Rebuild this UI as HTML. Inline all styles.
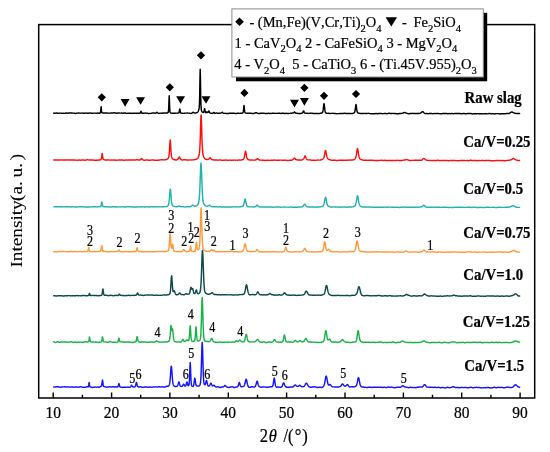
<!DOCTYPE html>
<html><head><meta charset="utf-8"><title>XRD</title>
<style>html,body{margin:0;padding:0;background:#fff}svg{display:block}text{font-kerning:none;stroke:#000;stroke-width:.22px}</style></head>
<body>
<svg width="550" height="452" viewBox="0 0 550 452">
<rect width="550" height="452" fill="#fff"/>
<rect x="38.7" y="24.6" width="496" height="373.4" fill="none" stroke="#000" stroke-width="1.5"/>
<path d="M53.2,398 v-5.5 M82.4,398 v-3.2 M111.6,398 v-5.5 M140.7,398 v-3.2 M169.9,398 v-5.5 M199.1,398 v-3.2 M228.3,398 v-5.5 M257.5,398 v-3.2 M286.6,398 v-5.5 M315.8,398 v-3.2 M345.0,398 v-5.5 M374.2,398 v-3.2 M403.4,398 v-5.5 M432.5,398 v-3.2 M461.7,398 v-5.5 M490.9,398 v-3.2 M520.1,398 v-5.5" stroke="#000" stroke-width="1.4" fill="none"/>
<path d="M53.20,113.03 L53.45,113.07 L53.70,113.12 L53.95,113.18 L54.20,113.20 L54.45,113.23 L54.70,113.25 L54.95,113.24 L55.20,113.19 L55.45,113.14 L55.70,113.10 L55.95,113.05 L56.20,113.03 L56.45,113.02 L56.70,113.06 L56.95,113.12 L57.20,113.17 L57.45,113.22 L57.70,113.21 L57.95,113.24 L58.20,113.22 L58.45,113.18 L58.70,113.14 L58.95,113.15 L59.20,113.17 L59.45,113.16 L59.70,113.12 L59.95,113.12 L60.20,113.13 L60.45,113.11 L60.70,113.12 L60.95,113.15 L61.20,113.24 L61.45,113.29 L61.70,113.33 L61.95,113.38 L62.20,113.38 L62.45,113.35 L62.70,113.30 L62.95,113.29 L63.20,113.30 L63.45,113.28 L63.70,113.30 L63.95,113.35 L64.20,113.37 L64.45,113.37 L64.70,113.34 L64.95,113.30 L65.20,113.24 L65.45,113.13 L65.70,113.04 L65.95,112.97 L66.20,112.94 L66.45,112.95 L66.70,112.99 L66.95,113.08 L67.20,113.14 L67.45,113.20 L67.70,113.20 L67.95,113.19 L68.20,113.13 L68.45,113.06 L68.70,113.05 L68.95,113.02 L69.20,113.03 L69.45,113.04 L69.70,113.06 L69.95,113.07 L70.20,113.04 L70.45,113.01 L70.70,112.99 L70.95,112.95 L71.20,112.93 L71.45,112.92 L71.70,112.93 L71.95,112.97 L72.20,113.00 L72.45,113.05 L72.70,113.10 L72.95,113.12 L73.20,113.14 L73.45,113.13 L73.70,113.13 L73.95,113.16 L74.20,113.18 L74.45,113.22 L74.70,113.28 L74.95,113.36 L75.20,113.42 L75.45,113.42 L75.70,113.41 L75.95,113.38 L76.20,113.33 L76.45,113.27 L76.70,113.21 L76.95,113.15 L77.20,113.12 L77.45,113.10 L77.70,113.07 L77.95,113.03 L78.20,113.02 L78.45,113.05 L78.70,113.05 L78.95,113.04 L79.20,113.05 L79.45,113.09 L79.70,113.12 L79.95,113.13 L80.20,113.13 L80.45,113.15 L80.70,113.17 L80.95,113.15 L81.20,113.13 L81.45,113.11 L81.70,113.10 L81.95,113.08 L82.20,113.05 L82.45,113.06 L82.70,113.10 L82.95,113.12 L83.20,113.16 L83.45,113.19 L83.70,113.23 L83.95,113.24 L84.20,113.23 L84.45,113.23 L84.70,113.20 L84.95,113.17 L85.20,113.15 L85.45,113.11 L85.70,113.08 L85.95,113.06 L86.20,113.05 L86.45,113.07 L86.70,113.10 L86.95,113.15 L87.20,113.20 L87.45,113.23 L87.70,113.26 L87.95,113.27 L88.20,113.25 L88.45,113.20 L88.70,113.16 L88.95,113.11 L89.20,113.08 L89.45,113.05 L89.70,113.04 L89.95,113.05 L90.20,113.07 L90.45,113.09 L90.70,113.12 L90.95,113.13 L91.20,113.17 L91.45,113.17 L91.70,113.17 L91.95,113.17 L92.20,113.17 L92.45,113.17 L92.70,113.17 L92.95,113.15 L93.20,113.15 L93.45,113.15 L93.70,113.14 L93.95,113.13 L94.20,113.10 L94.45,113.11 L94.70,113.12 L94.95,113.11 L95.20,113.14 L95.45,113.14 L95.70,113.19 L95.95,113.23 L96.20,113.27 L96.45,113.29 L96.70,113.29 L96.95,113.28 L97.20,113.23 L97.45,113.15 L97.70,113.07 L97.95,113.03 L98.20,113.02 L98.45,113.06 L98.70,113.12 L98.95,113.17 L99.20,113.22 L99.45,113.22 L99.70,113.19 L99.95,113.09 L100.20,112.91 L100.45,112.42 L100.70,110.74 L100.95,107.39 L101.20,106.75 L101.45,110.04 L101.70,112.04 L101.95,112.63 L102.20,112.77 L102.45,112.85 L102.70,112.94 L102.95,112.99 L103.20,113.02 L103.45,113.01 L103.70,113.01 L103.95,112.98 L104.20,112.95 L104.45,112.94 L104.70,112.95 L104.95,112.98 L105.20,113.00 L105.45,113.02 L105.70,113.02 L105.95,113.00 L106.20,113.00 L106.45,112.97 L106.70,112.99 L106.95,113.00 L107.20,113.03 L107.45,113.08 L107.70,113.10 L107.95,113.14 L108.20,113.13 L108.45,113.15 L108.70,113.16 L108.95,113.13 L109.20,113.15 L109.45,113.14 L109.70,113.17 L109.95,113.15 L110.20,113.13 L110.45,113.10 L110.70,113.04 L110.95,113.00 L111.20,112.97 L111.45,112.95 L111.70,112.95 L111.95,113.01 L112.20,113.05 L112.45,113.07 L112.70,113.08 L112.95,113.07 L113.20,113.02 L113.45,112.94 L113.70,112.87 L113.95,112.82 L114.20,112.78 L114.45,112.74 L114.70,112.78 L114.95,112.83 L115.20,112.90 L115.45,112.99 L115.70,113.08 L115.95,113.20 L116.20,113.26 L116.45,113.28 L116.70,113.27 L116.95,113.23 L117.20,113.18 L117.45,113.10 L117.70,113.02 L117.95,113.00 L118.20,112.97 L118.45,112.97 L118.70,112.98 L118.95,112.99 L119.20,113.04 L119.45,113.06 L119.70,113.12 L119.95,113.13 L120.20,113.13 L120.45,113.14 L120.70,113.11 L120.95,113.09 L121.20,113.06 L121.45,113.07 L121.70,113.09 L121.95,113.12 L122.20,113.16 L122.45,113.21 L122.70,113.23 L122.95,113.23 L123.20,113.18 L123.45,113.13 L123.70,113.08 L123.95,113.03 L124.20,112.97 L124.45,112.93 L124.70,112.95 L124.95,112.97 L125.20,113.00 L125.45,113.05 L125.70,113.14 L125.95,113.25 L126.20,113.32 L126.45,113.37 L126.70,113.38 L126.95,113.39 L127.20,113.35 L127.45,113.31 L127.70,113.25 L127.95,113.23 L128.20,113.26 L128.45,113.27 L128.70,113.28 L128.95,113.28 L129.20,113.30 L129.45,113.29 L129.70,113.24 L129.95,113.20 L130.20,113.18 L130.45,113.15 L130.70,113.17 L130.95,113.20 L131.20,113.26 L131.45,113.32 L131.70,113.38 L131.95,113.42 L132.20,113.40 L132.45,113.38 L132.70,113.30 L132.95,113.25 L133.20,113.19 L133.45,113.18 L133.70,113.18 L133.95,113.20 L134.20,113.25 L134.45,113.26 L134.70,113.26 L134.95,113.23 L135.20,113.19 L135.45,113.15 L135.70,113.14 L135.95,113.16 L136.20,113.18 L136.45,113.20 L136.70,113.26 L136.95,113.31 L137.20,113.33 L137.45,113.33 L137.70,113.32 L137.95,113.31 L138.20,113.26 L138.45,113.23 L138.70,113.19 L138.95,113.17 L139.20,113.19 L139.45,113.23 L139.70,113.24 L139.95,113.23 L140.20,113.09 L140.45,112.72 L140.70,111.98 L140.95,111.28 L141.20,111.60 L141.45,112.37 L141.70,112.90 L141.95,113.13 L142.20,113.23 L142.45,113.26 L142.70,113.26 L142.95,113.24 L143.20,113.22 L143.45,113.19 L143.70,113.18 L143.95,113.17 L144.20,113.16 L144.45,113.16 L144.70,113.14 L144.95,113.12 L145.20,113.09 L145.45,113.09 L145.70,113.09 L145.95,113.10 L146.20,113.11 L146.45,113.15 L146.70,113.18 L146.95,113.22 L147.20,113.25 L147.45,113.30 L147.70,113.36 L147.95,113.40 L148.20,113.44 L148.45,113.46 L148.70,113.49 L148.95,113.48 L149.20,113.46 L149.45,113.43 L149.70,113.40 L149.95,113.39 L150.20,113.40 L150.45,113.41 L150.70,113.39 L150.95,113.37 L151.20,113.35 L151.45,113.28 L151.70,113.20 L151.95,113.13 L152.20,113.09 L152.45,113.06 L152.70,113.07 L152.95,113.10 L153.20,113.10 L153.45,113.09 L153.70,113.08 L153.95,113.08 L154.20,113.07 L154.45,113.06 L154.70,113.08 L154.95,113.13 L155.20,113.16 L155.45,113.16 L155.70,113.13 L155.95,113.08 L156.20,112.95 L156.45,112.74 L156.70,112.47 L156.95,112.28 L157.20,112.39 L157.45,112.67 L157.70,112.93 L157.95,113.09 L158.20,113.19 L158.45,113.29 L158.70,113.35 L158.95,113.35 L159.20,113.35 L159.45,113.33 L159.70,113.27 L159.95,113.19 L160.20,113.13 L160.45,113.12 L160.70,113.10 L160.95,113.12 L161.20,113.19 L161.45,113.22 L161.70,113.24 L161.95,113.22 L162.20,113.21 L162.45,113.14 L162.70,113.05 L162.95,113.00 L163.20,112.97 L163.45,112.98 L163.70,112.97 L163.95,113.02 L164.20,113.07 L164.45,113.09 L164.70,113.10 L164.95,113.08 L165.20,113.07 L165.45,113.05 L165.70,113.02 L165.95,113.01 L166.20,113.00 L166.45,113.01 L166.70,113.02 L166.95,113.02 L167.20,113.00 L167.45,112.96 L167.70,112.87 L167.95,112.69 L168.20,112.30 L168.45,111.25 L168.70,108.02 L168.95,101.11 L169.20,95.76 L169.45,101.07 L169.70,107.94 L169.95,111.18 L170.20,112.25 L170.45,112.65 L170.70,112.87 L170.95,113.01 L171.20,113.10 L171.45,113.14 L171.70,113.14 L171.95,113.16 L172.20,113.17 L172.45,113.18 L172.70,113.19 L172.95,113.19 L173.20,113.20 L173.45,113.19 L173.70,113.17 L173.95,113.17 L174.20,113.19 L174.45,113.20 L174.70,113.18 L174.95,113.17 L175.20,113.19 L175.45,113.17 L175.70,113.14 L175.95,113.13 L176.20,113.13 L176.45,113.14 L176.70,113.15 L176.95,113.13 L177.20,113.15 L177.45,113.15 L177.70,113.15 L177.95,113.14 L178.20,113.08 L178.45,113.05 L178.70,112.94 L178.95,112.70 L179.20,112.04 L179.45,110.60 L179.70,108.97 L179.95,109.25 L180.20,111.05 L180.45,112.34 L180.70,112.89 L180.95,113.07 L181.20,113.12 L181.45,113.15 L181.70,113.18 L181.95,113.20 L182.20,113.24 L182.45,113.30 L182.70,113.33 L182.95,113.35 L183.20,113.36 L183.45,113.37 L183.70,113.35 L183.95,113.31 L184.20,113.30 L184.45,113.27 L184.70,113.22 L184.95,113.15 L185.20,113.14 L185.45,113.14 L185.70,113.12 L185.95,113.12 L186.20,113.13 L186.45,113.14 L186.70,113.12 L186.95,113.09 L187.20,113.08 L187.45,113.06 L187.70,113.07 L187.95,113.10 L188.20,113.12 L188.45,113.13 L188.70,113.13 L188.95,113.14 L189.20,113.15 L189.45,113.16 L189.70,113.19 L189.95,113.28 L190.20,113.35 L190.45,113.40 L190.70,113.41 L190.95,113.41 L191.20,113.38 L191.45,113.30 L191.70,113.18 L191.95,113.05 L192.20,112.88 L192.45,112.66 L192.70,112.43 L192.95,112.28 L193.20,112.31 L193.45,112.42 L193.70,112.57 L193.95,112.71 L194.20,112.83 L194.45,112.91 L194.70,112.95 L194.95,112.96 L195.20,112.94 L195.45,112.93 L195.70,112.89 L195.95,112.85 L196.20,112.78 L196.45,112.72 L196.70,112.68 L196.95,112.61 L197.20,112.49 L197.45,112.30 L197.70,112.05 L197.95,111.72 L198.20,111.28 L198.45,110.74 L198.70,110.08 L198.95,109.22 L199.20,107.65 L199.45,103.83 L199.70,94.58 L199.95,79.18 L200.20,69.20 L200.45,79.60 L200.70,95.44 L200.95,105.00 L201.20,108.97 L201.45,110.53 L201.70,111.29 L201.95,111.74 L202.20,111.98 L202.45,112.15 L202.70,112.28 L202.95,112.37 L203.20,112.41 L203.45,112.40 L203.70,112.22 L203.95,111.62 L204.20,110.38 L204.45,108.85 L204.70,108.66 L204.95,110.11 L205.20,111.55 L205.45,112.34 L205.70,112.62 L205.95,112.71 L206.20,112.66 L206.45,112.44 L206.70,112.09 L206.95,111.81 L207.20,111.91 L207.45,112.20 L207.70,112.42 L207.95,112.45 L208.20,112.26 L208.45,111.77 L208.70,111.12 L208.95,110.92 L209.20,111.46 L209.45,112.17 L209.70,112.67 L209.95,112.93 L210.20,113.05 L210.45,113.11 L210.70,113.15 L210.95,113.17 L211.20,113.18 L211.45,113.19 L211.70,113.19 L211.95,113.18 L212.20,113.17 L212.45,113.18 L212.70,113.18 L212.95,113.15 L213.20,113.05 L213.45,112.87 L213.70,112.62 L213.95,112.40 L214.20,112.54 L214.45,112.87 L214.70,113.14 L214.95,113.25 L215.20,113.26 L215.45,113.24 L215.70,113.18 L215.95,113.13 L216.20,113.08 L216.45,113.09 L216.70,113.07 L216.95,113.11 L217.20,113.16 L217.45,113.21 L217.70,113.24 L217.95,113.24 L218.20,113.26 L218.45,113.23 L218.70,113.19 L218.95,113.18 L219.20,113.16 L219.45,113.17 L219.70,113.18 L219.95,113.19 L220.20,113.17 L220.45,113.12 L220.70,113.06 L220.95,112.99 L221.20,112.90 L221.45,112.81 L221.70,112.68 L221.95,112.46 L222.20,112.22 L222.45,112.20 L222.70,112.55 L222.95,112.93 L223.20,113.21 L223.45,113.36 L223.70,113.40 L223.95,113.38 L224.20,113.36 L224.45,113.36 L224.70,113.32 L224.95,113.32 L225.20,113.35 L225.45,113.40 L225.70,113.39 L225.95,113.40 L226.20,113.43 L226.45,113.46 L226.70,113.44 L226.95,113.40 L227.20,113.43 L227.45,113.45 L227.70,113.45 L227.95,113.43 L228.20,113.44 L228.45,113.45 L228.70,113.42 L228.95,113.36 L229.20,113.31 L229.45,113.28 L229.70,113.24 L229.95,113.21 L230.20,113.20 L230.45,113.21 L230.70,113.22 L230.95,113.22 L231.20,113.24 L231.45,113.25 L231.70,113.27 L231.95,113.28 L232.20,113.28 L232.45,113.30 L232.70,113.30 L232.95,113.30 L233.20,113.27 L233.45,113.27 L233.70,113.29 L233.95,113.28 L234.20,113.31 L234.45,113.34 L234.70,113.39 L234.95,113.40 L235.20,113.44 L235.45,113.47 L235.70,113.47 L235.95,113.48 L236.20,113.46 L236.45,113.44 L236.70,113.39 L236.95,113.35 L237.20,113.31 L237.45,113.27 L237.70,113.27 L237.95,113.28 L238.20,113.28 L238.45,113.29 L238.70,113.34 L238.95,113.38 L239.20,113.39 L239.45,113.37 L239.70,113.37 L239.95,113.35 L240.20,113.29 L240.45,113.24 L240.70,113.20 L240.95,113.19 L241.20,113.18 L241.45,113.18 L241.70,113.19 L241.95,113.18 L242.20,113.15 L242.45,113.10 L242.70,112.98 L242.95,112.69 L243.20,111.96 L243.45,110.31 L243.70,107.64 L243.95,105.46 L244.20,106.49 L244.45,109.27 L244.70,111.38 L244.95,112.42 L245.20,112.84 L245.45,113.04 L245.70,113.11 L245.95,113.12 L246.20,113.12 L246.45,113.15 L246.70,113.17 L246.95,113.20 L247.20,113.22 L247.45,113.24 L247.70,113.26 L247.95,113.26 L248.20,113.24 L248.45,113.22 L248.70,113.23 L248.95,113.24 L249.20,113.25 L249.45,113.26 L249.70,113.28 L249.95,113.28 L250.20,113.28 L250.45,113.28 L250.70,113.29 L250.95,113.29 L251.20,113.30 L251.45,113.36 L251.70,113.37 L251.95,113.39 L252.20,113.43 L252.45,113.45 L252.70,113.48 L252.95,113.46 L253.20,113.46 L253.45,113.44 L253.70,113.38 L253.95,113.35 L254.20,113.29 L254.45,113.24 L254.70,113.16 L254.95,113.08 L255.20,112.97 L255.45,112.82 L255.70,112.67 L255.95,112.61 L256.20,112.62 L256.45,112.71 L256.70,112.87 L256.95,113.01 L257.20,113.13 L257.45,113.24 L257.70,113.34 L257.95,113.40 L258.20,113.43 L258.45,113.47 L258.70,113.53 L258.95,113.53 L259.20,113.49 L259.45,113.47 L259.70,113.43 L259.95,113.38 L260.20,113.33 L260.45,113.28 L260.70,113.27 L260.95,113.26 L261.20,113.26 L261.45,113.27 L261.70,113.29 L261.95,113.30 L262.20,113.27 L262.45,113.26 L262.70,113.24 L262.95,113.20 L263.20,113.18 L263.45,113.20 L263.70,113.24 L263.95,113.29 L264.20,113.32 L264.45,113.37 L264.70,113.40 L264.95,113.42 L265.20,113.42 L265.45,113.41 L265.70,113.44 L265.95,113.44 L266.20,113.45 L266.45,113.45 L266.70,113.47 L266.95,113.49 L267.20,113.47 L267.45,113.45 L267.70,113.40 L267.95,113.35 L268.20,113.32 L268.45,113.31 L268.70,113.32 L268.95,113.32 L269.20,113.38 L269.45,113.44 L269.70,113.42 L269.95,113.41 L270.20,113.39 L270.45,113.41 L270.70,113.38 L270.95,113.37 L271.20,113.40 L271.45,113.41 L271.70,113.39 L271.95,113.33 L272.20,113.28 L272.45,113.24 L272.70,113.21 L272.95,113.20 L273.20,113.24 L273.45,113.29 L273.70,113.34 L273.95,113.37 L274.20,113.37 L274.45,113.38 L274.70,113.35 L274.95,113.33 L275.20,113.33 L275.45,113.35 L275.70,113.37 L275.95,113.35 L276.20,113.38 L276.45,113.40 L276.70,113.39 L276.95,113.37 L277.20,113.35 L277.45,113.36 L277.70,113.34 L277.95,113.29 L278.20,113.25 L278.45,113.22 L278.70,113.21 L278.95,113.18 L279.20,113.17 L279.45,113.20 L279.70,113.24 L279.95,113.30 L280.20,113.35 L280.45,113.39 L280.70,113.42 L280.95,113.43 L281.20,113.41 L281.45,113.35 L281.70,113.29 L281.95,113.25 L282.20,113.20 L282.45,113.17 L282.70,113.17 L282.95,113.18 L283.20,113.20 L283.45,113.23 L283.70,113.28 L283.95,113.34 L284.20,113.39 L284.45,113.44 L284.70,113.47 L284.95,113.46 L285.20,113.44 L285.45,113.40 L285.70,113.34 L285.95,113.31 L286.20,113.31 L286.45,113.36 L286.70,113.40 L286.95,113.42 L287.20,113.46 L287.45,113.48 L287.70,113.49 L287.95,113.47 L288.20,113.44 L288.45,113.44 L288.70,113.42 L288.95,113.42 L289.20,113.40 L289.45,113.38 L289.70,113.36 L289.95,113.35 L290.20,113.34 L290.45,113.31 L290.70,113.29 L290.95,113.27 L291.20,113.25 L291.45,113.22 L291.70,113.17 L291.95,113.13 L292.20,113.09 L292.45,113.07 L292.70,113.07 L292.95,113.04 L293.20,112.99 L293.45,112.91 L293.70,112.72 L293.95,112.46 L294.20,112.15 L294.45,111.99 L294.70,112.12 L294.95,112.45 L295.20,112.80 L295.45,113.03 L295.70,113.16 L295.95,113.24 L296.20,113.26 L296.45,113.25 L296.70,113.24 L296.95,113.27 L297.20,113.31 L297.45,113.34 L297.70,113.35 L297.95,113.41 L298.20,113.44 L298.45,113.45 L298.70,113.47 L298.95,113.47 L299.20,113.51 L299.45,113.48 L299.70,113.49 L299.95,113.49 L300.20,113.47 L300.45,113.46 L300.70,113.41 L300.95,113.39 L301.20,113.36 L301.45,113.30 L301.70,113.25 L301.95,113.20 L302.20,113.12 L302.45,112.97 L302.70,112.68 L302.95,112.21 L303.20,111.53 L303.45,110.87 L303.70,110.86 L303.95,111.49 L304.20,112.26 L304.45,112.78 L304.70,113.03 L304.95,113.15 L305.20,113.18 L305.45,113.22 L305.70,113.24 L305.95,113.27 L306.20,113.31 L306.45,113.31 L306.70,113.31 L306.95,113.31 L307.20,113.33 L307.45,113.34 L307.70,113.37 L307.95,113.39 L308.20,113.41 L308.45,113.40 L308.70,113.39 L308.95,113.37 L309.20,113.35 L309.45,113.31 L309.70,113.29 L309.95,113.28 L310.20,113.24 L310.45,113.21 L310.70,113.19 L310.95,113.18 L311.20,113.14 L311.45,113.13 L311.70,113.15 L311.95,113.20 L312.20,113.22 L312.45,113.27 L312.70,113.34 L312.95,113.42 L313.20,113.47 L313.45,113.47 L313.70,113.50 L313.95,113.50 L314.20,113.52 L314.45,113.49 L314.70,113.47 L314.95,113.49 L315.20,113.49 L315.45,113.50 L315.70,113.48 L315.95,113.48 L316.20,113.47 L316.45,113.45 L316.70,113.43 L316.95,113.42 L317.20,113.41 L317.45,113.43 L317.70,113.46 L317.95,113.50 L318.20,113.54 L318.45,113.56 L318.70,113.61 L318.95,113.60 L319.20,113.56 L319.45,113.49 L319.70,113.43 L319.95,113.40 L320.20,113.34 L320.45,113.30 L320.70,113.26 L320.95,113.23 L321.20,113.19 L321.45,113.12 L321.70,113.00 L321.95,112.87 L322.20,112.71 L322.45,112.44 L322.70,111.92 L322.95,110.95 L323.20,109.41 L323.45,107.28 L323.70,104.97 L323.95,103.59 L324.20,104.18 L324.45,106.26 L324.70,108.60 L324.95,110.45 L325.20,111.69 L325.45,112.43 L325.70,112.85 L325.95,113.07 L326.20,113.19 L326.45,113.24 L326.70,113.30 L326.95,113.33 L327.20,113.33 L327.45,113.35 L327.70,113.35 L327.95,113.36 L328.20,113.33 L328.45,113.32 L328.70,113.33 L328.95,113.34 L329.20,113.35 L329.45,113.38 L329.70,113.43 L329.95,113.44 L330.20,113.43 L330.45,113.40 L330.70,113.40 L330.95,113.38 L331.20,113.35 L331.45,113.35 L331.70,113.37 L331.95,113.37 L332.20,113.36 L332.45,113.34 L332.70,113.35 L332.95,113.35 L333.20,113.33 L333.45,113.37 L333.70,113.39 L333.95,113.41 L334.20,113.41 L334.45,113.43 L334.70,113.46 L334.95,113.46 L335.20,113.50 L335.45,113.55 L335.70,113.61 L335.95,113.62 L336.20,113.65 L336.45,113.67 L336.70,113.66 L336.95,113.66 L337.20,113.63 L337.45,113.63 L337.70,113.61 L337.95,113.60 L338.20,113.61 L338.45,113.61 L338.70,113.62 L338.95,113.62 L339.20,113.60 L339.45,113.59 L339.70,113.57 L339.95,113.55 L340.20,113.50 L340.45,113.48 L340.70,113.50 L340.95,113.51 L341.20,113.53 L341.45,113.54 L341.70,113.58 L341.95,113.60 L342.20,113.59 L342.45,113.59 L342.70,113.55 L342.95,113.53 L343.20,113.47 L343.45,113.41 L343.70,113.36 L343.95,113.31 L344.20,113.29 L344.45,113.27 L344.70,113.31 L344.95,113.36 L345.20,113.38 L345.45,113.40 L345.70,113.40 L345.95,113.41 L346.20,113.41 L346.45,113.42 L346.70,113.43 L346.95,113.45 L347.20,113.50 L347.45,113.54 L347.70,113.53 L347.95,113.49 L348.20,113.48 L348.45,113.48 L348.70,113.46 L348.95,113.43 L349.20,113.44 L349.45,113.45 L349.70,113.46 L349.95,113.47 L350.20,113.48 L350.45,113.49 L350.70,113.52 L350.95,113.57 L351.20,113.59 L351.45,113.59 L351.70,113.60 L351.95,113.60 L352.20,113.56 L352.45,113.48 L352.70,113.41 L352.95,113.33 L353.20,113.24 L353.45,113.14 L353.70,113.05 L353.95,112.96 L354.20,112.81 L354.45,112.56 L354.70,112.07 L354.95,111.17 L355.20,109.75 L355.45,107.80 L355.70,105.74 L355.95,104.53 L356.20,105.13 L356.45,107.06 L356.70,109.15 L356.95,110.81 L357.20,111.88 L357.45,112.50 L357.70,112.81 L357.95,112.97 L358.20,113.05 L358.45,113.12 L358.70,113.18 L358.95,113.22 L359.20,113.27 L359.45,113.31 L359.70,113.37 L359.95,113.41 L360.20,113.43 L360.45,113.45 L360.70,113.44 L360.95,113.43 L361.20,113.44 L361.45,113.43 L361.70,113.46 L361.95,113.49 L362.20,113.53 L362.45,113.56 L362.70,113.54 L362.95,113.55 L363.20,113.51 L363.45,113.46 L363.70,113.41 L363.95,113.38 L364.20,113.39 L364.45,113.38 L364.70,113.39 L364.95,113.43 L365.20,113.45 L365.45,113.51 L365.70,113.53 L365.95,113.55 L366.20,113.54 L366.45,113.51 L366.70,113.50 L366.95,113.43 L367.20,113.40 L367.45,113.38 L367.70,113.37 L367.95,113.36 L368.20,113.32 L368.45,113.36 L368.70,113.36 L368.95,113.40 L369.20,113.45 L369.45,113.52 L369.70,113.62 L369.95,113.65 L370.20,113.67 L370.45,113.68 L370.70,113.66 L370.95,113.63 L371.20,113.61 L371.45,113.62 L371.70,113.68 L371.95,113.72 L372.20,113.78 L372.45,113.83 L372.70,113.82 L372.95,113.81 L373.20,113.77 L373.45,113.74 L373.70,113.70 L373.95,113.70 L374.20,113.74 L374.45,113.75 L374.70,113.74 L374.95,113.74 L375.20,113.69 L375.45,113.62 L375.70,113.54 L375.95,113.51 L376.20,113.49 L376.45,113.49 L376.70,113.56 L376.95,113.62 L377.20,113.66 L377.45,113.71 L377.70,113.71 L377.95,113.68 L378.20,113.61 L378.45,113.55 L378.70,113.50 L378.95,113.43 L379.20,113.43 L379.45,113.42 L379.70,113.42 L379.95,113.39 L380.20,113.40 L380.45,113.41 L380.70,113.40 L380.95,113.43 L381.20,113.48 L381.45,113.57 L381.70,113.60 L381.95,113.63 L382.20,113.65 L382.45,113.66 L382.70,113.65 L382.95,113.63 L383.20,113.62 L383.45,113.60 L383.70,113.60 L383.95,113.59 L384.20,113.58 L384.45,113.55 L384.70,113.54 L384.95,113.53 L385.20,113.50 L385.45,113.49 L385.70,113.50 L385.95,113.54 L386.20,113.56 L386.45,113.60 L386.70,113.67 L386.95,113.71 L387.20,113.71 L387.45,113.65 L387.70,113.61 L387.95,113.52 L388.20,113.42 L388.45,113.31 L388.70,113.25 L388.95,113.25 L389.20,113.25 L389.45,113.28 L389.70,113.33 L389.95,113.42 L390.20,113.48 L390.45,113.49 L390.70,113.53 L390.95,113.57 L391.20,113.57 L391.45,113.54 L391.70,113.51 L391.95,113.50 L392.20,113.46 L392.45,113.39 L392.70,113.36 L392.95,113.37 L393.20,113.38 L393.45,113.41 L393.70,113.44 L393.95,113.48 L394.20,113.50 L394.45,113.50 L394.70,113.48 L394.95,113.49 L395.20,113.53 L395.45,113.57 L395.70,113.65 L395.95,113.71 L396.20,113.79 L396.45,113.82 L396.70,113.80 L396.95,113.79 L397.20,113.75 L397.45,113.73 L397.70,113.72 L397.95,113.72 L398.20,113.73 L398.45,113.71 L398.70,113.69 L398.95,113.66 L399.20,113.59 L399.45,113.57 L399.70,113.53 L399.95,113.52 L400.20,113.50 L400.45,113.50 L400.70,113.50 L400.95,113.47 L401.20,113.43 L401.45,113.37 L401.70,113.35 L401.95,113.30 L402.20,113.25 L402.45,113.19 L402.70,113.15 L402.95,113.10 L403.20,113.00 L403.45,112.89 L403.70,112.79 L403.95,112.69 L404.20,112.60 L404.45,112.53 L404.70,112.51 L404.95,112.55 L405.20,112.61 L405.45,112.69 L405.70,112.80 L405.95,112.94 L406.20,113.07 L406.45,113.18 L406.70,113.28 L406.95,113.37 L407.20,113.44 L407.45,113.47 L407.70,113.51 L407.95,113.58 L408.20,113.66 L408.45,113.71 L408.70,113.74 L408.95,113.75 L409.20,113.74 L409.45,113.64 L409.70,113.54 L409.95,113.49 L410.20,113.46 L410.45,113.44 L410.70,113.44 L410.95,113.48 L411.20,113.51 L411.45,113.48 L411.70,113.44 L411.95,113.41 L412.20,113.37 L412.45,113.35 L412.70,113.33 L412.95,113.35 L413.20,113.38 L413.45,113.42 L413.70,113.44 L413.95,113.47 L414.20,113.49 L414.45,113.52 L414.70,113.53 L414.95,113.53 L415.20,113.56 L415.45,113.56 L415.70,113.57 L415.95,113.55 L416.20,113.55 L416.45,113.55 L416.70,113.52 L416.95,113.50 L417.20,113.47 L417.45,113.50 L417.70,113.50 L417.95,113.50 L418.20,113.53 L418.45,113.54 L418.70,113.55 L418.95,113.50 L419.20,113.44 L419.45,113.40 L419.70,113.33 L419.95,113.25 L420.20,113.16 L420.45,113.05 L420.70,112.93 L420.95,112.75 L421.20,112.59 L421.45,112.37 L421.70,112.16 L421.95,111.97 L422.20,111.79 L422.45,111.69 L422.70,111.69 L422.95,111.85 L423.20,112.06 L423.45,112.32 L423.70,112.57 L423.95,112.80 L424.20,113.01 L424.45,113.17 L424.70,113.32 L424.95,113.44 L425.20,113.54 L425.45,113.61 L425.70,113.62 L425.95,113.60 L426.20,113.57 L426.45,113.55 L426.70,113.54 L426.95,113.55 L427.20,113.58 L427.45,113.63 L427.70,113.68 L427.95,113.68 L428.20,113.66 L428.45,113.63 L428.70,113.61 L428.95,113.58 L429.20,113.52 L429.45,113.54 L429.70,113.54 L429.95,113.52 L430.20,113.51 L430.45,113.51 L430.70,113.53 L430.95,113.51 L431.20,113.53 L431.45,113.55 L431.70,113.58 L431.95,113.61 L432.20,113.64 L432.45,113.67 L432.70,113.66 L432.95,113.67 L433.20,113.64 L433.45,113.61 L433.70,113.59 L433.95,113.57 L434.20,113.57 L434.45,113.58 L434.70,113.61 L434.95,113.61 L435.20,113.61 L435.45,113.61 L435.70,113.58 L435.95,113.52 L436.20,113.47 L436.45,113.47 L436.70,113.46 L436.95,113.45 L437.20,113.44 L437.45,113.48 L437.70,113.53 L437.95,113.53 L438.20,113.53 L438.45,113.55 L438.70,113.62 L438.95,113.64 L439.20,113.63 L439.45,113.64 L439.70,113.66 L439.95,113.67 L440.20,113.66 L440.45,113.67 L440.70,113.71 L440.95,113.76 L441.20,113.77 L441.45,113.76 L441.70,113.74 L441.95,113.70 L442.20,113.62 L442.45,113.55 L442.70,113.53 L442.95,113.51 L443.20,113.51 L443.45,113.51 L443.70,113.54 L443.95,113.55 L444.20,113.55 L444.45,113.54 L444.70,113.53 L444.95,113.52 L445.20,113.50 L445.45,113.50 L445.70,113.47 L445.95,113.46 L446.20,113.47 L446.45,113.48 L446.70,113.51 L446.95,113.55 L447.20,113.62 L447.45,113.67 L447.70,113.72 L447.95,113.74 L448.20,113.73 L448.45,113.68 L448.70,113.63 L448.95,113.59 L449.20,113.57 L449.45,113.56 L449.70,113.58 L449.95,113.63 L450.20,113.66 L450.45,113.68 L450.70,113.67 L450.95,113.65 L451.20,113.63 L451.45,113.59 L451.70,113.57 L451.95,113.57 L452.20,113.59 L452.45,113.59 L452.70,113.61 L452.95,113.63 L453.20,113.67 L453.45,113.66 L453.70,113.65 L453.95,113.65 L454.20,113.61 L454.45,113.61 L454.70,113.56 L454.95,113.54 L455.20,113.52 L455.45,113.50 L455.70,113.50 L455.95,113.48 L456.20,113.51 L456.45,113.54 L456.70,113.55 L456.95,113.56 L457.20,113.55 L457.45,113.54 L457.70,113.51 L457.95,113.47 L458.20,113.45 L458.45,113.46 L458.70,113.46 L458.95,113.50 L459.20,113.52 L459.45,113.55 L459.70,113.57 L459.95,113.56 L460.20,113.61 L460.45,113.65 L460.70,113.70 L460.95,113.71 L461.20,113.72 L461.45,113.76 L461.70,113.72 L461.95,113.67 L462.20,113.64 L462.45,113.64 L462.70,113.62 L462.95,113.59 L463.20,113.59 L463.45,113.58 L463.70,113.56 L463.95,113.55 L464.20,113.57 L464.45,113.59 L464.70,113.63 L464.95,113.69 L465.20,113.73 L465.45,113.75 L465.70,113.74 L465.95,113.74 L466.20,113.74 L466.45,113.69 L466.70,113.64 L466.95,113.64 L467.20,113.63 L467.45,113.59 L467.70,113.53 L467.95,113.53 L468.20,113.55 L468.45,113.52 L468.70,113.51 L468.95,113.55 L469.20,113.61 L469.45,113.60 L469.70,113.57 L469.95,113.57 L470.20,113.56 L470.45,113.56 L470.70,113.53 L470.95,113.56 L471.20,113.62 L471.45,113.68 L471.70,113.76 L471.95,113.82 L472.20,113.89 L472.45,113.92 L472.70,113.91 L472.95,113.89 L473.20,113.87 L473.45,113.82 L473.70,113.77 L473.95,113.75 L474.20,113.77 L474.45,113.80 L474.70,113.78 L474.95,113.79 L475.20,113.80 L475.45,113.81 L475.70,113.77 L475.95,113.71 L476.20,113.71 L476.45,113.69 L476.70,113.67 L476.95,113.62 L477.20,113.63 L477.45,113.64 L477.70,113.64 L477.95,113.64 L478.20,113.66 L478.45,113.71 L478.70,113.72 L478.95,113.75 L479.20,113.77 L479.45,113.78 L479.70,113.78 L479.95,113.78 L480.20,113.77 L480.45,113.74 L480.70,113.73 L480.95,113.72 L481.20,113.70 L481.45,113.70 L481.70,113.72 L481.95,113.74 L482.20,113.77 L482.45,113.80 L482.70,113.85 L482.95,113.86 L483.20,113.85 L483.45,113.86 L483.70,113.84 L483.95,113.81 L484.20,113.77 L484.45,113.75 L484.70,113.73 L484.95,113.70 L485.20,113.67 L485.45,113.67 L485.70,113.67 L485.95,113.68 L486.20,113.73 L486.45,113.79 L486.70,113.84 L486.95,113.87 L487.20,113.89 L487.45,113.88 L487.70,113.84 L487.95,113.78 L488.20,113.70 L488.45,113.64 L488.70,113.58 L488.95,113.53 L489.20,113.46 L489.45,113.45 L489.70,113.49 L489.95,113.52 L490.20,113.58 L490.45,113.63 L490.70,113.72 L490.95,113.78 L491.20,113.78 L491.45,113.77 L491.70,113.75 L491.95,113.73 L492.20,113.69 L492.45,113.64 L492.70,113.64 L492.95,113.67 L493.20,113.73 L493.45,113.77 L493.70,113.83 L493.95,113.88 L494.20,113.91 L494.45,113.93 L494.70,113.90 L494.95,113.87 L495.20,113.81 L495.45,113.77 L495.70,113.72 L495.95,113.65 L496.20,113.61 L496.45,113.60 L496.70,113.60 L496.95,113.61 L497.20,113.60 L497.45,113.61 L497.70,113.62 L497.95,113.62 L498.20,113.64 L498.45,113.66 L498.70,113.71 L498.95,113.77 L499.20,113.82 L499.45,113.88 L499.70,113.91 L499.95,113.93 L500.20,113.93 L500.45,113.91 L500.70,113.88 L500.95,113.83 L501.20,113.78 L501.45,113.77 L501.70,113.75 L501.95,113.77 L502.20,113.80 L502.45,113.81 L502.70,113.82 L502.95,113.81 L503.20,113.79 L503.45,113.75 L503.70,113.70 L503.95,113.70 L504.20,113.70 L504.45,113.71 L504.70,113.73 L504.95,113.74 L505.20,113.74 L505.45,113.69 L505.70,113.66 L505.95,113.62 L506.20,113.57 L506.45,113.57 L506.70,113.55 L506.95,113.55 L507.20,113.54 L507.45,113.54 L507.70,113.54 L507.95,113.53 L508.20,113.54 L508.45,113.54 L508.70,113.51 L508.95,113.45 L509.20,113.36 L509.45,113.26 L509.70,113.11 L509.95,112.96 L510.20,112.77 L510.45,112.59 L510.70,112.42 L510.95,112.23 L511.20,112.07 L511.45,111.97 L511.70,111.94 L511.95,111.95 L512.20,112.01 L512.45,112.15 L512.70,112.30 L512.95,112.44 L513.20,112.59 L513.45,112.74 L513.70,112.88 L513.95,112.98 L514.20,113.09 L514.45,113.17 L514.70,113.20 L514.95,113.26 L515.20,113.31 L515.45,113.33 L515.70,113.37 L515.95,113.41 L516.20,113.46 L516.45,113.48 L516.70,113.48 L516.95,113.50 L517.20,113.49 L517.45,113.48 L517.70,113.47 L517.95,113.46 L518.20,113.47 L518.45,113.47 L518.70,113.50 L518.95,113.51 L519.20,113.53 L519.45,113.55 L519.70,113.57 L519.95,113.60 L520.20,113.62" fill="none" stroke="#000000" stroke-width="1.45" stroke-linejoin="round"/>
<path d="M53.20,159.91 L53.45,159.91 L53.70,159.89 L53.95,159.90 L54.20,159.91 L54.45,159.91 L54.70,159.91 L54.95,159.91 L55.20,159.94 L55.45,159.97 L55.70,160.01 L55.95,160.04 L56.20,160.07 L56.45,160.10 L56.70,160.07 L56.95,160.06 L57.20,160.03 L57.45,160.02 L57.70,160.02 L57.95,160.01 L58.20,160.05 L58.45,160.06 L58.70,160.07 L58.95,160.07 L59.20,160.05 L59.45,160.05 L59.70,160.01 L59.95,159.98 L60.20,159.94 L60.45,159.91 L60.70,159.89 L60.95,159.88 L61.20,159.89 L61.45,159.90 L61.70,159.92 L61.95,159.94 L62.20,159.98 L62.45,159.98 L62.70,159.99 L62.95,160.00 L63.20,160.03 L63.45,160.05 L63.70,160.05 L63.95,160.08 L64.20,160.09 L64.45,160.07 L64.70,160.07 L64.95,160.06 L65.20,160.08 L65.45,160.08 L65.70,160.08 L65.95,160.09 L66.20,160.06 L66.45,160.04 L66.70,159.98 L66.95,159.93 L67.20,159.88 L67.45,159.87 L67.70,159.87 L67.95,159.89 L68.20,159.94 L68.45,160.00 L68.70,160.04 L68.95,160.06 L69.20,160.06 L69.45,160.04 L69.70,160.00 L69.95,159.96 L70.20,159.95 L70.45,159.95 L70.70,159.93 L70.95,159.93 L71.20,159.94 L71.45,159.96 L71.70,159.96 L71.95,159.97 L72.20,160.01 L72.45,160.05 L72.70,160.08 L72.95,160.09 L73.20,160.09 L73.45,160.07 L73.70,160.06 L73.95,160.06 L74.20,160.08 L74.45,160.08 L74.70,160.09 L74.95,160.13 L75.20,160.16 L75.45,160.16 L75.70,160.15 L75.95,160.14 L76.20,160.15 L76.45,160.14 L76.70,160.12 L76.95,160.13 L77.20,160.15 L77.45,160.18 L77.70,160.19 L77.95,160.19 L78.20,160.19 L78.45,160.16 L78.70,160.13 L78.95,160.08 L79.20,160.04 L79.45,160.04 L79.70,160.04 L79.95,160.09 L80.20,160.13 L80.45,160.16 L80.70,160.19 L80.95,160.18 L81.20,160.15 L81.45,160.10 L81.70,160.04 L81.95,160.00 L82.20,159.97 L82.45,159.95 L82.70,159.95 L82.95,159.96 L83.20,159.99 L83.45,160.02 L83.70,160.06 L83.95,160.10 L84.20,160.15 L84.45,160.18 L84.70,160.20 L84.95,160.19 L85.20,160.16 L85.45,160.13 L85.70,160.06 L85.95,160.00 L86.20,159.95 L86.45,159.89 L86.70,159.85 L86.95,159.82 L87.20,159.82 L87.45,159.83 L87.70,159.83 L87.95,159.87 L88.20,159.88 L88.45,159.90 L88.70,159.90 L88.95,159.94 L89.20,159.99 L89.45,160.00 L89.70,160.03 L89.95,160.04 L90.20,160.04 L90.45,160.00 L90.70,159.96 L90.95,159.96 L91.20,159.94 L91.45,159.95 L91.70,159.99 L91.95,160.02 L92.20,160.04 L92.45,160.06 L92.70,160.08 L92.95,160.08 L93.20,160.08 L93.45,160.11 L93.70,160.14 L93.95,160.16 L94.20,160.17 L94.45,160.19 L94.70,160.21 L94.95,160.20 L95.20,160.18 L95.45,160.18 L95.70,160.20 L95.95,160.22 L96.20,160.23 L96.45,160.24 L96.70,160.26 L96.95,160.25 L97.20,160.22 L97.45,160.17 L97.70,160.12 L97.95,160.06 L98.20,160.01 L98.45,159.96 L98.70,159.94 L98.95,159.91 L99.20,159.90 L99.45,159.90 L99.70,159.91 L99.95,159.92 L100.20,159.90 L100.45,159.86 L100.70,159.74 L100.95,159.52 L101.20,159.10 L101.45,158.29 L101.70,156.86 L101.95,154.84 L102.20,153.58 L102.45,154.80 L102.70,156.77 L102.95,158.15 L103.20,158.89 L103.45,159.23 L103.70,159.43 L103.95,159.57 L104.20,159.70 L104.45,159.80 L104.70,159.85 L104.95,159.91 L105.20,159.95 L105.45,159.96 L105.70,159.93 L105.95,159.91 L106.20,159.91 L106.45,159.92 L106.70,159.92 L106.95,159.90 L107.20,159.91 L107.45,159.91 L107.70,159.91 L107.95,159.91 L108.20,159.88 L108.45,159.90 L108.70,159.91 L108.95,159.96 L109.20,160.00 L109.45,160.02 L109.70,160.09 L109.95,160.14 L110.20,160.17 L110.45,160.15 L110.70,160.11 L110.95,160.10 L111.20,160.07 L111.45,160.01 L111.70,159.98 L111.95,160.00 L112.20,160.04 L112.45,160.07 L112.70,160.10 L112.95,160.15 L113.20,160.17 L113.45,160.15 L113.70,160.12 L113.95,160.07 L114.20,160.02 L114.45,159.99 L114.70,159.98 L114.95,160.01 L115.20,160.05 L115.45,160.11 L115.70,160.16 L115.95,160.19 L116.20,160.19 L116.45,160.17 L116.70,160.17 L116.95,160.16 L117.20,160.14 L117.45,160.13 L117.70,160.13 L117.95,160.14 L118.20,160.11 L118.45,160.08 L118.70,160.07 L118.95,160.07 L119.20,160.05 L119.45,160.03 L119.70,160.04 L119.95,160.04 L120.20,160.03 L120.45,160.02 L120.70,160.03 L120.95,160.03 L121.20,160.01 L121.45,159.99 L121.70,159.97 L121.95,159.96 L122.20,159.94 L122.45,159.96 L122.70,160.00 L122.95,160.07 L123.20,160.13 L123.45,160.17 L123.70,160.20 L123.95,160.22 L124.20,160.19 L124.45,160.17 L124.70,160.13 L124.95,160.10 L125.20,160.08 L125.45,160.05 L125.70,160.03 L125.95,159.99 L126.20,159.98 L126.45,159.96 L126.70,159.97 L126.95,159.98 L127.20,160.03 L127.45,160.07 L127.70,160.10 L127.95,160.10 L128.20,160.09 L128.45,160.06 L128.70,160.00 L128.95,159.98 L129.20,159.96 L129.45,159.98 L129.70,159.98 L129.95,159.98 L130.20,160.01 L130.45,160.01 L130.70,160.01 L130.95,159.99 L131.20,159.98 L131.45,159.97 L131.70,159.97 L131.95,159.97 L132.20,159.98 L132.45,159.99 L132.70,160.00 L132.95,160.02 L133.20,160.03 L133.45,160.04 L133.70,160.04 L133.95,160.05 L134.20,160.05 L134.45,160.04 L134.70,160.03 L134.95,159.99 L135.20,159.97 L135.45,159.93 L135.70,159.90 L135.95,159.87 L136.20,159.83 L136.45,159.81 L136.70,159.79 L136.95,159.80 L137.20,159.81 L137.45,159.83 L137.70,159.87 L137.95,159.90 L138.20,159.94 L138.45,159.98 L138.70,160.03 L138.95,160.07 L139.20,160.09 L139.45,160.06 L139.70,160.03 L139.95,159.95 L140.20,159.83 L140.45,159.63 L140.70,159.38 L140.95,159.11 L141.20,158.80 L141.45,158.60 L141.70,158.66 L141.95,158.93 L142.20,159.23 L142.45,159.47 L142.70,159.66 L142.95,159.83 L143.20,159.95 L143.45,160.04 L143.70,160.10 L143.95,160.16 L144.20,160.20 L144.45,160.19 L144.70,160.18 L144.95,160.16 L145.20,160.14 L145.45,160.10 L145.70,160.08 L145.95,160.05 L146.20,160.00 L146.45,159.99 L146.70,159.97 L146.95,159.98 L147.20,159.98 L147.45,160.01 L147.70,160.04 L147.95,160.07 L148.20,160.11 L148.45,160.15 L148.70,160.19 L148.95,160.23 L149.20,160.25 L149.45,160.25 L149.70,160.21 L149.95,160.20 L150.20,160.18 L150.45,160.16 L150.70,160.13 L150.95,160.11 L151.20,160.11 L151.45,160.09 L151.70,160.04 L151.95,159.99 L152.20,159.95 L152.45,159.93 L152.70,159.92 L152.95,159.91 L153.20,159.93 L153.45,159.98 L153.70,160.03 L153.95,160.09 L154.20,160.14 L154.45,160.19 L154.70,160.24 L154.95,160.27 L155.20,160.29 L155.45,160.27 L155.70,160.26 L155.95,160.25 L156.20,160.21 L156.45,160.19 L156.70,160.16 L156.95,160.17 L157.20,160.16 L157.45,160.17 L157.70,160.20 L157.95,160.21 L158.20,160.20 L158.45,160.19 L158.70,160.18 L158.95,160.14 L159.20,160.06 L159.45,160.01 L159.70,159.99 L159.95,159.95 L160.20,159.90 L160.45,159.87 L160.70,159.87 L160.95,159.84 L161.20,159.80 L161.45,159.78 L161.70,159.80 L161.95,159.80 L162.20,159.81 L162.45,159.84 L162.70,159.88 L162.95,159.89 L163.20,159.89 L163.45,159.90 L163.70,159.90 L163.95,159.89 L164.20,159.88 L164.45,159.87 L164.70,159.86 L164.95,159.82 L165.20,159.79 L165.45,159.74 L165.70,159.68 L165.95,159.62 L166.20,159.55 L166.45,159.49 L166.70,159.41 L166.95,159.33 L167.20,159.21 L167.45,159.03 L167.70,158.83 L167.95,158.57 L168.20,158.23 L168.45,157.71 L168.70,156.98 L168.95,155.82 L169.20,153.89 L169.45,150.88 L169.70,146.72 L169.95,142.28 L170.20,140.09 L170.45,142.19 L170.70,146.57 L170.95,150.71 L171.20,153.73 L171.45,155.69 L171.70,156.94 L171.95,157.74 L172.20,158.29 L172.45,158.66 L172.70,158.94 L172.95,159.15 L173.20,159.30 L173.45,159.41 L173.70,159.48 L173.95,159.52 L174.20,159.56 L174.45,159.62 L174.70,159.69 L174.95,159.76 L175.20,159.85 L175.45,159.95 L175.70,160.00 L175.95,160.02 L176.20,159.99 L176.45,159.93 L176.70,159.84 L176.95,159.73 L177.20,159.61 L177.45,159.46 L177.70,159.31 L177.95,159.12 L178.20,158.84 L178.45,158.42 L178.70,157.91 L178.95,157.34 L179.20,156.95 L179.45,157.01 L179.70,157.50 L179.95,158.14 L180.20,158.67 L180.45,159.07 L180.70,159.34 L180.95,159.54 L181.20,159.69 L181.45,159.79 L181.70,159.86 L181.95,159.91 L182.20,159.94 L182.45,159.94 L182.70,159.93 L182.95,159.90 L183.20,159.87 L183.45,159.84 L183.70,159.84 L183.95,159.83 L184.20,159.81 L184.45,159.82 L184.70,159.83 L184.95,159.84 L185.20,159.83 L185.45,159.84 L185.70,159.86 L185.95,159.87 L186.20,159.89 L186.45,159.91 L186.70,159.93 L186.95,159.97 L187.20,160.00 L187.45,160.05 L187.70,160.08 L187.95,160.09 L188.20,160.11 L188.45,160.10 L188.70,160.08 L188.95,160.04 L189.20,159.98 L189.45,159.94 L189.70,159.91 L189.95,159.88 L190.20,159.87 L190.45,159.86 L190.70,159.89 L190.95,159.91 L191.20,159.90 L191.45,159.90 L191.70,159.91 L191.95,159.92 L192.20,159.88 L192.45,159.86 L192.70,159.87 L192.95,159.87 L193.20,159.85 L193.45,159.84 L193.70,159.85 L193.95,159.83 L194.20,159.77 L194.45,159.70 L194.70,159.62 L194.95,159.53 L195.20,159.44 L195.45,159.37 L195.70,159.31 L195.95,159.25 L196.20,159.21 L196.45,159.13 L196.70,159.01 L196.95,158.86 L197.20,158.67 L197.45,158.45 L197.70,158.15 L197.95,157.83 L198.20,157.43 L198.45,156.94 L198.70,156.30 L198.95,155.45 L199.20,154.27 L199.45,152.53 L199.70,149.90 L199.95,145.89 L200.20,140.06 L200.45,132.19 L200.70,123.06 L200.95,115.74 L201.20,114.94 L201.45,121.34 L201.70,130.51 L201.95,138.77 L202.20,145.00 L202.45,149.31 L202.70,152.18 L202.95,154.04 L203.20,155.28 L203.45,156.15 L203.70,156.81 L203.95,157.33 L204.20,157.74 L204.45,158.12 L204.70,158.41 L204.95,158.68 L205.20,158.87 L205.45,159.04 L205.70,159.18 L205.95,159.26 L206.20,159.34 L206.45,159.38 L206.70,159.43 L206.95,159.44 L207.20,159.43 L207.45,159.43 L207.70,159.41 L207.95,159.39 L208.20,159.32 L208.45,159.21 L208.70,159.09 L208.95,158.92 L209.20,158.70 L209.45,158.42 L209.70,158.13 L209.95,157.88 L210.20,157.81 L210.45,157.97 L210.70,158.27 L210.95,158.64 L211.20,158.96 L211.45,159.25 L211.70,159.44 L211.95,159.56 L212.20,159.64 L212.45,159.69 L212.70,159.73 L212.95,159.77 L213.20,159.80 L213.45,159.86 L213.70,159.92 L213.95,159.97 L214.20,160.01 L214.45,160.04 L214.70,160.07 L214.95,160.08 L215.20,160.05 L215.45,160.04 L215.70,160.01 L215.95,160.00 L216.20,159.99 L216.45,160.00 L216.70,160.03 L216.95,160.06 L217.20,160.10 L217.45,160.14 L217.70,160.16 L217.95,160.16 L218.20,160.15 L218.45,160.14 L218.70,160.09 L218.95,160.02 L219.20,159.95 L219.45,159.91 L219.70,159.89 L219.95,159.87 L220.20,159.88 L220.45,159.94 L220.70,160.02 L220.95,160.10 L221.20,160.17 L221.45,160.21 L221.70,160.24 L221.95,160.22 L222.20,160.20 L222.45,160.18 L222.70,160.16 L222.95,160.18 L223.20,160.21 L223.45,160.25 L223.70,160.25 L223.95,160.26 L224.20,160.24 L224.45,160.20 L224.70,160.15 L224.95,160.11 L225.20,160.09 L225.45,160.07 L225.70,160.07 L225.95,160.08 L226.20,160.09 L226.45,160.13 L226.70,160.17 L226.95,160.21 L227.20,160.27 L227.45,160.32 L227.70,160.35 L227.95,160.33 L228.20,160.32 L228.45,160.29 L228.70,160.24 L228.95,160.18 L229.20,160.14 L229.45,160.12 L229.70,160.12 L229.95,160.13 L230.20,160.15 L230.45,160.17 L230.70,160.19 L230.95,160.22 L231.20,160.21 L231.45,160.19 L231.70,160.18 L231.95,160.19 L232.20,160.20 L232.45,160.18 L232.70,160.16 L232.95,160.17 L233.20,160.16 L233.45,160.13 L233.70,160.09 L233.95,160.07 L234.20,160.09 L234.45,160.10 L234.70,160.12 L234.95,160.14 L235.20,160.16 L235.45,160.18 L235.70,160.18 L235.95,160.17 L236.20,160.14 L236.45,160.13 L236.70,160.13 L236.95,160.14 L237.20,160.15 L237.45,160.15 L237.70,160.16 L237.95,160.16 L238.20,160.12 L238.45,160.06 L238.70,160.01 L238.95,160.02 L239.20,160.01 L239.45,160.03 L239.70,160.08 L239.95,160.14 L240.20,160.15 L240.45,160.12 L240.70,160.08 L240.95,160.01 L241.20,159.93 L241.45,159.86 L241.70,159.82 L241.95,159.82 L242.20,159.81 L242.45,159.77 L242.70,159.71 L242.95,159.59 L243.20,159.40 L243.45,159.12 L243.70,158.73 L243.95,158.22 L244.20,157.48 L244.45,156.49 L244.70,155.17 L244.95,153.61 L245.20,152.13 L245.45,151.29 L245.70,151.62 L245.95,152.88 L246.20,154.44 L246.45,155.85 L246.70,156.97 L246.95,157.82 L247.20,158.43 L247.45,158.83 L247.70,159.13 L247.95,159.36 L248.20,159.54 L248.45,159.65 L248.70,159.73 L248.95,159.82 L249.20,159.89 L249.45,159.94 L249.70,159.97 L249.95,159.99 L250.20,160.02 L250.45,160.03 L250.70,160.04 L250.95,160.01 L251.20,160.02 L251.45,160.04 L251.70,160.03 L251.95,160.03 L252.20,160.05 L252.45,160.08 L252.70,160.10 L252.95,160.11 L253.20,160.14 L253.45,160.15 L253.70,160.14 L253.95,160.14 L254.20,160.13 L254.45,160.11 L254.70,160.08 L254.95,160.04 L255.20,160.01 L255.45,159.94 L255.70,159.86 L255.95,159.75 L256.20,159.61 L256.45,159.44 L256.70,159.20 L256.95,158.98 L257.20,158.81 L257.45,158.73 L257.70,158.79 L257.95,158.98 L258.20,159.25 L258.45,159.49 L258.70,159.64 L258.95,159.80 L259.20,159.91 L259.45,160.00 L259.70,160.05 L259.95,160.07 L260.20,160.11 L260.45,160.11 L260.70,160.11 L260.95,160.10 L261.20,160.11 L261.45,160.15 L261.70,160.18 L261.95,160.20 L262.20,160.24 L262.45,160.27 L262.70,160.28 L262.95,160.24 L263.20,160.20 L263.45,160.19 L263.70,160.19 L263.95,160.20 L264.20,160.24 L264.45,160.32 L264.70,160.41 L264.95,160.46 L265.20,160.48 L265.45,160.49 L265.70,160.47 L265.95,160.44 L266.20,160.37 L266.45,160.33 L266.70,160.31 L266.95,160.26 L267.20,160.24 L267.45,160.21 L267.70,160.22 L267.95,160.22 L268.20,160.24 L268.45,160.28 L268.70,160.32 L268.95,160.35 L269.20,160.36 L269.45,160.38 L269.70,160.38 L269.95,160.37 L270.20,160.34 L270.45,160.33 L270.70,160.32 L270.95,160.30 L271.20,160.31 L271.45,160.30 L271.70,160.32 L271.95,160.33 L272.20,160.34 L272.45,160.34 L272.70,160.31 L272.95,160.27 L273.20,160.24 L273.45,160.19 L273.70,160.13 L273.95,160.09 L274.20,160.08 L274.45,160.08 L274.70,160.09 L274.95,160.10 L275.20,160.14 L275.45,160.17 L275.70,160.17 L275.95,160.18 L276.20,160.18 L276.45,160.18 L276.70,160.16 L276.95,160.14 L277.20,160.16 L277.45,160.16 L277.70,160.19 L277.95,160.22 L278.20,160.24 L278.45,160.26 L278.70,160.27 L278.95,160.26 L279.20,160.24 L279.45,160.19 L279.70,160.17 L279.95,160.15 L280.20,160.13 L280.45,160.14 L280.70,160.13 L280.95,160.14 L281.20,160.15 L281.45,160.16 L281.70,160.16 L281.95,160.14 L282.20,160.16 L282.45,160.18 L282.70,160.19 L282.95,160.20 L283.20,160.20 L283.45,160.23 L283.70,160.21 L283.95,160.19 L284.20,160.18 L284.45,160.16 L284.70,160.15 L284.95,160.13 L285.20,160.15 L285.45,160.16 L285.70,160.18 L285.95,160.21 L286.20,160.25 L286.45,160.32 L286.70,160.35 L286.95,160.39 L287.20,160.43 L287.45,160.46 L287.70,160.47 L287.95,160.45 L288.20,160.44 L288.45,160.42 L288.70,160.39 L288.95,160.35 L289.20,160.30 L289.45,160.26 L289.70,160.23 L289.95,160.21 L290.20,160.20 L290.45,160.20 L290.70,160.21 L290.95,160.21 L291.20,160.21 L291.45,160.19 L291.70,160.13 L291.95,160.06 L292.20,159.97 L292.45,159.87 L292.70,159.71 L292.95,159.54 L293.20,159.34 L293.45,159.09 L293.70,158.79 L293.95,158.46 L294.20,158.20 L294.45,158.06 L294.70,158.17 L294.95,158.45 L295.20,158.79 L295.45,159.14 L295.70,159.40 L295.95,159.59 L296.20,159.68 L296.45,159.73 L296.70,159.78 L296.95,159.80 L297.20,159.84 L297.45,159.89 L297.70,159.97 L297.95,160.04 L298.20,160.06 L298.45,160.05 L298.70,160.04 L298.95,160.01 L299.20,159.96 L299.45,159.92 L299.70,159.92 L299.95,159.97 L300.20,160.01 L300.45,160.06 L300.70,160.12 L300.95,160.16 L301.20,160.15 L301.45,160.11 L301.70,160.05 L301.95,159.95 L302.20,159.84 L302.45,159.72 L302.70,159.60 L302.95,159.46 L303.20,159.27 L303.45,159.03 L303.70,158.70 L303.95,158.27 L304.20,157.70 L304.45,157.06 L304.70,156.40 L304.95,155.94 L305.20,155.89 L305.45,156.31 L305.70,156.98 L305.95,157.67 L306.20,158.31 L306.45,158.84 L306.70,159.24 L306.95,159.52 L307.20,159.71 L307.45,159.82 L307.70,159.88 L307.95,159.90 L308.20,159.89 L308.45,159.87 L308.70,159.87 L308.95,159.89 L309.20,159.89 L309.45,159.89 L309.70,159.89 L309.95,159.92 L310.20,159.94 L310.45,159.97 L310.70,160.01 L310.95,160.07 L311.20,160.13 L311.45,160.16 L311.70,160.18 L311.95,160.17 L312.20,160.17 L312.45,160.16 L312.70,160.16 L312.95,160.16 L313.20,160.17 L313.45,160.19 L313.70,160.20 L313.95,160.23 L314.20,160.24 L314.45,160.28 L314.70,160.31 L314.95,160.35 L315.20,160.36 L315.45,160.35 L315.70,160.36 L315.95,160.31 L316.20,160.24 L316.45,160.18 L316.70,160.15 L316.95,160.12 L317.20,160.07 L317.45,160.07 L317.70,160.08 L317.95,160.08 L318.20,160.08 L318.45,160.10 L318.70,160.13 L318.95,160.14 L319.20,160.14 L319.45,160.15 L319.70,160.14 L319.95,160.10 L320.20,160.06 L320.45,160.01 L320.70,159.93 L320.95,159.86 L321.20,159.77 L321.45,159.69 L321.70,159.60 L321.95,159.51 L322.20,159.43 L322.45,159.30 L322.70,159.15 L322.95,158.97 L323.20,158.72 L323.45,158.36 L323.70,157.86 L323.95,157.21 L324.20,156.34 L324.45,155.22 L324.70,153.85 L324.95,152.38 L325.20,151.08 L325.45,150.43 L325.70,150.69 L325.95,151.72 L326.20,153.14 L326.45,154.56 L326.70,155.79 L326.95,156.76 L327.20,157.51 L327.45,158.07 L327.70,158.48 L327.95,158.78 L328.20,159.01 L328.45,159.18 L328.70,159.32 L328.95,159.44 L329.20,159.54 L329.45,159.62 L329.70,159.70 L329.95,159.80 L330.20,159.89 L330.45,159.96 L330.70,160.03 L330.95,160.10 L331.20,160.15 L331.45,160.18 L331.70,160.21 L331.95,160.25 L332.20,160.29 L332.45,160.31 L332.70,160.32 L332.95,160.30 L333.20,160.28 L333.45,160.25 L333.70,160.22 L333.95,160.22 L334.20,160.19 L334.45,160.21 L334.70,160.22 L334.95,160.22 L335.20,160.25 L335.45,160.24 L335.70,160.28 L335.95,160.33 L336.20,160.41 L336.45,160.48 L336.70,160.53 L336.95,160.58 L337.20,160.57 L337.45,160.55 L337.70,160.47 L337.95,160.41 L338.20,160.34 L338.45,160.28 L338.70,160.25 L338.95,160.24 L339.20,160.25 L339.45,160.27 L339.70,160.29 L339.95,160.31 L340.20,160.30 L340.45,160.27 L340.70,160.25 L340.95,160.21 L341.20,160.20 L341.45,160.20 L341.70,160.22 L341.95,160.24 L342.20,160.27 L342.45,160.32 L342.70,160.34 L342.95,160.32 L343.20,160.31 L343.45,160.34 L343.70,160.33 L343.95,160.31 L344.20,160.30 L344.45,160.31 L344.70,160.31 L344.95,160.27 L345.20,160.24 L345.45,160.22 L345.70,160.21 L345.95,160.20 L346.20,160.21 L346.45,160.22 L346.70,160.23 L346.95,160.25 L347.20,160.26 L347.45,160.25 L347.70,160.22 L347.95,160.21 L348.20,160.17 L348.45,160.12 L348.70,160.09 L348.95,160.06 L349.20,160.07 L349.45,160.06 L349.70,160.09 L349.95,160.12 L350.20,160.16 L350.45,160.17 L350.70,160.14 L350.95,160.12 L351.20,160.09 L351.45,160.06 L351.70,160.00 L351.95,159.96 L352.20,159.95 L352.45,159.93 L352.70,159.90 L352.95,159.86 L353.20,159.85 L353.45,159.81 L353.70,159.75 L353.95,159.68 L354.20,159.56 L354.45,159.42 L354.70,159.22 L354.95,158.99 L355.20,158.67 L355.45,158.24 L355.70,157.64 L355.95,156.81 L356.20,155.71 L356.45,154.30 L356.70,152.61 L356.95,150.81 L357.20,149.27 L357.45,148.50 L357.70,148.85 L357.95,150.14 L358.20,151.88 L358.45,153.59 L358.70,155.07 L358.95,156.27 L359.20,157.19 L359.45,157.88 L359.70,158.38 L359.95,158.74 L360.20,159.01 L360.45,159.21 L360.70,159.35 L360.95,159.47 L361.20,159.57 L361.45,159.69 L361.70,159.76 L361.95,159.83 L362.20,159.91 L362.45,159.99 L362.70,160.04 L362.95,160.08 L363.20,160.13 L363.45,160.17 L363.70,160.17 L363.95,160.19 L364.20,160.21 L364.45,160.23 L364.70,160.26 L364.95,160.28 L365.20,160.31 L365.45,160.32 L365.70,160.32 L365.95,160.32 L366.20,160.31 L366.45,160.32 L366.70,160.32 L366.95,160.31 L367.20,160.34 L367.45,160.37 L367.70,160.38 L367.95,160.37 L368.20,160.38 L368.45,160.38 L368.70,160.33 L368.95,160.28 L369.20,160.24 L369.45,160.21 L369.70,160.17 L369.95,160.14 L370.20,160.16 L370.45,160.18 L370.70,160.20 L370.95,160.21 L371.20,160.22 L371.45,160.22 L371.70,160.21 L371.95,160.19 L372.20,160.18 L372.45,160.21 L372.70,160.24 L372.95,160.30 L373.20,160.38 L373.45,160.43 L373.70,160.49 L373.95,160.50 L374.20,160.51 L374.45,160.48 L374.70,160.45 L374.95,160.46 L375.20,160.44 L375.45,160.44 L375.70,160.44 L375.95,160.46 L376.20,160.48 L376.45,160.47 L376.70,160.48 L376.95,160.50 L377.20,160.52 L377.45,160.54 L377.70,160.53 L377.95,160.52 L378.20,160.50 L378.45,160.46 L378.70,160.41 L378.95,160.38 L379.20,160.36 L379.45,160.35 L379.70,160.35 L379.95,160.36 L380.20,160.37 L380.45,160.35 L380.70,160.32 L380.95,160.28 L381.20,160.23 L381.45,160.19 L381.70,160.18 L381.95,160.21 L382.20,160.27 L382.45,160.33 L382.70,160.41 L382.95,160.49 L383.20,160.52 L383.45,160.50 L383.70,160.44 L383.95,160.41 L384.20,160.37 L384.45,160.31 L384.70,160.29 L384.95,160.33 L385.20,160.38 L385.45,160.42 L385.70,160.47 L385.95,160.50 L386.20,160.54 L386.45,160.53 L386.70,160.52 L386.95,160.52 L387.20,160.52 L387.45,160.53 L387.70,160.52 L387.95,160.52 L388.20,160.53 L388.45,160.52 L388.70,160.50 L388.95,160.48 L389.20,160.48 L389.45,160.47 L389.70,160.46 L389.95,160.45 L390.20,160.45 L390.45,160.47 L390.70,160.46 L390.95,160.46 L391.20,160.48 L391.45,160.49 L391.70,160.50 L391.95,160.50 L392.20,160.50 L392.45,160.52 L392.70,160.51 L392.95,160.52 L393.20,160.51 L393.45,160.51 L393.70,160.52 L393.95,160.51 L394.20,160.51 L394.45,160.48 L394.70,160.49 L394.95,160.50 L395.20,160.49 L395.45,160.49 L395.70,160.49 L395.95,160.49 L396.20,160.46 L396.45,160.43 L396.70,160.41 L396.95,160.38 L397.20,160.34 L397.45,160.34 L397.70,160.36 L397.95,160.39 L398.20,160.39 L398.45,160.41 L398.70,160.42 L398.95,160.42 L399.20,160.41 L399.45,160.40 L399.70,160.41 L399.95,160.42 L400.20,160.42 L400.45,160.44 L400.70,160.45 L400.95,160.44 L401.20,160.45 L401.45,160.45 L401.70,160.43 L401.95,160.40 L402.20,160.37 L402.45,160.36 L402.70,160.32 L402.95,160.26 L403.20,160.23 L403.45,160.17 L403.70,160.10 L403.95,160.04 L404.20,159.99 L404.45,159.97 L404.70,159.94 L404.95,159.92 L405.20,159.93 L405.45,159.88 L405.70,159.82 L405.95,159.72 L406.20,159.66 L406.45,159.61 L406.70,159.57 L406.95,159.60 L407.20,159.65 L407.45,159.75 L407.70,159.84 L407.95,159.92 L408.20,160.04 L408.45,160.13 L408.70,160.20 L408.95,160.27 L409.20,160.33 L409.45,160.39 L409.70,160.41 L409.95,160.44 L410.20,160.46 L410.45,160.46 L410.70,160.46 L410.95,160.43 L411.20,160.40 L411.45,160.38 L411.70,160.36 L411.95,160.34 L412.20,160.34 L412.45,160.35 L412.70,160.36 L412.95,160.36 L413.20,160.36 L413.45,160.37 L413.70,160.34 L413.95,160.31 L414.20,160.30 L414.45,160.29 L414.70,160.28 L414.95,160.27 L415.20,160.30 L415.45,160.29 L415.70,160.27 L415.95,160.28 L416.20,160.27 L416.45,160.28 L416.70,160.26 L416.95,160.30 L417.20,160.32 L417.45,160.34 L417.70,160.36 L417.95,160.34 L418.20,160.31 L418.45,160.29 L418.70,160.25 L418.95,160.23 L419.20,160.21 L419.45,160.21 L419.70,160.25 L419.95,160.26 L420.20,160.27 L420.45,160.28 L420.70,160.27 L420.95,160.26 L421.20,160.22 L421.45,160.18 L421.70,160.11 L421.95,160.00 L422.20,159.84 L422.45,159.61 L422.70,159.35 L422.95,159.07 L423.20,158.79 L423.45,158.54 L423.70,158.40 L423.95,158.42 L424.20,158.58 L424.45,158.81 L424.70,159.04 L424.95,159.29 L425.20,159.51 L425.45,159.70 L425.70,159.84 L425.95,159.96 L426.20,160.08 L426.45,160.15 L426.70,160.21 L426.95,160.25 L427.20,160.30 L427.45,160.35 L427.70,160.36 L427.95,160.40 L428.20,160.42 L428.45,160.43 L428.70,160.42 L428.95,160.39 L429.20,160.38 L429.45,160.36 L429.70,160.35 L429.95,160.36 L430.20,160.37 L430.45,160.42 L430.70,160.44 L430.95,160.46 L431.20,160.47 L431.45,160.47 L431.70,160.47 L431.95,160.44 L432.20,160.44 L432.45,160.42 L432.70,160.41 L432.95,160.40 L433.20,160.41 L433.45,160.44 L433.70,160.44 L433.95,160.47 L434.20,160.50 L434.45,160.53 L434.70,160.53 L434.95,160.53 L435.20,160.55 L435.45,160.54 L435.70,160.54 L435.95,160.51 L436.20,160.51 L436.45,160.47 L436.70,160.43 L436.95,160.39 L437.20,160.33 L437.45,160.29 L437.70,160.24 L437.95,160.25 L438.20,160.26 L438.45,160.29 L438.70,160.36 L438.95,160.44 L439.20,160.52 L439.45,160.56 L439.70,160.60 L439.95,160.64 L440.20,160.63 L440.45,160.60 L440.70,160.57 L440.95,160.53 L441.20,160.49 L441.45,160.46 L441.70,160.47 L441.95,160.48 L442.20,160.50 L442.45,160.52 L442.70,160.56 L442.95,160.56 L443.20,160.54 L443.45,160.51 L443.70,160.46 L443.95,160.43 L444.20,160.39 L444.45,160.39 L444.70,160.41 L444.95,160.42 L445.20,160.47 L445.45,160.51 L445.70,160.56 L445.95,160.59 L446.20,160.57 L446.45,160.60 L446.70,160.60 L446.95,160.58 L447.20,160.57 L447.45,160.57 L447.70,160.61 L447.95,160.64 L448.20,160.67 L448.45,160.68 L448.70,160.68 L448.95,160.65 L449.20,160.60 L449.45,160.55 L449.70,160.50 L449.95,160.48 L450.20,160.49 L450.45,160.52 L450.70,160.54 L450.95,160.56 L451.20,160.57 L451.45,160.56 L451.70,160.54 L451.95,160.50 L452.20,160.48 L452.45,160.46 L452.70,160.46 L452.95,160.47 L453.20,160.44 L453.45,160.43 L453.70,160.42 L453.95,160.41 L454.20,160.40 L454.45,160.38 L454.70,160.45 L454.95,160.50 L455.20,160.53 L455.45,160.58 L455.70,160.62 L455.95,160.66 L456.20,160.63 L456.45,160.61 L456.70,160.60 L456.95,160.59 L457.20,160.59 L457.45,160.60 L457.70,160.63 L457.95,160.67 L458.20,160.71 L458.45,160.73 L458.70,160.72 L458.95,160.68 L459.20,160.64 L459.45,160.60 L459.70,160.56 L459.95,160.53 L460.20,160.51 L460.45,160.53 L460.70,160.55 L460.95,160.57 L461.20,160.57 L461.45,160.58 L461.70,160.58 L461.95,160.57 L462.20,160.54 L462.45,160.51 L462.70,160.50 L462.95,160.49 L463.20,160.50 L463.45,160.50 L463.70,160.51 L463.95,160.54 L464.20,160.56 L464.45,160.58 L464.70,160.58 L464.95,160.60 L465.20,160.61 L465.45,160.61 L465.70,160.61 L465.95,160.61 L466.20,160.60 L466.45,160.58 L466.70,160.55 L466.95,160.53 L467.20,160.51 L467.45,160.52 L467.70,160.56 L467.95,160.59 L468.20,160.63 L468.45,160.68 L468.70,160.70 L468.95,160.68 L469.20,160.62 L469.45,160.57 L469.70,160.50 L469.95,160.38 L470.20,160.30 L470.45,160.26 L470.70,160.25 L470.95,160.25 L471.20,160.28 L471.45,160.36 L471.70,160.45 L471.95,160.50 L472.20,160.54 L472.45,160.56 L472.70,160.55 L472.95,160.52 L473.20,160.47 L473.45,160.45 L473.70,160.45 L473.95,160.47 L474.20,160.49 L474.45,160.50 L474.70,160.55 L474.95,160.54 L475.20,160.53 L475.45,160.51 L475.70,160.53 L475.95,160.57 L476.20,160.57 L476.45,160.64 L476.70,160.68 L476.95,160.73 L477.20,160.74 L477.45,160.68 L477.70,160.64 L477.95,160.57 L478.20,160.53 L478.45,160.48 L478.70,160.46 L478.95,160.49 L479.20,160.52 L479.45,160.57 L479.70,160.61 L479.95,160.64 L480.20,160.64 L480.45,160.62 L480.70,160.60 L480.95,160.55 L481.20,160.48 L481.45,160.42 L481.70,160.37 L481.95,160.35 L482.20,160.34 L482.45,160.37 L482.70,160.42 L482.95,160.48 L483.20,160.57 L483.45,160.63 L483.70,160.66 L483.95,160.65 L484.20,160.64 L484.45,160.59 L484.70,160.54 L484.95,160.51 L485.20,160.50 L485.45,160.51 L485.70,160.52 L485.95,160.55 L486.20,160.58 L486.45,160.57 L486.70,160.56 L486.95,160.53 L487.20,160.50 L487.45,160.46 L487.70,160.39 L487.95,160.37 L488.20,160.37 L488.45,160.38 L488.70,160.41 L488.95,160.44 L489.20,160.49 L489.45,160.53 L489.70,160.56 L489.95,160.57 L490.20,160.59 L490.45,160.63 L490.70,160.65 L490.95,160.67 L491.20,160.68 L491.45,160.71 L491.70,160.72 L491.95,160.73 L492.20,160.76 L492.45,160.79 L492.70,160.84 L492.95,160.87 L493.20,160.89 L493.45,160.88 L493.70,160.84 L493.95,160.81 L494.20,160.77 L494.45,160.73 L494.70,160.69 L494.95,160.67 L495.20,160.66 L495.45,160.64 L495.70,160.60 L495.95,160.55 L496.20,160.52 L496.45,160.50 L496.70,160.47 L496.95,160.44 L497.20,160.44 L497.45,160.46 L497.70,160.48 L497.95,160.49 L498.20,160.51 L498.45,160.55 L498.70,160.56 L498.95,160.56 L499.20,160.53 L499.45,160.52 L499.70,160.51 L499.95,160.49 L500.20,160.49 L500.45,160.52 L500.70,160.56 L500.95,160.59 L501.20,160.62 L501.45,160.62 L501.70,160.62 L501.95,160.59 L502.20,160.55 L502.45,160.54 L502.70,160.54 L502.95,160.56 L503.20,160.57 L503.45,160.63 L503.70,160.67 L503.95,160.70 L504.20,160.73 L504.45,160.76 L504.70,160.78 L504.95,160.76 L505.20,160.75 L505.45,160.71 L505.70,160.64 L505.95,160.58 L506.20,160.50 L506.45,160.46 L506.70,160.39 L506.95,160.37 L507.20,160.39 L507.45,160.40 L507.70,160.41 L507.95,160.39 L508.20,160.38 L508.45,160.34 L508.70,160.27 L508.95,160.20 L509.20,160.15 L509.45,160.12 L509.70,160.11 L509.95,160.08 L510.20,160.05 L510.45,160.02 L510.70,159.95 L510.95,159.86 L511.20,159.72 L511.45,159.59 L511.70,159.45 L511.95,159.25 L512.20,159.07 L512.45,158.87 L512.70,158.72 L512.95,158.61 L513.20,158.55 L513.45,158.60 L513.70,158.67 L513.95,158.79 L514.20,158.94 L514.45,159.09 L514.70,159.24 L514.95,159.36 L515.20,159.52 L515.45,159.69 L515.70,159.82 L515.95,159.92 L516.20,160.00 L516.45,160.09 L516.70,160.15 L516.95,160.17 L517.20,160.23 L517.45,160.32 L517.70,160.41 L517.95,160.47 L518.20,160.50 L518.45,160.55 L518.70,160.56 L518.95,160.56 L519.20,160.55 L519.45,160.55 L519.70,160.58 L519.95,160.58 L520.20,160.58" fill="none" stroke="#ff0d0d" stroke-width="1.45" stroke-linejoin="round"/>
<path d="M53.20,206.86 L53.45,206.88 L53.70,206.87 L53.95,206.86 L54.20,206.86 L54.45,206.85 L54.70,206.85 L54.95,206.84 L55.20,206.84 L55.45,206.84 L55.70,206.84 L55.95,206.82 L56.20,206.81 L56.45,206.81 L56.70,206.80 L56.95,206.80 L57.20,206.81 L57.45,206.81 L57.70,206.79 L57.95,206.80 L58.20,206.79 L58.45,206.76 L58.70,206.74 L58.95,206.74 L59.20,206.75 L59.45,206.73 L59.70,206.74 L59.95,206.76 L60.20,206.76 L60.45,206.75 L60.70,206.75 L60.95,206.74 L61.20,206.73 L61.45,206.71 L61.70,206.72 L61.95,206.75 L62.20,206.77 L62.45,206.79 L62.70,206.83 L62.95,206.85 L63.20,206.85 L63.45,206.86 L63.70,206.87 L63.95,206.88 L64.20,206.87 L64.45,206.87 L64.70,206.85 L64.95,206.81 L65.20,206.77 L65.45,206.74 L65.70,206.72 L65.95,206.71 L66.20,206.73 L66.45,206.77 L66.70,206.80 L66.95,206.82 L67.20,206.82 L67.45,206.82 L67.70,206.78 L67.95,206.75 L68.20,206.74 L68.45,206.72 L68.70,206.74 L68.95,206.76 L69.20,206.79 L69.45,206.83 L69.70,206.86 L69.95,206.90 L70.20,206.94 L70.45,206.97 L70.70,206.96 L70.95,206.94 L71.20,206.90 L71.45,206.85 L71.70,206.79 L71.95,206.75 L72.20,206.75 L72.45,206.75 L72.70,206.77 L72.95,206.80 L73.20,206.84 L73.45,206.85 L73.70,206.85 L73.95,206.85 L74.20,206.88 L74.45,206.89 L74.70,206.91 L74.95,206.93 L75.20,206.95 L75.45,206.96 L75.70,206.94 L75.95,206.95 L76.20,206.95 L76.45,206.94 L76.70,206.93 L76.95,206.94 L77.20,206.94 L77.45,206.93 L77.70,206.92 L77.95,206.90 L78.20,206.88 L78.45,206.87 L78.70,206.85 L78.95,206.84 L79.20,206.83 L79.45,206.84 L79.70,206.85 L79.95,206.83 L80.20,206.82 L80.45,206.81 L80.70,206.79 L80.95,206.77 L81.20,206.76 L81.45,206.77 L81.70,206.77 L81.95,206.78 L82.20,206.79 L82.45,206.79 L82.70,206.80 L82.95,206.79 L83.20,206.80 L83.45,206.80 L83.70,206.82 L83.95,206.86 L84.20,206.88 L84.45,206.90 L84.70,206.91 L84.95,206.93 L85.20,206.93 L85.45,206.91 L85.70,206.92 L85.95,206.93 L86.20,206.92 L86.45,206.92 L86.70,206.93 L86.95,206.95 L87.20,206.96 L87.45,206.98 L87.70,207.00 L87.95,207.04 L88.20,207.06 L88.45,207.07 L88.70,207.06 L88.95,207.04 L89.20,207.02 L89.45,206.97 L89.70,206.93 L89.95,206.90 L90.20,206.88 L90.45,206.87 L90.70,206.87 L90.95,206.89 L91.20,206.90 L91.45,206.91 L91.70,206.92 L91.95,206.91 L92.20,206.90 L92.45,206.87 L92.70,206.85 L92.95,206.83 L93.20,206.79 L93.45,206.77 L93.70,206.75 L93.95,206.75 L94.20,206.73 L94.45,206.72 L94.70,206.74 L94.95,206.76 L95.20,206.78 L95.45,206.80 L95.70,206.84 L95.95,206.89 L96.20,206.90 L96.45,206.91 L96.70,206.93 L96.95,206.93 L97.20,206.90 L97.45,206.84 L97.70,206.80 L97.95,206.73 L98.20,206.66 L98.45,206.62 L98.70,206.61 L98.95,206.61 L99.20,206.63 L99.45,206.66 L99.70,206.70 L99.95,206.70 L100.20,206.63 L100.45,206.54 L100.70,206.33 L100.95,205.85 L101.20,204.89 L101.45,203.40 L101.70,202.01 L101.95,202.21 L102.20,203.73 L102.45,205.11 L102.70,205.94 L102.95,206.34 L103.20,206.55 L103.45,206.64 L103.70,206.71 L103.95,206.77 L104.20,206.82 L104.45,206.84 L104.70,206.83 L104.95,206.83 L105.20,206.81 L105.45,206.78 L105.70,206.76 L105.95,206.73 L106.20,206.72 L106.45,206.73 L106.70,206.77 L106.95,206.79 L107.20,206.81 L107.45,206.84 L107.70,206.88 L107.95,206.90 L108.20,206.89 L108.45,206.91 L108.70,206.92 L108.95,206.95 L109.20,206.97 L109.45,206.97 L109.70,207.01 L109.95,207.01 L110.20,207.00 L110.45,206.98 L110.70,206.97 L110.95,206.95 L111.20,206.93 L111.45,206.92 L111.70,206.90 L111.95,206.86 L112.20,206.83 L112.45,206.80 L112.70,206.76 L112.95,206.74 L113.20,206.73 L113.45,206.74 L113.70,206.73 L113.95,206.72 L114.20,206.72 L114.45,206.73 L114.70,206.75 L114.95,206.79 L115.20,206.86 L115.45,206.93 L115.70,206.99 L115.95,207.03 L116.20,207.05 L116.45,207.04 L116.70,207.02 L116.95,206.97 L117.20,206.94 L117.45,206.90 L117.70,206.88 L117.95,206.87 L118.20,206.85 L118.45,206.85 L118.70,206.85 L118.95,206.87 L119.20,206.88 L119.45,206.89 L119.70,206.91 L119.95,206.92 L120.20,206.93 L120.45,206.92 L120.70,206.91 L120.95,206.90 L121.20,206.88 L121.45,206.86 L121.70,206.85 L121.95,206.84 L122.20,206.83 L122.45,206.83 L122.70,206.84 L122.95,206.84 L123.20,206.86 L123.45,206.91 L123.70,206.95 L123.95,206.99 L124.20,207.00 L124.45,207.02 L124.70,207.01 L124.95,206.99 L125.20,206.96 L125.45,206.92 L125.70,206.91 L125.95,206.89 L126.20,206.87 L126.45,206.83 L126.70,206.81 L126.95,206.81 L127.20,206.78 L127.45,206.75 L127.70,206.75 L127.95,206.77 L128.20,206.78 L128.45,206.78 L128.70,206.81 L128.95,206.84 L129.20,206.86 L129.45,206.84 L129.70,206.84 L129.95,206.84 L130.20,206.83 L130.45,206.82 L130.70,206.80 L130.95,206.82 L131.20,206.81 L131.45,206.82 L131.70,206.82 L131.95,206.83 L132.20,206.85 L132.45,206.87 L132.70,206.91 L132.95,206.93 L133.20,206.95 L133.45,206.96 L133.70,206.99 L133.95,207.01 L134.20,207.01 L134.45,207.02 L134.70,207.04 L134.95,207.05 L135.20,207.04 L135.45,207.03 L135.70,207.03 L135.95,207.01 L136.20,206.98 L136.45,206.95 L136.70,206.95 L136.95,206.93 L137.20,206.92 L137.45,206.91 L137.70,206.92 L137.95,206.90 L138.20,206.89 L138.45,206.88 L138.70,206.88 L138.95,206.88 L139.20,206.87 L139.45,206.90 L139.70,206.90 L139.95,206.92 L140.20,206.93 L140.45,206.93 L140.70,206.91 L140.95,206.88 L141.20,206.85 L141.45,206.82 L141.70,206.78 L141.95,206.77 L142.20,206.77 L142.45,206.77 L142.70,206.80 L142.95,206.83 L143.20,206.86 L143.45,206.87 L143.70,206.88 L143.95,206.91 L144.20,206.93 L144.45,206.93 L144.70,206.93 L144.95,206.94 L145.20,206.94 L145.45,206.93 L145.70,206.91 L145.95,206.88 L146.20,206.86 L146.45,206.84 L146.70,206.83 L146.95,206.82 L147.20,206.83 L147.45,206.86 L147.70,206.88 L147.95,206.90 L148.20,206.92 L148.45,206.94 L148.70,206.94 L148.95,206.92 L149.20,206.92 L149.45,206.93 L149.70,206.93 L149.95,206.91 L150.20,206.89 L150.45,206.89 L150.70,206.86 L150.95,206.80 L151.20,206.78 L151.45,206.76 L151.70,206.76 L151.95,206.72 L152.20,206.71 L152.45,206.73 L152.70,206.73 L152.95,206.74 L153.20,206.75 L153.45,206.78 L153.70,206.81 L153.95,206.84 L154.20,206.87 L154.45,206.89 L154.70,206.92 L154.95,206.93 L155.20,206.92 L155.45,206.89 L155.70,206.87 L155.95,206.84 L156.20,206.82 L156.45,206.81 L156.70,206.81 L156.95,206.83 L157.20,206.84 L157.45,206.86 L157.70,206.88 L157.95,206.89 L158.20,206.90 L158.45,206.89 L158.70,206.88 L158.95,206.88 L159.20,206.86 L159.45,206.85 L159.70,206.83 L159.95,206.83 L160.20,206.84 L160.45,206.84 L160.70,206.85 L160.95,206.85 L161.20,206.86 L161.45,206.85 L161.70,206.84 L161.95,206.83 L162.20,206.83 L162.45,206.83 L162.70,206.82 L162.95,206.81 L163.20,206.80 L163.45,206.78 L163.70,206.75 L163.95,206.72 L164.20,206.68 L164.45,206.65 L164.70,206.63 L164.95,206.64 L165.20,206.64 L165.45,206.63 L165.70,206.64 L165.95,206.63 L166.20,206.60 L166.45,206.54 L166.70,206.48 L166.95,206.39 L167.20,206.27 L167.45,206.12 L167.70,205.95 L167.95,205.72 L168.20,205.38 L168.45,204.86 L168.70,204.03 L168.95,202.72 L169.20,200.76 L169.45,198.04 L169.70,194.73 L169.95,191.37 L170.20,189.19 L170.45,189.41 L170.70,191.87 L170.95,195.26 L171.20,198.46 L171.45,201.04 L171.70,202.89 L171.95,204.14 L172.20,204.95 L172.45,205.43 L172.70,205.75 L172.95,205.95 L173.20,206.10 L173.45,206.19 L173.70,206.26 L173.95,206.34 L174.20,206.42 L174.45,206.50 L174.70,206.55 L174.95,206.60 L175.20,206.63 L175.45,206.64 L175.70,206.65 L175.95,206.65 L176.20,206.67 L176.45,206.68 L176.70,206.70 L176.95,206.71 L177.20,206.68 L177.45,206.62 L177.70,206.53 L177.95,206.44 L178.20,206.31 L178.45,206.16 L178.70,206.06 L178.95,206.00 L179.20,206.04 L179.45,206.12 L179.70,206.26 L179.95,206.40 L180.20,206.51 L180.45,206.59 L180.70,206.63 L180.95,206.66 L181.20,206.67 L181.45,206.64 L181.70,206.62 L181.95,206.61 L182.20,206.62 L182.45,206.65 L182.70,206.67 L182.95,206.71 L183.20,206.76 L183.45,206.80 L183.70,206.83 L183.95,206.84 L184.20,206.86 L184.45,206.89 L184.70,206.90 L184.95,206.91 L185.20,206.91 L185.45,206.93 L185.70,206.91 L185.95,206.88 L186.20,206.85 L186.45,206.83 L186.70,206.81 L186.95,206.78 L187.20,206.79 L187.45,206.80 L187.70,206.81 L187.95,206.82 L188.20,206.83 L188.45,206.84 L188.70,206.83 L188.95,206.81 L189.20,206.78 L189.45,206.75 L189.70,206.72 L189.95,206.66 L190.20,206.61 L190.45,206.57 L190.70,206.47 L190.95,206.33 L191.20,206.17 L191.45,205.99 L191.70,205.77 L191.95,205.51 L192.20,205.28 L192.45,205.12 L192.70,205.08 L192.95,205.17 L193.20,205.36 L193.45,205.59 L193.70,205.80 L193.95,205.95 L194.20,206.06 L194.45,206.14 L194.70,206.18 L194.95,206.20 L195.20,206.18 L195.45,206.17 L195.70,206.12 L195.95,206.03 L196.20,205.92 L196.45,205.80 L196.70,205.66 L196.95,205.48 L197.20,205.29 L197.45,205.07 L197.70,204.80 L197.95,204.43 L198.20,203.96 L198.45,203.30 L198.70,202.36 L198.95,200.96 L199.20,198.90 L199.45,195.88 L199.70,191.70 L199.95,186.20 L200.20,179.54 L200.45,172.39 L200.70,166.15 L200.95,162.99 L201.20,164.36 L201.45,169.62 L201.70,176.63 L201.95,183.58 L202.20,189.58 L202.45,194.31 L202.70,197.80 L202.95,200.21 L203.20,201.84 L203.45,202.93 L203.70,203.67 L203.95,204.18 L204.20,204.55 L204.45,204.87 L204.70,205.15 L204.95,205.40 L205.20,205.60 L205.45,205.80 L205.70,205.95 L205.95,206.06 L206.20,206.11 L206.45,206.15 L206.70,206.18 L206.95,206.19 L207.20,206.19 L207.45,206.16 L207.70,206.11 L207.95,206.03 L208.20,205.93 L208.45,205.76 L208.70,205.59 L208.95,205.40 L209.20,205.27 L209.45,205.22 L209.70,205.31 L209.95,205.53 L210.20,205.79 L210.45,206.02 L210.70,206.19 L210.95,206.33 L211.20,206.44 L211.45,206.51 L211.70,206.55 L211.95,206.60 L212.20,206.64 L212.45,206.65 L212.70,206.66 L212.95,206.66 L213.20,206.68 L213.45,206.68 L213.70,206.70 L213.95,206.74 L214.20,206.78 L214.45,206.81 L214.70,206.84 L214.95,206.87 L215.20,206.87 L215.45,206.85 L215.70,206.84 L215.95,206.82 L216.20,206.81 L216.45,206.79 L216.70,206.81 L216.95,206.83 L217.20,206.86 L217.45,206.88 L217.70,206.90 L217.95,206.92 L218.20,206.93 L218.45,206.90 L218.70,206.90 L218.95,206.88 L219.20,206.85 L219.45,206.83 L219.70,206.81 L219.95,206.81 L220.20,206.80 L220.45,206.82 L220.70,206.84 L220.95,206.88 L221.20,206.91 L221.45,206.94 L221.70,206.96 L221.95,206.99 L222.20,206.99 L222.45,206.98 L222.70,206.97 L222.95,206.95 L223.20,206.94 L223.45,206.91 L223.70,206.91 L223.95,206.90 L224.20,206.91 L224.45,206.94 L224.70,206.95 L224.95,206.97 L225.20,207.00 L225.45,207.03 L225.70,207.04 L225.95,207.03 L226.20,207.04 L226.45,207.04 L226.70,207.01 L226.95,206.99 L227.20,206.98 L227.45,206.99 L227.70,206.97 L227.95,206.95 L228.20,206.95 L228.45,206.94 L228.70,206.93 L228.95,206.92 L229.20,206.91 L229.45,206.92 L229.70,206.93 L229.95,206.93 L230.20,206.94 L230.45,206.95 L230.70,206.97 L230.95,206.97 L231.20,206.97 L231.45,206.97 L231.70,206.97 L231.95,206.94 L232.20,206.91 L232.45,206.88 L232.70,206.87 L232.95,206.85 L233.20,206.83 L233.45,206.83 L233.70,206.85 L233.95,206.88 L234.20,206.89 L234.45,206.90 L234.70,206.91 L234.95,206.91 L235.20,206.90 L235.45,206.88 L235.70,206.89 L235.95,206.90 L236.20,206.90 L236.45,206.91 L236.70,206.91 L236.95,206.92 L237.20,206.92 L237.45,206.90 L237.70,206.89 L237.95,206.88 L238.20,206.89 L238.45,206.90 L238.70,206.89 L238.95,206.90 L239.20,206.91 L239.45,206.92 L239.70,206.92 L239.95,206.88 L240.20,206.85 L240.45,206.81 L240.70,206.75 L240.95,206.68 L241.20,206.62 L241.45,206.59 L241.70,206.55 L241.95,206.51 L242.20,206.45 L242.45,206.39 L242.70,206.30 L242.95,206.12 L243.20,205.85 L243.45,205.41 L243.70,204.76 L243.95,203.87 L244.20,202.72 L244.45,201.40 L244.70,200.09 L244.95,199.19 L245.20,199.10 L245.45,199.83 L245.70,201.05 L245.95,202.36 L246.20,203.54 L246.45,204.51 L246.70,205.22 L246.95,205.73 L247.20,206.08 L247.45,206.33 L247.70,206.50 L247.95,206.61 L248.20,206.70 L248.45,206.76 L248.70,206.81 L248.95,206.85 L249.20,206.89 L249.45,206.90 L249.70,206.90 L249.95,206.89 L250.20,206.88 L250.45,206.87 L250.70,206.83 L250.95,206.85 L251.20,206.86 L251.45,206.88 L251.70,206.89 L251.95,206.89 L252.20,206.91 L252.45,206.89 L252.70,206.89 L252.95,206.88 L253.20,206.89 L253.45,206.91 L253.70,206.91 L253.95,206.93 L254.20,206.93 L254.45,206.92 L254.70,206.89 L254.95,206.83 L255.20,206.74 L255.45,206.60 L255.70,206.41 L255.95,206.18 L256.20,205.90 L256.45,205.59 L256.70,205.30 L256.95,205.12 L257.20,205.12 L257.45,205.30 L257.70,205.59 L257.95,205.92 L258.20,206.20 L258.45,206.43 L258.70,206.59 L258.95,206.71 L259.20,206.77 L259.45,206.83 L259.70,206.88 L259.95,206.93 L260.20,206.98 L260.45,207.02 L260.70,207.06 L260.95,207.08 L261.20,207.08 L261.45,207.07 L261.70,207.05 L261.95,207.04 L262.20,207.02 L262.45,207.01 L262.70,207.01 L262.95,207.02 L263.20,207.03 L263.45,207.01 L263.70,207.02 L263.95,207.00 L264.20,206.99 L264.45,206.98 L264.70,206.95 L264.95,206.96 L265.20,206.96 L265.45,206.99 L265.70,207.03 L265.95,207.05 L266.20,207.09 L266.45,207.09 L266.70,207.10 L266.95,207.09 L267.20,207.07 L267.45,207.07 L267.70,207.06 L267.95,207.07 L268.20,207.06 L268.45,207.05 L268.70,207.06 L268.95,207.08 L269.20,207.09 L269.45,207.08 L269.70,207.08 L269.95,207.08 L270.20,207.05 L270.45,207.01 L270.70,206.98 L270.95,206.97 L271.20,206.97 L271.45,206.98 L271.70,207.03 L271.95,207.06 L272.20,207.11 L272.45,207.15 L272.70,207.17 L272.95,207.20 L273.20,207.20 L273.45,207.21 L273.70,207.19 L273.95,207.16 L274.20,207.15 L274.45,207.12 L274.70,207.10 L274.95,207.08 L275.20,207.06 L275.45,207.04 L275.70,207.02 L275.95,207.00 L276.20,206.97 L276.45,206.95 L276.70,206.94 L276.95,206.95 L277.20,206.95 L277.45,206.98 L277.70,207.00 L277.95,207.01 L278.20,207.02 L278.45,207.01 L278.70,207.02 L278.95,207.02 L279.20,207.02 L279.45,207.06 L279.70,207.10 L279.95,207.13 L280.20,207.18 L280.45,207.20 L280.70,207.21 L280.95,207.19 L281.20,207.16 L281.45,207.14 L281.70,207.10 L281.95,207.10 L282.20,207.10 L282.45,207.11 L282.70,207.12 L282.95,207.12 L283.20,207.13 L283.45,207.10 L283.70,207.08 L283.95,207.06 L284.20,207.07 L284.45,207.09 L284.70,207.09 L284.95,207.13 L285.20,207.14 L285.45,207.15 L285.70,207.16 L285.95,207.14 L286.20,207.13 L286.45,207.12 L286.70,207.12 L286.95,207.14 L287.20,207.12 L287.45,207.12 L287.70,207.12 L287.95,207.12 L288.20,207.14 L288.45,207.14 L288.70,207.16 L288.95,207.18 L289.20,207.17 L289.45,207.15 L289.70,207.11 L289.95,207.08 L290.20,207.04 L290.45,207.01 L290.70,207.01 L290.95,207.03 L291.20,207.06 L291.45,207.09 L291.70,207.12 L291.95,207.14 L292.20,207.15 L292.45,207.17 L292.70,207.17 L292.95,207.17 L293.20,207.17 L293.45,207.18 L293.70,207.19 L293.95,207.18 L294.20,207.16 L294.45,207.16 L294.70,207.17 L294.95,207.15 L295.20,207.15 L295.45,207.17 L295.70,207.21 L295.95,207.22 L296.20,207.21 L296.45,207.23 L296.70,207.24 L296.95,207.23 L297.20,207.19 L297.45,207.17 L297.70,207.16 L297.95,207.13 L298.20,207.10 L298.45,207.08 L298.70,207.08 L298.95,207.08 L299.20,207.07 L299.45,207.08 L299.70,207.09 L299.95,207.09 L300.20,207.09 L300.45,207.07 L300.70,207.05 L300.95,207.02 L301.20,206.97 L301.45,206.92 L301.70,206.86 L301.95,206.79 L302.20,206.70 L302.45,206.59 L302.70,206.43 L302.95,206.21 L303.20,205.94 L303.45,205.62 L303.70,205.23 L303.95,204.83 L304.20,204.48 L304.45,204.21 L304.70,204.11 L304.95,204.24 L305.20,204.53 L305.45,204.91 L305.70,205.30 L305.95,205.68 L306.20,206.01 L306.45,206.27 L306.70,206.47 L306.95,206.61 L307.20,206.72 L307.45,206.79 L307.70,206.86 L307.95,206.90 L308.20,206.96 L308.45,207.00 L308.70,207.06 L308.95,207.09 L309.20,207.09 L309.45,207.09 L309.70,207.08 L309.95,207.07 L310.20,207.05 L310.45,207.05 L310.70,207.06 L310.95,207.07 L311.20,207.08 L311.45,207.08 L311.70,207.07 L311.95,207.05 L312.20,207.04 L312.45,207.03 L312.70,207.01 L312.95,207.01 L313.20,207.04 L313.45,207.06 L313.70,207.07 L313.95,207.08 L314.20,207.10 L314.45,207.12 L314.70,207.14 L314.95,207.16 L315.20,207.17 L315.45,207.17 L315.70,207.16 L315.95,207.14 L316.20,207.11 L316.45,207.07 L316.70,207.05 L316.95,207.03 L317.20,207.02 L317.45,207.01 L317.70,206.99 L317.95,206.98 L318.20,206.96 L318.45,206.95 L318.70,206.92 L318.95,206.90 L319.20,206.91 L319.45,206.92 L319.70,206.89 L319.95,206.88 L320.20,206.88 L320.45,206.88 L320.70,206.84 L320.95,206.79 L321.20,206.76 L321.45,206.71 L321.70,206.63 L321.95,206.51 L322.20,206.40 L322.45,206.28 L322.70,206.12 L322.95,205.90 L323.20,205.61 L323.45,205.24 L323.70,204.69 L323.95,203.92 L324.20,202.92 L324.45,201.71 L324.70,200.34 L324.95,198.92 L325.20,197.76 L325.45,197.18 L325.70,197.39 L325.95,198.31 L326.20,199.61 L326.45,201.00 L326.70,202.31 L326.95,203.42 L327.20,204.32 L327.45,204.99 L327.70,205.47 L327.95,205.85 L328.20,206.11 L328.45,206.30 L328.70,206.45 L328.95,206.56 L329.20,206.68 L329.45,206.76 L329.70,206.83 L329.95,206.88 L330.20,206.93 L330.45,206.97 L330.70,206.98 L330.95,206.98 L331.20,207.01 L331.45,207.01 L331.70,207.01 L331.95,206.98 L332.20,206.98 L332.45,206.97 L332.70,206.91 L332.95,206.87 L333.20,206.86 L333.45,206.86 L333.70,206.86 L333.95,206.86 L334.20,206.88 L334.45,206.91 L334.70,206.91 L334.95,206.91 L335.20,206.92 L335.45,206.94 L335.70,206.96 L335.95,206.97 L336.20,207.01 L336.45,207.07 L336.70,207.09 L336.95,207.11 L337.20,207.13 L337.45,207.13 L337.70,207.12 L337.95,207.08 L338.20,207.07 L338.45,207.07 L338.70,207.08 L338.95,207.09 L339.20,207.12 L339.45,207.16 L339.70,207.18 L339.95,207.19 L340.20,207.18 L340.45,207.17 L340.70,207.14 L340.95,207.11 L341.20,207.07 L341.45,207.05 L341.70,207.02 L341.95,207.01 L342.20,207.03 L342.45,207.07 L342.70,207.10 L342.95,207.11 L343.20,207.12 L343.45,207.12 L343.70,207.09 L343.95,207.06 L344.20,207.03 L344.45,207.01 L344.70,207.00 L344.95,207.01 L345.20,207.02 L345.45,207.05 L345.70,207.08 L345.95,207.10 L346.20,207.14 L346.45,207.17 L346.70,207.18 L346.95,207.18 L347.20,207.18 L347.45,207.17 L347.70,207.13 L347.95,207.07 L348.20,207.02 L348.45,207.00 L348.70,206.95 L348.95,206.91 L349.20,206.90 L349.45,206.92 L349.70,206.95 L349.95,206.95 L350.20,206.96 L350.45,207.00 L350.70,207.01 L350.95,206.99 L351.20,206.97 L351.45,206.96 L351.70,206.97 L351.95,206.93 L352.20,206.90 L352.45,206.88 L352.70,206.85 L352.95,206.81 L353.20,206.74 L353.45,206.68 L353.70,206.61 L353.95,206.53 L354.20,206.41 L354.45,206.27 L354.70,206.09 L354.95,205.84 L355.20,205.50 L355.45,205.01 L355.70,204.36 L355.95,203.46 L356.20,202.30 L356.45,200.88 L356.70,199.30 L356.95,197.71 L357.20,196.42 L357.45,195.79 L357.70,196.08 L357.95,197.19 L358.20,198.72 L358.45,200.32 L358.70,201.80 L358.95,203.06 L359.20,204.04 L359.45,204.78 L359.70,205.33 L359.95,205.73 L360.20,206.00 L360.45,206.20 L360.70,206.35 L360.95,206.48 L361.20,206.57 L361.45,206.64 L361.70,206.71 L361.95,206.77 L362.20,206.84 L362.45,206.89 L362.70,206.94 L362.95,207.00 L363.20,207.04 L363.45,207.06 L363.70,207.08 L363.95,207.08 L364.20,207.08 L364.45,207.06 L364.70,207.05 L364.95,207.06 L365.20,207.05 L365.45,207.05 L365.70,207.06 L365.95,207.08 L366.20,207.08 L366.45,207.08 L366.70,207.10 L366.95,207.11 L367.20,207.10 L367.45,207.09 L367.70,207.08 L367.95,207.07 L368.20,207.03 L368.45,207.01 L368.70,206.99 L368.95,206.96 L369.20,206.96 L369.45,206.97 L369.70,207.01 L369.95,207.04 L370.20,207.08 L370.45,207.12 L370.70,207.16 L370.95,207.18 L371.20,207.16 L371.45,207.16 L371.70,207.16 L371.95,207.14 L372.20,207.13 L372.45,207.14 L372.70,207.18 L372.95,207.20 L373.20,207.24 L373.45,207.28 L373.70,207.31 L373.95,207.33 L374.20,207.34 L374.45,207.33 L374.70,207.32 L374.95,207.31 L375.20,207.29 L375.45,207.26 L375.70,207.24 L375.95,207.24 L376.20,207.24 L376.45,207.23 L376.70,207.24 L376.95,207.23 L377.20,207.25 L377.45,207.24 L377.70,207.22 L377.95,207.20 L378.20,207.19 L378.45,207.21 L378.70,207.20 L378.95,207.21 L379.20,207.25 L379.45,207.28 L379.70,207.30 L379.95,207.30 L380.20,207.32 L380.45,207.33 L380.70,207.30 L380.95,207.27 L381.20,207.24 L381.45,207.21 L381.70,207.19 L381.95,207.18 L382.20,207.19 L382.45,207.21 L382.70,207.21 L382.95,207.22 L383.20,207.22 L383.45,207.20 L383.70,207.20 L383.95,207.17 L384.20,207.17 L384.45,207.15 L384.70,207.13 L384.95,207.11 L385.20,207.09 L385.45,207.11 L385.70,207.12 L385.95,207.16 L386.20,207.21 L386.45,207.25 L386.70,207.29 L386.95,207.31 L387.20,207.31 L387.45,207.29 L387.70,207.27 L387.95,207.25 L388.20,207.21 L388.45,207.17 L388.70,207.14 L388.95,207.13 L389.20,207.11 L389.45,207.09 L389.70,207.10 L389.95,207.11 L390.20,207.11 L390.45,207.11 L390.70,207.13 L390.95,207.14 L391.20,207.16 L391.45,207.18 L391.70,207.22 L391.95,207.25 L392.20,207.26 L392.45,207.29 L392.70,207.31 L392.95,207.32 L393.20,207.32 L393.45,207.32 L393.70,207.30 L393.95,207.27 L394.20,207.25 L394.45,207.24 L394.70,207.24 L394.95,207.21 L395.20,207.22 L395.45,207.24 L395.70,207.27 L395.95,207.27 L396.20,207.25 L396.45,207.26 L396.70,207.25 L396.95,207.23 L397.20,207.20 L397.45,207.20 L397.70,207.21 L397.95,207.24 L398.20,207.29 L398.45,207.34 L398.70,207.39 L398.95,207.42 L399.20,207.45 L399.45,207.44 L399.70,207.41 L399.95,207.38 L400.20,207.34 L400.45,207.32 L400.70,207.29 L400.95,207.29 L401.20,207.28 L401.45,207.29 L401.70,207.29 L401.95,207.27 L402.20,207.24 L402.45,207.21 L402.70,207.17 L402.95,207.12 L403.20,207.07 L403.45,207.06 L403.70,207.03 L403.95,207.02 L404.20,207.03 L404.45,207.05 L404.70,207.10 L404.95,207.14 L405.20,207.18 L405.45,207.24 L405.70,207.27 L405.95,207.29 L406.20,207.29 L406.45,207.27 L406.70,207.28 L406.95,207.24 L407.20,207.21 L407.45,207.19 L407.70,207.18 L407.95,207.19 L408.20,207.18 L408.45,207.19 L408.70,207.22 L408.95,207.25 L409.20,207.25 L409.45,207.25 L409.70,207.28 L409.95,207.30 L410.20,207.30 L410.45,207.31 L410.70,207.33 L410.95,207.34 L411.20,207.32 L411.45,207.29 L411.70,207.27 L411.95,207.24 L412.20,207.22 L412.45,207.20 L412.70,207.20 L412.95,207.23 L413.20,207.25 L413.45,207.26 L413.70,207.28 L413.95,207.28 L414.20,207.29 L414.45,207.26 L414.70,207.24 L414.95,207.21 L415.20,207.19 L415.45,207.17 L415.70,207.12 L415.95,207.09 L416.20,207.08 L416.45,207.09 L416.70,207.12 L416.95,207.16 L417.20,207.23 L417.45,207.29 L417.70,207.33 L417.95,207.33 L418.20,207.30 L418.45,207.26 L418.70,207.21 L418.95,207.17 L419.20,207.13 L419.45,207.10 L419.70,207.10 L419.95,207.09 L420.20,207.05 L420.45,207.01 L420.70,206.96 L420.95,206.92 L421.20,206.87 L421.45,206.80 L421.70,206.73 L421.95,206.63 L422.20,206.51 L422.45,206.32 L422.70,206.08 L422.95,205.82 L423.20,205.55 L423.45,205.33 L423.70,205.20 L423.95,205.21 L424.20,205.36 L424.45,205.59 L424.70,205.87 L424.95,206.13 L425.20,206.37 L425.45,206.57 L425.70,206.74 L425.95,206.88 L426.20,206.98 L426.45,207.06 L426.70,207.13 L426.95,207.18 L427.20,207.23 L427.45,207.27 L427.70,207.31 L427.95,207.34 L428.20,207.33 L428.45,207.32 L428.70,207.30 L428.95,207.27 L429.20,207.24 L429.45,207.23 L429.70,207.25 L429.95,207.27 L430.20,207.28 L430.45,207.29 L430.70,207.29 L430.95,207.27 L431.20,207.24 L431.45,207.21 L431.70,207.19 L431.95,207.17 L432.20,207.15 L432.45,207.15 L432.70,207.13 L432.95,207.14 L433.20,207.14 L433.45,207.14 L433.70,207.16 L433.95,207.19 L434.20,207.22 L434.45,207.24 L434.70,207.27 L434.95,207.31 L435.20,207.33 L435.45,207.34 L435.70,207.35 L435.95,207.35 L436.20,207.35 L436.45,207.34 L436.70,207.32 L436.95,207.30 L437.20,207.27 L437.45,207.25 L437.70,207.21 L437.95,207.19 L438.20,207.17 L438.45,207.17 L438.70,207.20 L438.95,207.20 L439.20,207.22 L439.45,207.24 L439.70,207.27 L439.95,207.31 L440.20,207.33 L440.45,207.36 L440.70,207.38 L440.95,207.40 L441.20,207.40 L441.45,207.40 L441.70,207.37 L441.95,207.35 L442.20,207.32 L442.45,207.30 L442.70,207.28 L442.95,207.27 L443.20,207.29 L443.45,207.29 L443.70,207.28 L443.95,207.26 L444.20,207.26 L444.45,207.24 L444.70,207.21 L444.95,207.19 L445.20,207.22 L445.45,207.26 L445.70,207.27 L445.95,207.29 L446.20,207.32 L446.45,207.34 L446.70,207.34 L446.95,207.34 L447.20,207.36 L447.45,207.38 L447.70,207.42 L447.95,207.44 L448.20,207.45 L448.45,207.48 L448.70,207.47 L448.95,207.46 L449.20,207.42 L449.45,207.41 L449.70,207.38 L449.95,207.36 L450.20,207.38 L450.45,207.40 L450.70,207.44 L450.95,207.45 L451.20,207.48 L451.45,207.49 L451.70,207.46 L451.95,207.45 L452.20,207.42 L452.45,207.42 L452.70,207.43 L452.95,207.43 L453.20,207.43 L453.45,207.40 L453.70,207.40 L453.95,207.37 L454.20,207.33 L454.45,207.30 L454.70,207.30 L454.95,207.31 L455.20,207.29 L455.45,207.27 L455.70,207.27 L455.95,207.25 L456.20,207.22 L456.45,207.22 L456.70,207.24 L456.95,207.26 L457.20,207.28 L457.45,207.30 L457.70,207.33 L457.95,207.32 L458.20,207.32 L458.45,207.31 L458.70,207.30 L458.95,207.30 L459.20,207.28 L459.45,207.29 L459.70,207.29 L459.95,207.30 L460.20,207.29 L460.45,207.28 L460.70,207.29 L460.95,207.30 L461.20,207.29 L461.45,207.28 L461.70,207.28 L461.95,207.29 L462.20,207.29 L462.45,207.28 L462.70,207.29 L462.95,207.31 L463.20,207.34 L463.45,207.36 L463.70,207.38 L463.95,207.40 L464.20,207.41 L464.45,207.39 L464.70,207.37 L464.95,207.38 L465.20,207.38 L465.45,207.38 L465.70,207.38 L465.95,207.39 L466.20,207.40 L466.45,207.39 L466.70,207.36 L466.95,207.33 L467.20,207.32 L467.45,207.30 L467.70,207.28 L467.95,207.27 L468.20,207.29 L468.45,207.32 L468.70,207.31 L468.95,207.31 L469.20,207.32 L469.45,207.34 L469.70,207.33 L469.95,207.29 L470.20,207.30 L470.45,207.32 L470.70,207.34 L470.95,207.36 L471.20,207.38 L471.45,207.42 L471.70,207.43 L471.95,207.42 L472.20,207.37 L472.45,207.32 L472.70,207.26 L472.95,207.19 L473.20,207.14 L473.45,207.11 L473.70,207.12 L473.95,207.14 L474.20,207.18 L474.45,207.23 L474.70,207.27 L474.95,207.32 L475.20,207.34 L475.45,207.36 L475.70,207.37 L475.95,207.38 L476.20,207.40 L476.45,207.40 L476.70,207.42 L476.95,207.45 L477.20,207.46 L477.45,207.48 L477.70,207.49 L477.95,207.50 L478.20,207.52 L478.45,207.50 L478.70,207.50 L478.95,207.49 L479.20,207.46 L479.45,207.43 L479.70,207.38 L479.95,207.34 L480.20,207.33 L480.45,207.32 L480.70,207.35 L480.95,207.38 L481.20,207.44 L481.45,207.49 L481.70,207.51 L481.95,207.52 L482.20,207.52 L482.45,207.52 L482.70,207.49 L482.95,207.45 L483.20,207.42 L483.45,207.41 L483.70,207.40 L483.95,207.39 L484.20,207.40 L484.45,207.43 L484.70,207.45 L484.95,207.46 L485.20,207.45 L485.45,207.43 L485.70,207.40 L485.95,207.36 L486.20,207.34 L486.45,207.31 L486.70,207.29 L486.95,207.30 L487.20,207.30 L487.45,207.31 L487.70,207.31 L487.95,207.34 L488.20,207.34 L488.45,207.33 L488.70,207.33 L488.95,207.34 L489.20,207.35 L489.45,207.34 L489.70,207.35 L489.95,207.37 L490.20,207.38 L490.45,207.37 L490.70,207.36 L490.95,207.36 L491.20,207.36 L491.45,207.35 L491.70,207.35 L491.95,207.36 L492.20,207.35 L492.45,207.34 L492.70,207.34 L492.95,207.34 L493.20,207.33 L493.45,207.33 L493.70,207.33 L493.95,207.35 L494.20,207.36 L494.45,207.38 L494.70,207.40 L494.95,207.42 L495.20,207.44 L495.45,207.46 L495.70,207.47 L495.95,207.48 L496.20,207.49 L496.45,207.50 L496.70,207.51 L496.95,207.51 L497.20,207.50 L497.45,207.48 L497.70,207.44 L497.95,207.41 L498.20,207.36 L498.45,207.32 L498.70,207.28 L498.95,207.29 L499.20,207.30 L499.45,207.30 L499.70,207.31 L499.95,207.33 L500.20,207.34 L500.45,207.33 L500.70,207.34 L500.95,207.35 L501.20,207.38 L501.45,207.38 L501.70,207.38 L501.95,207.41 L502.20,207.40 L502.45,207.38 L502.70,207.36 L502.95,207.35 L503.20,207.36 L503.45,207.36 L503.70,207.37 L503.95,207.38 L504.20,207.38 L504.45,207.39 L504.70,207.37 L504.95,207.36 L505.20,207.35 L505.45,207.33 L505.70,207.33 L505.95,207.31 L506.20,207.32 L506.45,207.32 L506.70,207.32 L506.95,207.33 L507.20,207.32 L507.45,207.31 L507.70,207.28 L507.95,207.25 L508.20,207.21 L508.45,207.18 L508.70,207.15 L508.95,207.11 L509.20,207.05 L509.45,207.00 L509.70,206.93 L509.95,206.87 L510.20,206.80 L510.45,206.74 L510.70,206.68 L510.95,206.60 L511.20,206.50 L511.45,206.38 L511.70,206.23 L511.95,206.06 L512.20,205.91 L512.45,205.77 L512.70,205.67 L512.95,205.61 L513.20,205.62 L513.45,205.67 L513.70,205.74 L513.95,205.86 L514.20,206.00 L514.45,206.18 L514.70,206.35 L514.95,206.52 L515.20,206.69 L515.45,206.84 L515.70,206.97 L515.95,207.05 L516.20,207.13 L516.45,207.19 L516.70,207.24 L516.95,207.28 L517.20,207.32 L517.45,207.36 L517.70,207.38 L517.95,207.39 L518.20,207.40 L518.45,207.42 L518.70,207.41 L518.95,207.39 L519.20,207.38 L519.45,207.38 L519.70,207.38 L519.95,207.34 L520.20,207.33" fill="none" stroke="#22b4ac" stroke-width="1.45" stroke-linejoin="round"/>
<path d="M53.20,251.75 L53.45,251.73 L53.70,251.71 L53.95,251.68 L54.20,251.65 L54.45,251.62 L54.70,251.62 L54.95,251.64 L55.20,251.69 L55.45,251.71 L55.70,251.74 L55.95,251.75 L56.20,251.75 L56.45,251.75 L56.70,251.71 L56.95,251.71 L57.20,251.70 L57.45,251.69 L57.70,251.68 L57.95,251.66 L58.20,251.64 L58.45,251.59 L58.70,251.57 L58.95,251.57 L59.20,251.56 L59.45,251.54 L59.70,251.57 L59.95,251.59 L60.20,251.60 L60.45,251.58 L60.70,251.57 L60.95,251.60 L61.20,251.60 L61.45,251.59 L61.70,251.61 L61.95,251.60 L62.20,251.60 L62.45,251.57 L62.70,251.55 L62.95,251.55 L63.20,251.55 L63.45,251.56 L63.70,251.58 L63.95,251.61 L64.20,251.64 L64.45,251.63 L64.70,251.62 L64.95,251.64 L65.20,251.63 L65.45,251.61 L65.70,251.62 L65.95,251.64 L66.20,251.67 L66.45,251.63 L66.70,251.62 L66.95,251.62 L67.20,251.62 L67.45,251.61 L67.70,251.61 L67.95,251.66 L68.20,251.73 L68.45,251.78 L68.70,251.80 L68.95,251.82 L69.20,251.83 L69.45,251.82 L69.70,251.77 L69.95,251.70 L70.20,251.63 L70.45,251.57 L70.70,251.52 L70.95,251.48 L71.20,251.46 L71.45,251.47 L71.70,251.53 L71.95,251.60 L72.20,251.64 L72.45,251.67 L72.70,251.70 L72.95,251.73 L73.20,251.70 L73.45,251.64 L73.70,251.59 L73.95,251.55 L74.20,251.51 L74.45,251.47 L74.70,251.45 L74.95,251.48 L75.20,251.52 L75.45,251.56 L75.70,251.61 L75.95,251.64 L76.20,251.68 L76.45,251.68 L76.70,251.68 L76.95,251.68 L77.20,251.65 L77.45,251.64 L77.70,251.63 L77.95,251.63 L78.20,251.64 L78.45,251.64 L78.70,251.65 L78.95,251.64 L79.20,251.63 L79.45,251.65 L79.70,251.63 L79.95,251.61 L80.20,251.58 L80.45,251.61 L80.70,251.62 L80.95,251.60 L81.20,251.63 L81.45,251.68 L81.70,251.72 L81.95,251.73 L82.20,251.70 L82.45,251.69 L82.70,251.66 L82.95,251.61 L83.20,251.57 L83.45,251.52 L83.70,251.55 L83.95,251.55 L84.20,251.56 L84.45,251.56 L84.70,251.58 L84.95,251.62 L85.20,251.61 L85.45,251.60 L85.70,251.57 L85.95,251.57 L86.20,251.55 L86.45,251.52 L86.70,251.48 L86.95,251.46 L87.20,251.44 L87.45,251.37 L87.70,251.23 L87.95,250.90 L88.20,250.06 L88.45,248.56 L88.70,247.54 L88.95,248.64 L89.20,250.20 L89.45,251.08 L89.70,251.44 L89.95,251.58 L90.20,251.62 L90.45,251.62 L90.70,251.61 L90.95,251.63 L91.20,251.61 L91.45,251.62 L91.70,251.64 L91.95,251.67 L92.20,251.68 L92.45,251.70 L92.70,251.73 L92.95,251.71 L93.20,251.69 L93.45,251.66 L93.70,251.64 L93.95,251.61 L94.20,251.57 L94.45,251.58 L94.70,251.59 L94.95,251.63 L95.20,251.64 L95.45,251.67 L95.70,251.69 L95.95,251.68 L96.20,251.62 L96.45,251.56 L96.70,251.50 L96.95,251.44 L97.20,251.39 L97.45,251.37 L97.70,251.38 L97.95,251.37 L98.20,251.40 L98.45,251.42 L98.70,251.42 L98.95,251.42 L99.20,251.42 L99.45,251.41 L99.70,251.35 L99.95,251.27 L100.20,251.22 L100.45,251.10 L100.70,250.87 L100.95,250.29 L101.20,249.15 L101.45,247.34 L101.70,245.70 L101.95,245.93 L102.20,247.76 L102.45,249.52 L102.70,250.60 L102.95,251.15 L103.20,251.38 L103.45,251.52 L103.70,251.56 L103.95,251.55 L104.20,251.51 L104.45,251.43 L104.70,251.40 L104.95,251.37 L105.20,251.40 L105.45,251.45 L105.70,251.49 L105.95,251.56 L106.20,251.61 L106.45,251.67 L106.70,251.70 L106.95,251.74 L107.20,251.79 L107.45,251.81 L107.70,251.82 L107.95,251.84 L108.20,251.84 L108.45,251.84 L108.70,251.80 L108.95,251.80 L109.20,251.83 L109.45,251.81 L109.70,251.79 L109.95,251.77 L110.20,251.77 L110.45,251.74 L110.70,251.68 L110.95,251.62 L111.20,251.57 L111.45,251.56 L111.70,251.53 L111.95,251.54 L112.20,251.58 L112.45,251.63 L112.70,251.71 L112.95,251.73 L113.20,251.76 L113.45,251.74 L113.70,251.70 L113.95,251.68 L114.20,251.64 L114.45,251.63 L114.70,251.60 L114.95,251.60 L115.20,251.62 L115.45,251.59 L115.70,251.55 L115.95,251.50 L116.20,251.47 L116.45,251.44 L116.70,251.41 L116.95,251.42 L117.20,251.43 L117.45,251.43 L117.70,251.34 L117.95,251.20 L118.20,250.94 L118.45,250.52 L118.70,250.14 L118.95,250.00 L119.20,250.31 L119.45,250.72 L119.70,251.10 L119.95,251.37 L120.20,251.52 L120.45,251.62 L120.70,251.66 L120.95,251.70 L121.20,251.73 L121.45,251.76 L121.70,251.78 L121.95,251.79 L122.20,251.82 L122.45,251.84 L122.70,251.85 L122.95,251.83 L123.20,251.83 L123.45,251.84 L123.70,251.83 L123.95,251.82 L124.20,251.78 L124.45,251.75 L124.70,251.68 L124.95,251.63 L125.20,251.58 L125.45,251.52 L125.70,251.48 L125.95,251.46 L126.20,251.48 L126.45,251.50 L126.70,251.53 L126.95,251.59 L127.20,251.64 L127.45,251.69 L127.70,251.71 L127.95,251.72 L128.20,251.72 L128.45,251.71 L128.70,251.70 L128.95,251.68 L129.20,251.70 L129.45,251.70 L129.70,251.69 L129.95,251.69 L130.20,251.70 L130.45,251.72 L130.70,251.72 L130.95,251.74 L131.20,251.79 L131.45,251.82 L131.70,251.79 L131.95,251.78 L132.20,251.75 L132.45,251.71 L132.70,251.64 L132.95,251.60 L133.20,251.61 L133.45,251.59 L133.70,251.58 L133.95,251.56 L134.20,251.59 L134.45,251.59 L134.70,251.56 L134.95,251.55 L135.20,251.55 L135.45,251.54 L135.70,251.44 L135.95,251.28 L136.20,250.90 L136.45,250.15 L136.70,249.02 L136.95,247.95 L137.20,247.81 L137.45,248.76 L137.70,249.90 L137.95,250.75 L138.20,251.24 L138.45,251.45 L138.70,251.55 L138.95,251.59 L139.20,251.61 L139.45,251.58 L139.70,251.53 L139.95,251.52 L140.20,251.50 L140.45,251.51 L140.70,251.54 L140.95,251.58 L141.20,251.63 L141.45,251.66 L141.70,251.69 L141.95,251.71 L142.20,251.70 L142.45,251.69 L142.70,251.70 L142.95,251.73 L143.20,251.73 L143.45,251.74 L143.70,251.77 L143.95,251.77 L144.20,251.75 L144.45,251.72 L144.70,251.73 L144.95,251.69 L145.20,251.67 L145.45,251.66 L145.70,251.67 L145.95,251.66 L146.20,251.64 L146.45,251.65 L146.70,251.66 L146.95,251.66 L147.20,251.64 L147.45,251.66 L147.70,251.68 L147.95,251.69 L148.20,251.68 L148.45,251.73 L148.70,251.76 L148.95,251.74 L149.20,251.75 L149.45,251.77 L149.70,251.78 L149.95,251.73 L150.20,251.71 L150.45,251.72 L150.70,251.72 L150.95,251.69 L151.20,251.68 L151.45,251.73 L151.70,251.76 L151.95,251.79 L152.20,251.80 L152.45,251.81 L152.70,251.82 L152.95,251.80 L153.20,251.79 L153.45,251.78 L153.70,251.79 L153.95,251.83 L154.20,251.83 L154.45,251.83 L154.70,251.82 L154.95,251.80 L155.20,251.76 L155.45,251.70 L155.70,251.68 L155.95,251.65 L156.20,251.62 L156.45,251.61 L156.70,251.60 L156.95,251.60 L157.20,251.56 L157.45,251.54 L157.70,251.53 L157.95,251.52 L158.20,251.49 L158.45,251.49 L158.70,251.54 L158.95,251.58 L159.20,251.58 L159.45,251.59 L159.70,251.61 L159.95,251.60 L160.20,251.56 L160.45,251.52 L160.70,251.51 L160.95,251.49 L161.20,251.48 L161.45,251.48 L161.70,251.51 L161.95,251.53 L162.20,251.52 L162.45,251.53 L162.70,251.54 L162.95,251.52 L163.20,251.52 L163.45,251.52 L163.70,251.55 L163.95,251.61 L164.20,251.64 L164.45,251.68 L164.70,251.68 L164.95,251.69 L165.20,251.64 L165.45,251.54 L165.70,251.43 L165.95,251.31 L166.20,251.23 L166.45,251.15 L166.70,251.13 L166.95,251.13 L167.20,251.12 L167.45,251.11 L167.70,251.04 L167.95,250.89 L168.20,250.59 L168.45,250.12 L168.70,249.29 L168.95,247.80 L169.20,245.31 L169.45,241.75 L169.70,237.56 L169.95,234.17 L170.20,233.78 L170.45,236.67 L170.70,240.79 L170.95,244.42 L171.20,246.91 L171.45,248.15 L171.70,248.24 L171.95,247.36 L172.20,245.80 L172.45,244.32 L172.70,244.25 L172.95,245.82 L173.20,247.82 L173.45,249.40 L173.70,250.39 L173.95,250.94 L174.20,251.20 L174.45,251.33 L174.70,251.39 L174.95,251.40 L175.20,251.39 L175.45,251.37 L175.70,251.42 L175.95,251.46 L176.20,251.49 L176.45,251.54 L176.70,251.64 L176.95,251.69 L177.20,251.66 L177.45,251.65 L177.70,251.64 L177.95,251.62 L178.20,251.56 L178.45,251.53 L178.70,251.56 L178.95,251.59 L179.20,251.65 L179.45,251.67 L179.70,251.72 L179.95,251.75 L180.20,251.77 L180.45,251.78 L180.70,251.76 L180.95,251.75 L181.20,251.70 L181.45,251.64 L181.70,251.56 L181.95,251.46 L182.20,251.32 L182.45,251.14 L182.70,250.89 L182.95,250.55 L183.20,250.15 L183.45,249.77 L183.70,249.58 L183.95,249.70 L184.20,250.03 L184.45,250.41 L184.70,250.75 L184.95,251.04 L185.20,251.24 L185.45,251.39 L185.70,251.51 L185.95,251.60 L186.20,251.65 L186.45,251.67 L186.70,251.71 L186.95,251.71 L187.20,251.66 L187.45,251.61 L187.70,251.58 L187.95,251.54 L188.20,251.44 L188.45,251.38 L188.70,251.37 L188.95,251.35 L189.20,251.26 L189.45,251.10 L189.70,250.70 L189.95,249.73 L190.20,248.03 L190.45,246.21 L190.70,246.00 L190.95,247.63 L191.20,249.41 L191.45,250.53 L191.70,251.07 L191.95,251.30 L192.20,251.39 L192.45,251.44 L192.70,251.47 L192.95,251.50 L193.20,251.50 L193.45,251.50 L193.70,251.49 L193.95,251.47 L194.20,251.43 L194.45,251.34 L194.70,251.23 L194.95,251.05 L195.20,250.64 L195.45,249.83 L195.70,248.28 L195.95,245.88 L196.20,243.25 L196.45,242.29 L196.70,244.02 L196.95,246.54 L197.20,248.43 L197.45,249.42 L197.70,249.78 L197.95,249.84 L198.20,249.73 L198.45,249.54 L198.70,249.23 L198.95,248.74 L199.20,247.90 L199.45,246.36 L199.70,243.70 L199.95,239.31 L200.20,232.83 L200.45,224.42 L200.70,215.38 L200.95,208.68 L201.20,207.96 L201.45,213.70 L201.70,222.54 L201.95,231.24 L202.20,238.15 L202.45,242.94 L202.70,245.94 L202.95,247.72 L203.20,248.71 L203.45,249.27 L203.70,249.69 L203.95,250.00 L204.20,250.23 L204.45,250.41 L204.70,250.60 L204.95,250.78 L205.20,250.90 L205.45,251.01 L205.70,251.10 L205.95,251.19 L206.20,251.22 L206.45,251.23 L206.70,251.26 L206.95,251.27 L207.20,251.25 L207.45,251.20 L207.70,251.18 L207.95,251.20 L208.20,251.22 L208.45,251.24 L208.70,251.31 L208.95,251.37 L209.20,251.42 L209.45,251.39 L209.70,251.31 L209.95,251.19 L210.20,251.00 L210.45,250.76 L210.70,250.45 L210.95,250.15 L211.20,249.87 L211.45,249.68 L211.70,249.69 L211.95,249.87 L212.20,250.17 L212.45,250.46 L212.70,250.69 L212.95,250.81 L213.20,250.77 L213.45,250.63 L213.70,250.41 L213.95,250.30 L214.20,250.39 L214.45,250.63 L214.70,250.92 L214.95,251.18 L215.20,251.39 L215.45,251.52 L215.70,251.61 L215.95,251.68 L216.20,251.72 L216.45,251.73 L216.70,251.75 L216.95,251.75 L217.20,251.73 L217.45,251.70 L217.70,251.68 L217.95,251.68 L218.20,251.66 L218.45,251.69 L218.70,251.69 L218.95,251.73 L219.20,251.76 L219.45,251.78 L219.70,251.80 L219.95,251.76 L220.20,251.76 L220.45,251.71 L220.70,251.68 L220.95,251.66 L221.20,251.63 L221.45,251.64 L221.70,251.64 L221.95,251.66 L222.20,251.67 L222.45,251.65 L222.70,251.66 L222.95,251.66 L223.20,251.63 L223.45,251.62 L223.70,251.63 L223.95,251.67 L224.20,251.67 L224.45,251.66 L224.70,251.68 L224.95,251.66 L225.20,251.63 L225.45,251.62 L225.70,251.62 L225.95,251.64 L226.20,251.64 L226.45,251.67 L226.70,251.69 L226.95,251.67 L227.20,251.66 L227.45,251.65 L227.70,251.63 L227.95,251.61 L228.20,251.60 L228.45,251.63 L228.70,251.65 L228.95,251.65 L229.20,251.68 L229.45,251.69 L229.70,251.70 L229.95,251.68 L230.20,251.62 L230.45,251.53 L230.70,251.42 L230.95,251.31 L231.20,251.16 L231.45,251.00 L231.70,250.92 L231.95,250.88 L232.20,250.93 L232.45,251.04 L232.70,251.21 L232.95,251.38 L233.20,251.51 L233.45,251.63 L233.70,251.70 L233.95,251.72 L234.20,251.69 L234.45,251.68 L234.70,251.66 L234.95,251.64 L235.20,251.63 L235.45,251.64 L235.70,251.69 L235.95,251.72 L236.20,251.74 L236.45,251.77 L236.70,251.80 L236.95,251.83 L237.20,251.84 L237.45,251.88 L237.70,251.92 L237.95,251.95 L238.20,251.97 L238.45,251.97 L238.70,251.98 L238.95,251.95 L239.20,251.91 L239.45,251.89 L239.70,251.87 L239.95,251.87 L240.20,251.88 L240.45,251.85 L240.70,251.81 L240.95,251.75 L241.20,251.68 L241.45,251.60 L241.70,251.51 L241.95,251.42 L242.20,251.34 L242.45,251.23 L242.70,251.08 L242.95,250.85 L243.20,250.51 L243.45,250.03 L243.70,249.32 L243.95,248.40 L244.20,247.23 L244.45,245.90 L244.70,244.67 L244.95,243.85 L245.20,243.81 L245.45,244.53 L245.70,245.75 L245.95,247.10 L246.20,248.31 L246.45,249.30 L246.70,250.03 L246.95,250.56 L247.20,250.93 L247.45,251.14 L247.70,251.28 L247.95,251.35 L248.20,251.37 L248.45,251.41 L248.70,251.42 L248.95,251.46 L249.20,251.50 L249.45,251.56 L249.70,251.64 L249.95,251.66 L250.20,251.69 L250.45,251.70 L250.70,251.67 L250.95,251.66 L251.20,251.63 L251.45,251.62 L251.70,251.59 L251.95,251.57 L252.20,251.60 L252.45,251.58 L252.70,251.57 L252.95,251.54 L253.20,251.55 L253.45,251.57 L253.70,251.55 L253.95,251.53 L254.20,251.55 L254.45,251.60 L254.70,251.62 L254.95,251.60 L255.20,251.60 L255.45,251.54 L255.70,251.36 L255.95,251.06 L256.20,250.69 L256.45,250.27 L256.70,249.80 L256.95,249.51 L257.20,249.49 L257.45,249.72 L257.70,250.12 L257.95,250.53 L258.20,250.92 L258.45,251.18 L258.70,251.36 L258.95,251.52 L259.20,251.61 L259.45,251.66 L259.70,251.70 L259.95,251.76 L260.20,251.81 L260.45,251.82 L260.70,251.79 L260.95,251.81 L261.20,251.79 L261.45,251.78 L261.70,251.78 L261.95,251.79 L262.20,251.87 L262.45,251.91 L262.70,251.95 L262.95,251.96 L263.20,251.95 L263.45,251.94 L263.70,251.89 L263.95,251.85 L264.20,251.81 L264.45,251.79 L264.70,251.78 L264.95,251.76 L265.20,251.74 L265.45,251.74 L265.70,251.77 L265.95,251.82 L266.20,251.87 L266.45,251.91 L266.70,251.96 L266.95,251.97 L267.20,251.97 L267.45,251.92 L267.70,251.88 L267.95,251.85 L268.20,251.84 L268.45,251.83 L268.70,251.79 L268.95,251.81 L269.20,251.79 L269.45,251.77 L269.70,251.71 L269.95,251.67 L270.20,251.67 L270.45,251.65 L270.70,251.65 L270.95,251.65 L271.20,251.68 L271.45,251.71 L271.70,251.70 L271.95,251.70 L272.20,251.71 L272.45,251.73 L272.70,251.75 L272.95,251.75 L273.20,251.78 L273.45,251.78 L273.70,251.79 L273.95,251.78 L274.20,251.78 L274.45,251.80 L274.70,251.80 L274.95,251.84 L275.20,251.83 L275.45,251.83 L275.70,251.84 L275.95,251.84 L276.20,251.84 L276.45,251.82 L276.70,251.85 L276.95,251.86 L277.20,251.87 L277.45,251.87 L277.70,251.88 L277.95,251.90 L278.20,251.91 L278.45,251.92 L278.70,251.93 L278.95,251.93 L279.20,251.93 L279.45,251.91 L279.70,251.89 L279.95,251.88 L280.20,251.86 L280.45,251.87 L280.70,251.90 L280.95,251.95 L281.20,251.99 L281.45,252.02 L281.70,252.05 L281.95,252.05 L282.20,252.01 L282.45,251.95 L282.70,251.88 L282.95,251.81 L283.20,251.74 L283.45,251.68 L283.70,251.57 L283.95,251.42 L284.20,251.18 L284.45,250.83 L284.70,250.28 L284.95,249.49 L285.20,248.57 L285.45,247.64 L285.70,247.09 L285.95,247.20 L286.20,247.96 L286.45,248.98 L286.70,249.90 L286.95,250.59 L287.20,251.02 L287.45,251.29 L287.70,251.45 L287.95,251.52 L288.20,251.57 L288.45,251.61 L288.70,251.68 L288.95,251.71 L289.20,251.73 L289.45,251.77 L289.70,251.80 L289.95,251.84 L290.20,251.85 L290.45,251.90 L290.70,251.96 L290.95,252.00 L291.20,252.02 L291.45,252.04 L291.70,252.07 L291.95,252.09 L292.20,252.09 L292.45,252.10 L292.70,252.12 L292.95,252.12 L293.20,252.09 L293.45,252.06 L293.70,251.98 L293.95,251.89 L294.20,251.80 L294.45,251.74 L294.70,251.68 L294.95,251.65 L295.20,251.68 L295.45,251.73 L295.70,251.78 L295.95,251.81 L296.20,251.85 L296.45,251.89 L296.70,251.90 L296.95,251.89 L297.20,251.88 L297.45,251.88 L297.70,251.89 L297.95,251.86 L298.20,251.84 L298.45,251.85 L298.70,251.86 L298.95,251.86 L299.20,251.82 L299.45,251.83 L299.70,251.82 L299.95,251.79 L300.20,251.74 L300.45,251.69 L300.70,251.68 L300.95,251.66 L301.20,251.62 L301.45,251.61 L301.70,251.59 L301.95,251.56 L302.20,251.46 L302.45,251.35 L302.70,251.20 L302.95,250.97 L303.20,250.67 L303.45,250.27 L303.70,249.85 L303.95,249.36 L304.20,248.86 L304.45,248.49 L304.70,248.34 L304.95,248.44 L305.20,248.73 L305.45,249.16 L305.70,249.66 L305.95,250.16 L306.20,250.58 L306.45,250.93 L306.70,251.19 L306.95,251.37 L307.20,251.52 L307.45,251.60 L307.70,251.65 L307.95,251.71 L308.20,251.76 L308.45,251.82 L308.70,251.84 L308.95,251.86 L309.20,251.88 L309.45,251.88 L309.70,251.87 L309.95,251.86 L310.20,251.85 L310.45,251.85 L310.70,251.86 L310.95,251.86 L311.20,251.85 L311.45,251.83 L311.70,251.83 L311.95,251.83 L312.20,251.82 L312.45,251.83 L312.70,251.85 L312.95,251.88 L313.20,251.91 L313.45,251.92 L313.70,251.94 L313.95,251.95 L314.20,251.95 L314.45,251.96 L314.70,251.96 L314.95,251.97 L315.20,251.95 L315.45,251.98 L315.70,251.98 L315.95,251.96 L316.20,251.92 L316.45,251.90 L316.70,251.88 L316.95,251.82 L317.20,251.79 L317.45,251.76 L317.70,251.75 L317.95,251.74 L318.20,251.74 L318.45,251.74 L318.70,251.74 L318.95,251.74 L319.20,251.77 L319.45,251.80 L319.70,251.80 L319.95,251.79 L320.20,251.79 L320.45,251.78 L320.70,251.71 L320.95,251.65 L321.20,251.57 L321.45,251.51 L321.70,251.42 L321.95,251.32 L322.20,251.21 L322.45,251.03 L322.70,250.77 L322.95,250.31 L323.20,249.60 L323.45,248.55 L323.70,247.16 L323.95,245.50 L324.20,243.75 L324.45,242.34 L324.70,241.78 L324.95,242.30 L325.20,243.63 L325.45,245.30 L325.70,246.92 L325.95,248.29 L326.20,249.27 L326.45,249.91 L326.70,250.28 L326.95,250.43 L327.20,250.40 L327.45,250.25 L327.70,250.02 L327.95,249.75 L328.20,249.47 L328.45,249.27 L328.70,249.25 L328.95,249.43 L329.20,249.77 L329.45,250.18 L329.70,250.57 L329.95,250.87 L330.20,251.10 L330.45,251.27 L330.70,251.37 L330.95,251.42 L331.20,251.43 L331.45,251.46 L331.70,251.47 L331.95,251.49 L332.20,251.54 L332.45,251.58 L332.70,251.65 L332.95,251.73 L333.20,251.81 L333.45,251.87 L333.70,251.88 L333.95,251.90 L334.20,251.88 L334.45,251.84 L334.70,251.79 L334.95,251.74 L335.20,251.74 L335.45,251.74 L335.70,251.78 L335.95,251.80 L336.20,251.83 L336.45,251.86 L336.70,251.85 L336.95,251.84 L337.20,251.81 L337.45,251.80 L337.70,251.78 L337.95,251.76 L338.20,251.77 L338.45,251.80 L338.70,251.83 L338.95,251.86 L339.20,251.90 L339.45,251.93 L339.70,251.95 L339.95,251.95 L340.20,251.95 L340.45,251.98 L340.70,252.00 L340.95,252.02 L341.20,252.05 L341.45,252.08 L341.70,252.10 L341.95,252.03 L342.20,251.99 L342.45,251.94 L342.70,251.85 L342.95,251.78 L343.20,251.69 L343.45,251.69 L343.70,251.71 L343.95,251.75 L344.20,251.81 L344.45,251.85 L344.70,251.92 L344.95,251.94 L345.20,251.91 L345.45,251.88 L345.70,251.86 L345.95,251.86 L346.20,251.85 L346.45,251.88 L346.70,251.91 L346.95,251.94 L347.20,251.92 L347.45,251.90 L347.70,251.88 L347.95,251.81 L348.20,251.75 L348.45,251.70 L348.70,251.66 L348.95,251.62 L349.20,251.59 L349.45,251.56 L349.70,251.54 L349.95,251.53 L350.20,251.54 L350.45,251.54 L350.70,251.52 L350.95,251.54 L351.20,251.54 L351.45,251.53 L351.70,251.54 L351.95,251.55 L352.20,251.59 L352.45,251.64 L352.70,251.66 L352.95,251.70 L353.20,251.67 L353.45,251.64 L353.70,251.57 L353.95,251.43 L354.20,251.27 L354.45,251.06 L354.70,250.75 L354.95,250.35 L355.20,249.75 L355.45,248.96 L355.70,247.88 L355.95,246.57 L356.20,245.07 L356.45,243.43 L356.70,241.98 L356.95,241.06 L357.20,240.95 L357.45,241.61 L357.70,242.89 L357.95,244.46 L358.20,246.04 L358.45,247.40 L358.70,248.51 L358.95,249.41 L359.20,250.07 L359.45,250.50 L359.70,250.75 L359.95,250.97 L360.20,251.15 L360.45,251.26 L360.70,251.31 L360.95,251.38 L361.20,251.47 L361.45,251.52 L361.70,251.52 L361.95,251.52 L362.20,251.55 L362.45,251.57 L362.70,251.59 L362.95,251.62 L363.20,251.66 L363.45,251.72 L363.70,251.74 L363.95,251.77 L364.20,251.78 L364.45,251.78 L364.70,251.81 L364.95,251.80 L365.20,251.87 L365.45,251.91 L365.70,251.94 L365.95,251.97 L366.20,251.97 L366.45,251.98 L366.70,251.93 L366.95,251.91 L367.20,251.92 L367.45,251.91 L367.70,251.91 L367.95,251.94 L368.20,251.97 L368.45,251.98 L368.70,251.98 L368.95,251.99 L369.20,252.02 L369.45,252.02 L369.70,252.03 L369.95,252.01 L370.20,251.98 L370.45,251.95 L370.70,251.90 L370.95,251.86 L371.20,251.84 L371.45,251.87 L371.70,251.91 L371.95,251.92 L372.20,251.95 L372.45,251.99 L372.70,252.00 L372.95,251.98 L373.20,251.97 L373.45,251.98 L373.70,251.96 L373.95,251.93 L374.20,251.91 L374.45,251.89 L374.70,251.87 L374.95,251.85 L375.20,251.84 L375.45,251.83 L375.70,251.83 L375.95,251.83 L376.20,251.83 L376.45,251.84 L376.70,251.84 L376.95,251.87 L377.20,251.88 L377.45,251.92 L377.70,251.96 L377.95,251.98 L378.20,251.96 L378.45,251.94 L378.70,251.93 L378.95,251.89 L379.20,251.84 L379.45,251.83 L379.70,251.85 L379.95,251.86 L380.20,251.85 L380.45,251.88 L380.70,251.89 L380.95,251.89 L381.20,251.89 L381.45,251.91 L381.70,251.94 L381.95,251.96 L382.20,252.00 L382.45,252.04 L382.70,252.05 L382.95,252.05 L383.20,252.04 L383.45,252.01 L383.70,251.97 L383.95,251.94 L384.20,251.93 L384.45,251.93 L384.70,251.92 L384.95,251.94 L385.20,251.95 L385.45,251.98 L385.70,252.01 L385.95,252.03 L386.20,252.05 L386.45,252.06 L386.70,252.05 L386.95,252.00 L387.20,251.94 L387.45,251.89 L387.70,251.87 L387.95,251.86 L388.20,251.88 L388.45,251.93 L388.70,252.00 L388.95,252.05 L389.20,252.05 L389.45,252.06 L389.70,252.04 L389.95,252.00 L390.20,251.97 L390.45,251.94 L390.70,251.94 L390.95,251.91 L391.20,251.87 L391.45,251.87 L391.70,251.88 L391.95,251.90 L392.20,251.92 L392.45,251.98 L392.70,252.06 L392.95,252.11 L393.20,252.15 L393.45,252.18 L393.70,252.20 L393.95,252.20 L394.20,252.21 L394.45,252.20 L394.70,252.17 L394.95,252.14 L395.20,252.10 L395.45,252.06 L395.70,251.99 L395.95,251.95 L396.20,251.90 L396.45,251.86 L396.70,251.86 L396.95,251.85 L397.20,251.88 L397.45,251.91 L397.70,251.97 L397.95,252.02 L398.20,252.02 L398.45,252.04 L398.70,252.05 L398.95,252.05 L399.20,252.07 L399.45,252.09 L399.70,252.15 L399.95,252.19 L400.20,252.22 L400.45,252.22 L400.70,252.20 L400.95,252.15 L401.20,252.10 L401.45,252.07 L401.70,252.09 L401.95,252.12 L402.20,252.13 L402.45,252.16 L402.70,252.19 L402.95,252.17 L403.20,252.11 L403.45,252.05 L403.70,251.99 L403.95,251.90 L404.20,251.81 L404.45,251.70 L404.70,251.60 L404.95,251.46 L405.20,251.34 L405.45,251.26 L405.70,251.15 L405.95,251.11 L406.20,251.12 L406.45,251.18 L406.70,251.24 L406.95,251.33 L407.20,251.46 L407.45,251.58 L407.70,251.69 L407.95,251.81 L408.20,251.90 L408.45,251.98 L408.70,252.06 L408.95,252.10 L409.20,252.10 L409.45,252.12 L409.70,252.16 L409.95,252.14 L410.20,252.10 L410.45,252.10 L410.70,252.11 L410.95,252.06 L411.20,251.99 L411.45,251.99 L411.70,252.01 L411.95,251.99 L412.20,251.96 L412.45,251.99 L412.70,252.02 L412.95,252.00 L413.20,251.94 L413.45,251.91 L413.70,251.90 L413.95,251.86 L414.20,251.85 L414.45,251.85 L414.70,251.86 L414.95,251.88 L415.20,251.90 L415.45,251.92 L415.70,251.91 L415.95,251.95 L416.20,251.99 L416.45,252.02 L416.70,252.04 L416.95,252.08 L417.20,252.11 L417.45,252.12 L417.70,252.16 L417.95,252.18 L418.20,252.20 L418.45,252.21 L418.70,252.20 L418.95,252.16 L419.20,252.11 L419.45,252.04 L419.70,251.96 L419.95,251.88 L420.20,251.82 L420.45,251.78 L420.70,251.74 L420.95,251.72 L421.20,251.73 L421.45,251.70 L421.70,251.66 L421.95,251.56 L422.20,251.46 L422.45,251.30 L422.70,251.06 L422.95,250.80 L423.20,250.51 L423.45,250.26 L423.70,250.06 L423.95,250.01 L424.20,250.11 L424.45,250.30 L424.70,250.54 L424.95,250.83 L425.20,251.11 L425.45,251.33 L425.70,251.52 L425.95,251.69 L426.20,251.83 L426.45,251.92 L426.70,252.02 L426.95,252.05 L427.20,252.04 L427.45,252.04 L427.70,252.02 L427.95,252.02 L428.20,251.99 L428.45,252.02 L428.70,252.05 L428.95,252.06 L429.20,252.08 L429.45,252.09 L429.70,252.10 L429.95,252.09 L430.20,252.08 L430.45,252.07 L430.70,252.03 L430.95,251.97 L431.20,251.92 L431.45,251.88 L431.70,251.85 L431.95,251.84 L432.20,251.85 L432.45,251.89 L432.70,251.93 L432.95,251.97 L433.20,252.02 L433.45,252.05 L433.70,252.09 L433.95,252.08 L434.20,252.10 L434.45,252.10 L434.70,252.08 L434.95,252.07 L435.20,252.04 L435.45,252.04 L435.70,252.03 L435.95,252.06 L436.20,252.09 L436.45,252.14 L436.70,252.20 L436.95,252.24 L437.20,252.27 L437.45,252.25 L437.70,252.22 L437.95,252.14 L438.20,252.10 L438.45,252.03 L438.70,251.96 L438.95,251.92 L439.20,251.89 L439.45,251.90 L439.70,251.87 L439.95,251.87 L440.20,251.88 L440.45,251.91 L440.70,251.95 L440.95,251.98 L441.20,252.02 L441.45,252.08 L441.70,252.14 L441.95,252.17 L442.20,252.21 L442.45,252.25 L442.70,252.29 L442.95,252.33 L443.20,252.34 L443.45,252.35 L443.70,252.33 L443.95,252.27 L444.20,252.21 L444.45,252.15 L444.70,252.10 L444.95,252.09 L445.20,252.11 L445.45,252.15 L445.70,252.20 L445.95,252.24 L446.20,252.28 L446.45,252.28 L446.70,252.27 L446.95,252.25 L447.20,252.18 L447.45,252.12 L447.70,252.05 L447.95,252.04 L448.20,252.03 L448.45,252.02 L448.70,252.04 L448.95,252.10 L449.20,252.16 L449.45,252.17 L449.70,252.18 L449.95,252.22 L450.20,252.22 L450.45,252.18 L450.70,252.13 L450.95,252.08 L451.20,252.01 L451.45,251.95 L451.70,251.91 L451.95,251.89 L452.20,251.92 L452.45,251.98 L452.70,252.02 L452.95,252.07 L453.20,252.10 L453.45,252.13 L453.70,252.09 L453.95,252.01 L454.20,251.97 L454.45,251.91 L454.70,251.86 L454.95,251.82 L455.20,251.85 L455.45,251.90 L455.70,251.93 L455.95,252.01 L456.20,252.07 L456.45,252.10 L456.70,252.10 L456.95,252.11 L457.20,252.15 L457.45,252.14 L457.70,252.16 L457.95,252.19 L458.20,252.23 L458.45,252.23 L458.70,252.19 L458.95,252.17 L459.20,252.14 L459.45,252.12 L459.70,252.09 L459.95,252.09 L460.20,252.11 L460.45,252.11 L460.70,252.14 L460.95,252.14 L461.20,252.18 L461.45,252.20 L461.70,252.23 L461.95,252.26 L462.20,252.27 L462.45,252.28 L462.70,252.24 L462.95,252.23 L463.20,252.20 L463.45,252.17 L463.70,252.16 L463.95,252.15 L464.20,252.15 L464.45,252.15 L464.70,252.18 L464.95,252.21 L465.20,252.22 L465.45,252.22 L465.70,252.23 L465.95,252.21 L466.20,252.16 L466.45,252.09 L466.70,252.04 L466.95,251.98 L467.20,251.93 L467.45,251.89 L467.70,251.88 L467.95,251.89 L468.20,251.88 L468.45,251.88 L468.70,251.86 L468.95,251.85 L469.20,251.83 L469.45,251.81 L469.70,251.83 L469.95,251.86 L470.20,251.92 L470.45,251.95 L470.70,251.99 L470.95,252.05 L471.20,252.06 L471.45,252.08 L471.70,252.09 L471.95,252.13 L472.20,252.15 L472.45,252.14 L472.70,252.14 L472.95,252.13 L473.20,252.10 L473.45,252.08 L473.70,252.06 L473.95,252.03 L474.20,252.03 L474.45,252.05 L474.70,252.06 L474.95,252.05 L475.20,252.07 L475.45,252.12 L475.70,252.14 L475.95,252.14 L476.20,252.17 L476.45,252.22 L476.70,252.25 L476.95,252.25 L477.20,252.25 L477.45,252.27 L477.70,252.24 L477.95,252.21 L478.20,252.16 L478.45,252.14 L478.70,252.12 L478.95,252.08 L479.20,252.08 L479.45,252.07 L479.70,252.09 L479.95,252.10 L480.20,252.12 L480.45,252.13 L480.70,252.13 L480.95,252.13 L481.20,252.13 L481.45,252.15 L481.70,252.15 L481.95,252.14 L482.20,252.15 L482.45,252.14 L482.70,252.12 L482.95,252.08 L483.20,252.05 L483.45,252.04 L483.70,252.01 L483.95,252.03 L484.20,252.06 L484.45,252.06 L484.70,252.09 L484.95,252.13 L485.20,252.16 L485.45,252.14 L485.70,252.14 L485.95,252.17 L486.20,252.19 L486.45,252.17 L486.70,252.18 L486.95,252.20 L487.20,252.19 L487.45,252.17 L487.70,252.15 L487.95,252.15 L488.20,252.12 L488.45,252.11 L488.70,252.14 L488.95,252.16 L489.20,252.17 L489.45,252.18 L489.70,252.22 L489.95,252.24 L490.20,252.25 L490.45,252.26 L490.70,252.29 L490.95,252.32 L491.20,252.32 L491.45,252.30 L491.70,252.27 L491.95,252.25 L492.20,252.19 L492.45,252.12 L492.70,252.09 L492.95,252.06 L493.20,252.03 L493.45,252.02 L493.70,252.04 L493.95,252.09 L494.20,252.13 L494.45,252.17 L494.70,252.20 L494.95,252.20 L495.20,252.21 L495.45,252.19 L495.70,252.15 L495.95,252.14 L496.20,252.14 L496.45,252.15 L496.70,252.12 L496.95,252.06 L497.20,252.04 L497.45,251.96 L497.70,251.90 L497.95,251.86 L498.20,251.86 L498.45,251.90 L498.70,251.92 L498.95,252.00 L499.20,252.04 L499.45,252.07 L499.70,252.06 L499.95,252.03 L500.20,252.00 L500.45,251.94 L500.70,251.91 L500.95,251.90 L501.20,251.91 L501.45,251.95 L501.70,252.01 L501.95,252.07 L502.20,252.10 L502.45,252.16 L502.70,252.18 L502.95,252.19 L503.20,252.19 L503.45,252.18 L503.70,252.16 L503.95,252.11 L504.20,252.08 L504.45,252.02 L504.70,252.00 L504.95,251.98 L505.20,251.99 L505.45,252.02 L505.70,252.06 L505.95,252.13 L506.20,252.19 L506.45,252.26 L506.70,252.30 L506.95,252.35 L507.20,252.37 L507.45,252.36 L507.70,252.35 L507.95,252.31 L508.20,252.28 L508.45,252.20 L508.70,252.14 L508.95,252.06 L509.20,252.00 L509.45,251.95 L509.70,251.88 L509.95,251.85 L510.20,251.84 L510.45,251.80 L510.70,251.74 L510.95,251.63 L511.20,251.53 L511.45,251.37 L511.70,251.19 L511.95,251.04 L512.20,250.89 L512.45,250.76 L512.70,250.64 L512.95,250.54 L513.20,250.47 L513.45,250.41 L513.70,250.40 L513.95,250.44 L514.20,250.52 L514.45,250.63 L514.70,250.76 L514.95,250.90 L515.20,251.05 L515.45,251.20 L515.70,251.35 L515.95,251.48 L516.20,251.62 L516.45,251.73 L516.70,251.81 L516.95,251.86 L517.20,251.87 L517.45,251.90 L517.70,251.92 L517.95,251.93 L518.20,251.98 L518.45,252.03 L518.70,252.08 L518.95,252.11 L519.20,252.12 L519.45,252.12 L519.70,252.10 L519.95,252.09 L520.20,252.11" fill="none" stroke="#ff9a3c" stroke-width="1.45" stroke-linejoin="round"/>
<path d="M53.20,295.84 L53.45,295.80 L53.70,295.76 L53.95,295.70 L54.20,295.66 L54.45,295.63 L54.70,295.66 L54.95,295.72 L55.20,295.81 L55.45,295.90 L55.70,295.98 L55.95,296.03 L56.20,296.05 L56.45,296.03 L56.70,295.97 L56.95,295.92 L57.20,295.88 L57.45,295.83 L57.70,295.75 L57.95,295.73 L58.20,295.72 L58.45,295.73 L58.70,295.74 L58.95,295.77 L59.20,295.82 L59.45,295.82 L59.70,295.84 L59.95,295.80 L60.20,295.74 L60.45,295.72 L60.70,295.68 L60.95,295.69 L61.20,295.68 L61.45,295.71 L61.70,295.75 L61.95,295.81 L62.20,295.87 L62.45,295.91 L62.70,295.94 L62.95,295.97 L63.20,296.01 L63.45,296.01 L63.70,295.98 L63.95,295.94 L64.20,295.93 L64.45,295.88 L64.70,295.82 L64.95,295.75 L65.20,295.73 L65.45,295.75 L65.70,295.73 L65.95,295.74 L66.20,295.75 L66.45,295.78 L66.70,295.77 L66.95,295.71 L67.20,295.70 L67.45,295.69 L67.70,295.68 L67.95,295.65 L68.20,295.62 L68.45,295.62 L68.70,295.61 L68.95,295.59 L69.20,295.58 L69.45,295.62 L69.70,295.65 L69.95,295.70 L70.20,295.76 L70.45,295.81 L70.70,295.85 L70.95,295.86 L71.20,295.88 L71.45,295.84 L71.70,295.82 L71.95,295.80 L72.20,295.77 L72.45,295.75 L72.70,295.73 L72.95,295.76 L73.20,295.78 L73.45,295.77 L73.70,295.77 L73.95,295.78 L74.20,295.79 L74.45,295.78 L74.70,295.75 L74.95,295.75 L75.20,295.77 L75.45,295.76 L75.70,295.74 L75.95,295.69 L76.20,295.64 L76.45,295.58 L76.70,295.55 L76.95,295.51 L77.20,295.52 L77.45,295.56 L77.70,295.63 L77.95,295.69 L78.20,295.71 L78.45,295.73 L78.70,295.72 L78.95,295.67 L79.20,295.61 L79.45,295.62 L79.70,295.64 L79.95,295.67 L80.20,295.72 L80.45,295.81 L80.70,295.87 L80.95,295.86 L81.20,295.83 L81.45,295.78 L81.70,295.70 L81.95,295.59 L82.20,295.52 L82.45,295.47 L82.70,295.44 L82.95,295.46 L83.20,295.46 L83.45,295.47 L83.70,295.48 L83.95,295.47 L84.20,295.50 L84.45,295.49 L84.70,295.53 L84.95,295.59 L85.20,295.63 L85.45,295.69 L85.70,295.68 L85.95,295.67 L86.20,295.67 L86.45,295.67 L86.70,295.68 L86.95,295.67 L87.20,295.68 L87.45,295.69 L87.70,295.65 L87.95,295.59 L88.20,295.53 L88.45,295.47 L88.70,295.31 L88.95,294.90 L89.20,294.09 L89.45,293.36 L89.70,293.81 L89.95,294.82 L90.20,295.46 L90.45,295.64 L90.70,295.63 L90.95,295.58 L91.20,295.52 L91.45,295.45 L91.70,295.41 L91.95,295.38 L92.20,295.35 L92.45,295.35 L92.70,295.39 L92.95,295.43 L93.20,295.47 L93.45,295.51 L93.70,295.53 L93.95,295.57 L94.20,295.55 L94.45,295.54 L94.70,295.52 L94.95,295.51 L95.20,295.54 L95.45,295.51 L95.70,295.51 L95.95,295.54 L96.20,295.53 L96.45,295.53 L96.70,295.52 L96.95,295.56 L97.20,295.61 L97.45,295.63 L97.70,295.71 L97.95,295.75 L98.20,295.78 L98.45,295.79 L98.70,295.77 L98.95,295.73 L99.20,295.64 L99.45,295.57 L99.70,295.55 L99.95,295.50 L100.20,295.47 L100.45,295.46 L100.70,295.46 L100.95,295.47 L101.20,295.40 L101.45,295.32 L101.70,295.17 L101.95,294.78 L102.20,293.76 L102.45,291.84 L102.70,289.64 L102.95,288.89 L103.20,290.46 L103.45,292.60 L103.70,294.11 L103.95,294.85 L104.20,295.13 L104.45,295.21 L104.70,295.26 L104.95,295.30 L105.20,295.31 L105.45,295.30 L105.70,295.28 L105.95,295.30 L106.20,295.30 L106.45,295.30 L106.70,295.33 L106.95,295.38 L107.20,295.43 L107.45,295.47 L107.70,295.53 L107.95,295.59 L108.20,295.61 L108.45,295.63 L108.70,295.66 L108.95,295.63 L109.20,295.57 L109.45,295.52 L109.70,295.44 L109.95,295.36 L110.20,295.30 L110.45,295.30 L110.70,295.29 L110.95,295.30 L111.20,295.36 L111.45,295.41 L111.70,295.44 L111.95,295.47 L112.20,295.51 L112.45,295.58 L112.70,295.63 L112.95,295.66 L113.20,295.69 L113.45,295.70 L113.70,295.69 L113.95,295.62 L114.20,295.59 L114.45,295.56 L114.70,295.50 L114.95,295.46 L115.20,295.42 L115.45,295.42 L115.70,295.37 L115.95,295.32 L116.20,295.33 L116.45,295.36 L116.70,295.39 L116.95,295.45 L117.20,295.50 L117.45,295.58 L117.70,295.62 L117.95,295.58 L118.20,295.51 L118.45,295.30 L118.70,294.99 L118.95,294.55 L119.20,294.22 L119.45,294.25 L119.70,294.54 L119.95,294.90 L120.20,295.13 L120.45,295.27 L120.70,295.32 L120.95,295.34 L121.20,295.39 L121.45,295.42 L121.70,295.48 L121.95,295.52 L122.20,295.54 L122.45,295.55 L122.70,295.56 L122.95,295.54 L123.20,295.51 L123.45,295.50 L123.70,295.50 L123.95,295.55 L124.20,295.59 L124.45,295.65 L124.70,295.73 L124.95,295.74 L125.20,295.73 L125.45,295.67 L125.70,295.62 L125.95,295.54 L126.20,295.46 L126.45,295.43 L126.70,295.45 L126.95,295.46 L127.20,295.45 L127.45,295.45 L127.70,295.41 L127.95,295.38 L128.20,295.31 L128.45,295.29 L128.70,295.28 L128.95,295.32 L129.20,295.41 L129.45,295.47 L129.70,295.55 L129.95,295.57 L130.20,295.59 L130.45,295.55 L130.70,295.51 L130.95,295.48 L131.20,295.42 L131.45,295.40 L131.70,295.37 L131.95,295.38 L132.20,295.35 L132.45,295.33 L132.70,295.34 L132.95,295.36 L133.20,295.41 L133.45,295.41 L133.70,295.44 L133.95,295.40 L134.20,295.38 L134.45,295.32 L134.70,295.26 L134.95,295.23 L135.20,295.19 L135.45,295.20 L135.70,295.20 L135.95,295.18 L136.20,295.12 L136.45,294.93 L136.70,294.57 L136.95,294.01 L137.20,293.32 L137.45,292.91 L137.70,293.09 L137.95,293.73 L138.20,294.37 L138.45,294.80 L138.70,295.06 L138.95,295.12 L139.20,295.14 L139.45,295.12 L139.70,295.11 L139.95,295.08 L140.20,295.04 L140.45,295.05 L140.70,295.06 L140.95,295.11 L141.20,295.15 L141.45,295.18 L141.70,295.21 L141.95,295.26 L142.20,295.31 L142.45,295.31 L142.70,295.34 L142.95,295.39 L143.20,295.43 L143.45,295.43 L143.70,295.41 L143.95,295.39 L144.20,295.34 L144.45,295.26 L144.70,295.19 L144.95,295.16 L145.20,295.14 L145.45,295.09 L145.70,295.09 L145.95,295.10 L146.20,295.11 L146.45,295.11 L146.70,295.09 L146.95,295.09 L147.20,295.08 L147.45,295.06 L147.70,295.05 L147.95,294.99 L148.20,294.98 L148.45,295.00 L148.70,295.02 L148.95,295.00 L149.20,295.00 L149.45,295.08 L149.70,295.13 L149.95,295.12 L150.20,295.10 L150.45,295.12 L150.70,295.08 L150.95,295.03 L151.20,294.99 L151.45,294.95 L151.70,294.95 L151.95,294.98 L152.20,295.03 L152.45,295.05 L152.70,295.08 L152.95,295.15 L153.20,295.19 L153.45,295.18 L153.70,295.20 L153.95,295.27 L154.20,295.31 L154.45,295.33 L154.70,295.36 L154.95,295.41 L155.20,295.40 L155.45,295.35 L155.70,295.29 L155.95,295.23 L156.20,295.17 L156.45,295.11 L156.70,295.09 L156.95,295.09 L157.20,295.14 L157.45,295.20 L157.70,295.26 L157.95,295.30 L158.20,295.35 L158.45,295.40 L158.70,295.39 L158.95,295.39 L159.20,295.37 L159.45,295.37 L159.70,295.35 L159.95,295.31 L160.20,295.30 L160.45,295.30 L160.70,295.34 L160.95,295.36 L161.20,295.37 L161.45,295.38 L161.70,295.36 L161.95,295.30 L162.20,295.18 L162.45,295.04 L162.70,294.94 L162.95,294.89 L163.20,294.85 L163.45,294.86 L163.70,294.91 L163.95,295.00 L164.20,295.04 L164.45,295.02 L164.70,295.05 L164.95,295.05 L165.20,295.03 L165.45,294.99 L165.70,295.02 L165.95,295.09 L166.20,295.07 L166.45,295.04 L166.70,295.05 L166.95,295.00 L167.20,294.90 L167.45,294.80 L167.70,294.77 L167.95,294.76 L168.20,294.67 L168.45,294.66 L168.70,294.62 L168.95,294.57 L169.20,294.43 L169.45,294.24 L169.70,293.95 L169.95,293.37 L170.20,292.30 L170.45,290.42 L170.70,287.53 L170.95,283.63 L171.20,279.35 L171.45,276.15 L171.70,275.84 L171.95,278.57 L172.20,282.67 L172.45,286.54 L172.70,289.37 L172.95,291.00 L173.20,291.61 L173.45,291.61 L173.70,291.27 L173.95,290.91 L174.20,290.82 L174.45,291.14 L174.70,291.78 L174.95,292.50 L175.20,293.23 L175.45,293.85 L175.70,294.26 L175.95,294.51 L176.20,294.65 L176.45,294.73 L176.70,294.72 L176.95,294.68 L177.20,294.66 L177.45,294.66 L177.70,294.59 L177.95,294.48 L178.20,294.36 L178.45,294.19 L178.70,293.95 L178.95,293.64 L179.20,293.37 L179.45,293.18 L179.70,293.06 L179.95,293.14 L180.20,293.37 L180.45,293.69 L180.70,293.99 L180.95,294.23 L181.20,294.43 L181.45,294.52 L181.70,294.52 L181.95,294.48 L182.20,294.46 L182.45,294.44 L182.70,294.47 L182.95,294.54 L183.20,294.66 L183.45,294.76 L183.70,294.81 L183.95,294.82 L184.20,294.77 L184.45,294.68 L184.70,294.53 L184.95,294.34 L185.20,294.13 L185.45,293.97 L185.70,293.83 L185.95,293.74 L186.20,293.75 L186.45,293.85 L186.70,294.00 L186.95,294.07 L187.20,294.14 L187.45,294.17 L187.70,294.18 L187.95,294.18 L188.20,294.14 L188.45,294.11 L188.70,294.05 L188.95,293.94 L189.20,293.75 L189.45,293.38 L189.70,292.74 L189.95,291.78 L190.20,290.50 L190.45,289.06 L190.70,287.83 L190.95,287.35 L191.20,287.74 L191.45,288.51 L191.70,289.07 L191.95,289.17 L192.20,288.87 L192.45,288.55 L192.70,288.71 L192.95,289.53 L193.20,290.65 L193.45,291.76 L193.70,292.63 L193.95,293.19 L194.20,293.52 L194.45,293.62 L194.70,293.62 L194.95,293.45 L195.20,293.08 L195.45,292.47 L195.70,291.58 L195.95,290.61 L196.20,289.93 L196.45,290.03 L196.70,290.86 L196.95,291.86 L197.20,292.71 L197.45,293.28 L197.70,293.56 L197.95,293.68 L198.20,293.67 L198.45,293.62 L198.70,293.51 L198.95,293.38 L199.20,293.20 L199.45,292.97 L199.70,292.64 L199.95,292.15 L200.20,291.35 L200.45,289.97 L200.70,287.82 L200.95,284.56 L201.20,279.94 L201.45,273.87 L201.70,266.76 L201.95,259.46 L202.20,253.38 L202.45,250.38 L202.70,251.72 L202.95,256.89 L203.20,264.00 L203.45,271.32 L203.70,277.83 L203.95,283.04 L204.20,286.83 L204.45,289.34 L204.70,290.93 L204.95,291.92 L205.20,292.54 L205.45,292.88 L205.70,293.09 L205.95,293.27 L206.20,293.42 L206.45,293.54 L206.70,293.64 L206.95,293.78 L207.20,293.95 L207.45,294.10 L207.70,294.20 L207.95,294.30 L208.20,294.36 L208.45,294.34 L208.70,294.28 L208.95,294.19 L209.20,294.10 L209.45,294.01 L209.70,293.94 L209.95,293.92 L210.20,293.88 L210.45,293.81 L210.70,293.75 L210.95,293.55 L211.20,293.30 L211.45,293.02 L211.70,292.79 L211.95,292.68 L212.20,292.65 L212.45,292.84 L212.70,293.10 L212.95,293.38 L213.20,293.68 L213.45,293.94 L213.70,294.18 L213.95,294.32 L214.20,294.44 L214.45,294.51 L214.70,294.52 L214.95,294.49 L215.20,294.45 L215.45,294.43 L215.70,294.40 L215.95,294.41 L216.20,294.45 L216.45,294.54 L216.70,294.62 L216.95,294.70 L217.20,294.77 L217.45,294.84 L217.70,294.84 L217.95,294.81 L218.20,294.77 L218.45,294.73 L218.70,294.67 L218.95,294.59 L219.20,294.60 L219.45,294.64 L219.70,294.71 L219.95,294.76 L220.20,294.85 L220.45,294.91 L220.70,294.93 L220.95,294.92 L221.20,294.87 L221.45,294.84 L221.70,294.79 L221.95,294.78 L222.20,294.79 L222.45,294.79 L222.70,294.80 L222.95,294.79 L223.20,294.76 L223.45,294.73 L223.70,294.69 L223.95,294.68 L224.20,294.68 L224.45,294.71 L224.70,294.75 L224.95,294.75 L225.20,294.77 L225.45,294.74 L225.70,294.73 L225.95,294.70 L226.20,294.71 L226.45,294.76 L226.70,294.78 L226.95,294.84 L227.20,294.87 L227.45,294.90 L227.70,294.89 L227.95,294.89 L228.20,294.89 L228.45,294.88 L228.70,294.88 L228.95,294.84 L229.20,294.86 L229.45,294.84 L229.70,294.84 L229.95,294.85 L230.20,294.85 L230.45,294.88 L230.70,294.85 L230.95,294.85 L231.20,294.83 L231.45,294.82 L231.70,294.84 L231.95,294.84 L232.20,294.88 L232.45,294.92 L232.70,294.96 L232.95,294.99 L233.20,294.98 L233.45,295.00 L233.70,294.98 L233.95,294.97 L234.20,294.92 L234.45,294.87 L234.70,294.88 L234.95,294.89 L235.20,294.90 L235.45,294.91 L235.70,294.93 L235.95,294.93 L236.20,294.91 L236.45,294.86 L236.70,294.86 L236.95,294.87 L237.20,294.88 L237.45,294.92 L237.70,294.94 L237.95,294.95 L238.20,294.91 L238.45,294.87 L238.70,294.80 L238.95,294.72 L239.20,294.66 L239.45,294.62 L239.70,294.62 L239.95,294.59 L240.20,294.61 L240.45,294.63 L240.70,294.63 L240.95,294.64 L241.20,294.62 L241.45,294.61 L241.70,294.56 L241.95,294.53 L242.20,294.51 L242.45,294.46 L242.70,294.41 L242.95,294.38 L243.20,294.35 L243.45,294.27 L243.70,294.13 L243.95,293.94 L244.20,293.63 L244.45,293.13 L244.70,292.44 L244.95,291.54 L245.20,290.44 L245.45,289.08 L245.70,287.63 L245.95,286.26 L246.20,285.22 L246.45,284.73 L246.70,284.96 L246.95,285.93 L247.20,287.29 L247.45,288.79 L247.70,290.18 L247.95,291.42 L248.20,292.45 L248.45,293.20 L248.70,293.77 L248.95,294.16 L249.20,294.46 L249.45,294.63 L249.70,294.73 L249.95,294.79 L250.20,294.79 L250.45,294.75 L250.70,294.73 L250.95,294.70 L251.20,294.69 L251.45,294.65 L251.70,294.61 L251.95,294.60 L252.20,294.58 L252.45,294.57 L252.70,294.53 L252.95,294.55 L253.20,294.62 L253.45,294.64 L253.70,294.67 L253.95,294.68 L254.20,294.72 L254.45,294.73 L254.70,294.72 L254.95,294.71 L255.20,294.69 L255.45,294.68 L255.70,294.63 L255.95,294.47 L256.20,294.23 L256.45,293.91 L256.70,293.52 L256.95,293.02 L257.20,292.51 L257.45,292.13 L257.70,291.91 L257.95,291.95 L258.20,292.23 L258.45,292.67 L258.70,293.13 L258.95,293.56 L259.20,293.93 L259.45,294.24 L259.70,294.44 L259.95,294.58 L260.20,294.68 L260.45,294.73 L260.70,294.74 L260.95,294.74 L261.20,294.75 L261.45,294.77 L261.70,294.80 L261.95,294.85 L262.20,294.90 L262.45,294.95 L262.70,294.99 L262.95,294.98 L263.20,294.95 L263.45,294.89 L263.70,294.81 L263.95,294.75 L264.20,294.73 L264.45,294.78 L264.70,294.84 L264.95,294.94 L265.20,295.05 L265.45,295.07 L265.70,295.09 L265.95,295.05 L266.20,294.97 L266.45,294.88 L266.70,294.82 L266.95,294.82 L267.20,294.79 L267.45,294.75 L267.70,294.73 L267.95,294.68 L268.20,294.57 L268.45,294.41 L268.70,294.24 L268.95,294.04 L269.20,293.84 L269.45,293.65 L269.70,293.54 L269.95,293.53 L270.20,293.61 L270.45,293.79 L270.70,293.97 L270.95,294.17 L271.20,294.37 L271.45,294.54 L271.70,294.67 L271.95,294.74 L272.20,294.80 L272.45,294.82 L272.70,294.82 L272.95,294.80 L273.20,294.82 L273.45,294.87 L273.70,294.95 L273.95,295.03 L274.20,295.11 L274.45,295.19 L274.70,295.21 L274.95,295.19 L275.20,295.11 L275.45,295.09 L275.70,295.07 L275.95,295.03 L276.20,295.03 L276.45,295.08 L276.70,295.13 L276.95,295.14 L277.20,295.14 L277.45,295.16 L277.70,295.13 L277.95,295.07 L278.20,294.98 L278.45,294.89 L278.70,294.82 L278.95,294.75 L279.20,294.73 L279.45,294.73 L279.70,294.80 L279.95,294.93 L280.20,295.01 L280.45,295.07 L280.70,295.11 L280.95,295.16 L281.20,295.16 L281.45,295.08 L281.70,295.02 L281.95,294.98 L282.20,294.90 L282.45,294.76 L282.70,294.58 L282.95,294.42 L283.20,294.19 L283.45,293.90 L283.70,293.60 L283.95,293.31 L284.20,293.05 L284.45,292.87 L284.70,292.82 L284.95,292.94 L285.20,293.21 L285.45,293.56 L285.70,293.89 L285.95,294.17 L286.20,294.45 L286.45,294.69 L286.70,294.81 L286.95,294.88 L287.20,294.94 L287.45,294.95 L287.70,294.92 L287.95,294.90 L288.20,294.95 L288.45,294.99 L288.70,295.05 L288.95,295.12 L289.20,295.20 L289.45,295.22 L289.70,295.22 L289.95,295.21 L290.20,295.18 L290.45,295.18 L290.70,295.15 L290.95,295.16 L291.20,295.17 L291.45,295.17 L291.70,295.18 L291.95,295.16 L292.20,295.15 L292.45,295.13 L292.70,295.08 L292.95,295.04 L293.20,295.05 L293.45,295.06 L293.70,295.09 L293.95,295.16 L294.20,295.25 L294.45,295.32 L294.70,295.32 L294.95,295.31 L295.20,295.31 L295.45,295.31 L295.70,295.30 L295.95,295.31 L296.20,295.35 L296.45,295.41 L296.70,295.43 L296.95,295.40 L297.20,295.38 L297.45,295.37 L297.70,295.35 L297.95,295.32 L298.20,295.29 L298.45,295.29 L298.70,295.29 L298.95,295.26 L299.20,295.25 L299.45,295.22 L299.70,295.23 L299.95,295.22 L300.20,295.17 L300.45,295.16 L300.70,295.13 L300.95,295.13 L301.20,295.15 L301.45,295.14 L301.70,295.14 L301.95,295.08 L302.20,295.02 L302.45,294.95 L302.70,294.85 L302.95,294.79 L303.20,294.74 L303.45,294.74 L303.70,294.70 L303.95,294.60 L304.20,294.41 L304.45,294.11 L304.70,293.71 L304.95,293.20 L305.20,292.64 L305.45,292.08 L305.70,291.60 L305.95,291.25 L306.20,291.08 L306.45,291.13 L306.70,291.39 L306.95,291.76 L307.20,292.23 L307.45,292.72 L307.70,293.21 L307.95,293.65 L308.20,294.05 L308.45,294.41 L308.70,294.66 L308.95,294.84 L309.20,294.97 L309.45,295.07 L309.70,295.12 L309.95,295.10 L310.20,295.09 L310.45,295.10 L310.70,295.10 L310.95,295.09 L311.20,295.04 L311.45,295.08 L311.70,295.13 L311.95,295.17 L312.20,295.20 L312.45,295.24 L312.70,295.32 L312.95,295.33 L313.20,295.32 L313.45,295.31 L313.70,295.32 L313.95,295.31 L314.20,295.28 L314.45,295.30 L314.70,295.30 L314.95,295.30 L315.20,295.26 L315.45,295.24 L315.70,295.21 L315.95,295.16 L316.20,295.14 L316.45,295.11 L316.70,295.11 L316.95,295.09 L317.20,295.12 L317.45,295.14 L317.70,295.17 L317.95,295.21 L318.20,295.23 L318.45,295.27 L318.70,295.22 L318.95,295.17 L319.20,295.11 L319.45,295.10 L319.70,295.08 L319.95,295.06 L320.20,295.12 L320.45,295.20 L320.70,295.25 L320.95,295.21 L321.20,295.21 L321.45,295.17 L321.70,295.08 L321.95,294.96 L322.20,294.86 L322.45,294.80 L322.70,294.71 L322.95,294.66 L323.20,294.60 L323.45,294.52 L323.70,294.41 L323.95,294.22 L324.20,293.90 L324.45,293.36 L324.70,292.64 L324.95,291.71 L325.20,290.57 L325.45,289.29 L325.70,287.95 L325.95,286.77 L326.20,285.89 L326.45,285.51 L326.70,285.74 L326.95,286.50 L327.20,287.64 L327.45,288.88 L327.70,290.13 L327.95,291.24 L328.20,292.18 L328.45,292.97 L328.70,293.57 L328.95,294.03 L329.20,294.33 L329.45,294.56 L329.70,294.74 L329.95,294.85 L330.20,294.93 L330.45,295.02 L330.70,295.11 L330.95,295.22 L331.20,295.31 L331.45,295.37 L331.70,295.46 L331.95,295.51 L332.20,295.54 L332.45,295.52 L332.70,295.52 L332.95,295.51 L333.20,295.49 L333.45,295.48 L333.70,295.50 L333.95,295.55 L334.20,295.56 L334.45,295.57 L334.70,295.57 L334.95,295.57 L335.20,295.53 L335.45,295.47 L335.70,295.45 L335.95,295.44 L336.20,295.44 L336.45,295.45 L336.70,295.44 L336.95,295.43 L337.20,295.39 L337.45,295.36 L337.70,295.34 L337.95,295.31 L338.20,295.30 L338.45,295.32 L338.70,295.37 L338.95,295.45 L339.20,295.46 L339.45,295.50 L339.70,295.55 L339.95,295.59 L340.20,295.62 L340.45,295.58 L340.70,295.61 L340.95,295.62 L341.20,295.61 L341.45,295.60 L341.70,295.57 L341.95,295.57 L342.20,295.55 L342.45,295.53 L342.70,295.53 L342.95,295.55 L343.20,295.59 L343.45,295.62 L343.70,295.63 L343.95,295.64 L344.20,295.63 L344.45,295.60 L344.70,295.55 L344.95,295.50 L345.20,295.50 L345.45,295.50 L345.70,295.50 L345.95,295.50 L346.20,295.50 L346.45,295.50 L346.70,295.50 L346.95,295.47 L347.20,295.43 L347.45,295.41 L347.70,295.42 L347.95,295.45 L348.20,295.44 L348.45,295.46 L348.70,295.56 L348.95,295.64 L349.20,295.68 L349.45,295.70 L349.70,295.69 L349.95,295.66 L350.20,295.62 L350.45,295.57 L350.70,295.51 L350.95,295.44 L351.20,295.43 L351.45,295.42 L351.70,295.38 L351.95,295.31 L352.20,295.31 L352.45,295.30 L352.70,295.27 L352.95,295.30 L353.20,295.34 L353.45,295.38 L353.70,295.39 L353.95,295.42 L354.20,295.44 L354.45,295.34 L354.70,295.26 L354.95,295.18 L355.20,295.07 L355.45,294.91 L355.70,294.75 L355.95,294.59 L356.20,294.33 L356.45,294.00 L356.70,293.54 L356.95,293.00 L357.20,292.26 L357.45,291.39 L357.70,290.42 L357.95,289.37 L358.20,288.35 L358.45,287.41 L358.70,286.82 L358.95,286.65 L359.20,286.90 L359.45,287.56 L359.70,288.50 L359.95,289.59 L360.20,290.68 L360.45,291.71 L360.70,292.67 L360.95,293.49 L361.20,294.16 L361.45,294.68 L361.70,295.04 L361.95,295.29 L362.20,295.44 L362.45,295.54 L362.70,295.57 L362.95,295.60 L363.20,295.63 L363.45,295.66 L363.70,295.70 L363.95,295.71 L364.20,295.75 L364.45,295.74 L364.70,295.73 L364.95,295.70 L365.20,295.63 L365.45,295.63 L365.70,295.59 L365.95,295.57 L366.20,295.55 L366.45,295.55 L366.70,295.59 L366.95,295.55 L367.20,295.52 L367.45,295.52 L367.70,295.53 L367.95,295.50 L368.20,295.50 L368.45,295.53 L368.70,295.59 L368.95,295.62 L369.20,295.66 L369.45,295.74 L369.70,295.76 L369.95,295.78 L370.20,295.80 L370.45,295.83 L370.70,295.83 L370.95,295.81 L371.20,295.82 L371.45,295.85 L371.70,295.84 L371.95,295.85 L372.20,295.87 L372.45,295.85 L372.70,295.81 L372.95,295.77 L373.20,295.73 L373.45,295.66 L373.70,295.59 L373.95,295.59 L374.20,295.62 L374.45,295.66 L374.70,295.70 L374.95,295.77 L375.20,295.82 L375.45,295.84 L375.70,295.82 L375.95,295.80 L376.20,295.77 L376.45,295.74 L376.70,295.70 L376.95,295.66 L377.20,295.63 L377.45,295.57 L377.70,295.52 L377.95,295.46 L378.20,295.43 L378.45,295.41 L378.70,295.39 L378.95,295.42 L379.20,295.45 L379.45,295.50 L379.70,295.54 L379.95,295.58 L380.20,295.64 L380.45,295.66 L380.70,295.72 L380.95,295.77 L381.20,295.82 L381.45,295.91 L381.70,295.95 L381.95,296.03 L382.20,296.03 L382.45,296.05 L382.70,296.05 L382.95,295.98 L383.20,295.95 L383.45,295.87 L383.70,295.86 L383.95,295.81 L384.20,295.77 L384.45,295.74 L384.70,295.72 L384.95,295.71 L385.20,295.68 L385.45,295.69 L385.70,295.68 L385.95,295.72 L386.20,295.76 L386.45,295.82 L386.70,295.91 L386.95,295.97 L387.20,296.04 L387.45,296.05 L387.70,296.04 L387.95,296.01 L388.20,295.93 L388.45,295.85 L388.70,295.76 L388.95,295.70 L389.20,295.65 L389.45,295.60 L389.70,295.58 L389.95,295.60 L390.20,295.64 L390.45,295.72 L390.70,295.79 L390.95,295.89 L391.20,295.98 L391.45,296.02 L391.70,296.07 L391.95,296.08 L392.20,296.08 L392.45,296.05 L392.70,296.02 L392.95,296.04 L393.20,296.03 L393.45,296.02 L393.70,296.04 L393.95,296.07 L394.20,296.11 L394.45,296.10 L394.70,296.11 L394.95,296.12 L395.20,296.12 L395.45,296.10 L395.70,296.08 L395.95,296.07 L396.20,296.04 L396.45,296.04 L396.70,296.02 L396.95,296.00 L397.20,296.00 L397.45,295.99 L397.70,295.98 L397.95,295.93 L398.20,295.91 L398.45,295.90 L398.70,295.87 L398.95,295.87 L399.20,295.87 L399.45,295.86 L399.70,295.84 L399.95,295.83 L400.20,295.82 L400.45,295.79 L400.70,295.80 L400.95,295.81 L401.20,295.85 L401.45,295.87 L401.70,295.91 L401.95,295.96 L402.20,295.97 L402.45,296.00 L402.70,295.99 L402.95,295.96 L403.20,295.90 L403.45,295.83 L403.70,295.75 L403.95,295.65 L404.20,295.56 L404.45,295.50 L404.70,295.42 L404.95,295.30 L405.20,295.18 L405.45,294.99 L405.70,294.79 L405.95,294.61 L406.20,294.44 L406.45,294.37 L406.70,294.36 L406.95,294.45 L407.20,294.62 L407.45,294.77 L407.70,294.96 L407.95,295.11 L408.20,295.22 L408.45,295.31 L408.70,295.34 L408.95,295.37 L409.20,295.39 L409.45,295.45 L409.70,295.55 L409.95,295.65 L410.20,295.78 L410.45,295.92 L410.70,296.04 L410.95,296.11 L411.20,296.16 L411.45,296.17 L411.70,296.15 L411.95,296.10 L412.20,296.05 L412.45,296.01 L412.70,295.94 L412.95,295.91 L413.20,295.88 L413.45,295.84 L413.70,295.83 L413.95,295.81 L414.20,295.81 L414.45,295.82 L414.70,295.84 L414.95,295.89 L415.20,295.88 L415.45,295.91 L415.70,295.96 L415.95,295.95 L416.20,295.98 L416.45,296.01 L416.70,296.06 L416.95,296.07 L417.20,296.05 L417.45,296.06 L417.70,296.03 L417.95,295.99 L418.20,295.93 L418.45,295.85 L418.70,295.80 L418.95,295.74 L419.20,295.70 L419.45,295.65 L419.70,295.66 L419.95,295.72 L420.20,295.75 L420.45,295.81 L420.70,295.85 L420.95,295.89 L421.20,295.91 L421.45,295.87 L421.70,295.84 L421.95,295.76 L422.20,295.67 L422.45,295.51 L422.70,295.35 L422.95,295.19 L423.20,294.97 L423.45,294.72 L423.70,294.46 L423.95,294.27 L424.20,294.11 L424.45,293.99 L424.70,293.99 L424.95,294.11 L425.20,294.32 L425.45,294.52 L425.70,294.71 L425.95,294.90 L426.20,295.09 L426.45,295.24 L426.70,295.36 L426.95,295.48 L427.20,295.60 L427.45,295.74 L427.70,295.81 L427.95,295.86 L428.20,295.91 L428.45,295.92 L428.70,295.93 L428.95,295.91 L429.20,295.92 L429.45,295.92 L429.70,295.91 L429.95,295.93 L430.20,295.96 L430.45,295.94 L430.70,295.91 L430.95,295.88 L431.20,295.87 L431.45,295.84 L431.70,295.79 L431.95,295.82 L432.20,295.88 L432.45,295.93 L432.70,295.98 L432.95,296.04 L433.20,296.09 L433.45,296.13 L433.70,296.10 L433.95,296.11 L434.20,296.09 L434.45,296.07 L434.70,296.10 L434.95,296.08 L435.20,296.09 L435.45,296.10 L435.70,296.14 L435.95,296.17 L436.20,296.19 L436.45,296.23 L436.70,296.30 L436.95,296.33 L437.20,296.32 L437.45,296.29 L437.70,296.25 L437.95,296.23 L438.20,296.20 L438.45,296.18 L438.70,296.18 L438.95,296.22 L439.20,296.22 L439.45,296.18 L439.70,296.12 L439.95,296.07 L440.20,296.04 L440.45,296.00 L440.70,296.05 L440.95,296.10 L441.20,296.20 L441.45,296.27 L441.70,296.33 L441.95,296.37 L442.20,296.36 L442.45,296.36 L442.70,296.30 L442.95,296.27 L443.20,296.21 L443.45,296.14 L443.70,296.08 L443.95,296.01 L444.20,295.96 L444.45,295.93 L444.70,295.90 L444.95,295.90 L445.20,295.90 L445.45,295.91 L445.70,295.94 L445.95,295.92 L446.20,295.91 L446.45,295.88 L446.70,295.86 L446.95,295.83 L447.20,295.77 L447.45,295.78 L447.70,295.80 L447.95,295.83 L448.20,295.86 L448.45,295.91 L448.70,295.96 L448.95,295.95 L449.20,295.94 L449.45,295.94 L449.70,295.92 L449.95,295.89 L450.20,295.86 L450.45,295.86 L450.70,295.87 L450.95,295.88 L451.20,295.89 L451.45,295.90 L451.70,295.89 L451.95,295.86 L452.20,295.77 L452.45,295.68 L452.70,295.56 L452.95,295.41 L453.20,295.28 L453.45,295.14 L453.70,295.08 L453.95,295.05 L454.20,295.11 L454.45,295.24 L454.70,295.35 L454.95,295.50 L455.20,295.62 L455.45,295.72 L455.70,295.74 L455.95,295.70 L456.20,295.71 L456.45,295.69 L456.70,295.68 L456.95,295.70 L457.20,295.78 L457.45,295.91 L457.70,295.98 L457.95,296.07 L458.20,296.13 L458.45,296.16 L458.70,296.15 L458.95,296.09 L459.20,296.05 L459.45,295.99 L459.70,295.98 L459.95,295.99 L460.20,296.03 L460.45,296.12 L460.70,296.20 L460.95,296.30 L461.20,296.33 L461.45,296.33 L461.70,296.32 L461.95,296.27 L462.20,296.22 L462.45,296.15 L462.70,296.11 L462.95,296.08 L463.20,296.03 L463.45,296.02 L463.70,296.00 L463.95,295.98 L464.20,295.98 L464.45,296.00 L464.70,296.02 L464.95,296.02 L465.20,296.05 L465.45,296.05 L465.70,296.02 L465.95,295.97 L466.20,295.95 L466.45,295.93 L466.70,295.89 L466.95,295.89 L467.20,295.96 L467.45,296.02 L467.70,296.06 L467.95,296.12 L468.20,296.14 L468.45,296.13 L468.70,296.08 L468.95,296.02 L469.20,295.96 L469.45,295.88 L469.70,295.83 L469.95,295.78 L470.20,295.77 L470.45,295.78 L470.70,295.81 L470.95,295.87 L471.20,295.95 L471.45,296.06 L471.70,296.17 L471.95,296.25 L472.20,296.30 L472.45,296.36 L472.70,296.36 L472.95,296.36 L473.20,296.32 L473.45,296.31 L473.70,296.31 L473.95,296.30 L474.20,296.31 L474.45,296.29 L474.70,296.29 L474.95,296.26 L475.20,296.24 L475.45,296.19 L475.70,296.16 L475.95,296.15 L476.20,296.15 L476.45,296.15 L476.70,296.12 L476.95,296.09 L477.20,296.06 L477.45,295.98 L477.70,295.90 L477.95,295.86 L478.20,295.85 L478.45,295.90 L478.70,295.92 L478.95,295.99 L479.20,296.07 L479.45,296.12 L479.70,296.10 L479.95,296.08 L480.20,296.13 L480.45,296.16 L480.70,296.17 L480.95,296.17 L481.20,296.23 L481.45,296.24 L481.70,296.21 L481.95,296.15 L482.20,296.12 L482.45,296.12 L482.70,296.11 L482.95,296.13 L483.20,296.17 L483.45,296.24 L483.70,296.28 L483.95,296.31 L484.20,296.34 L484.45,296.35 L484.70,296.33 L484.95,296.28 L485.20,296.26 L485.45,296.24 L485.70,296.21 L485.95,296.15 L486.20,296.10 L486.45,296.08 L486.70,296.05 L486.95,295.99 L487.20,295.92 L487.45,295.88 L487.70,295.88 L487.95,295.88 L488.20,295.89 L488.45,295.91 L488.70,295.96 L488.95,295.98 L489.20,295.99 L489.45,295.97 L489.70,295.95 L489.95,295.92 L490.20,295.93 L490.45,295.92 L490.70,295.89 L490.95,295.93 L491.20,295.95 L491.45,295.98 L491.70,295.97 L491.95,296.00 L492.20,296.04 L492.45,296.04 L492.70,296.03 L492.95,296.02 L493.20,296.03 L493.45,296.03 L493.70,296.02 L493.95,296.01 L494.20,296.05 L494.45,296.09 L494.70,296.12 L494.95,296.15 L495.20,296.18 L495.45,296.24 L495.70,296.22 L495.95,296.20 L496.20,296.17 L496.45,296.13 L496.70,296.09 L496.95,296.02 L497.20,296.03 L497.45,296.01 L497.70,296.02 L497.95,296.07 L498.20,296.08 L498.45,296.11 L498.70,296.12 L498.95,296.18 L499.20,296.20 L499.45,296.21 L499.70,296.26 L499.95,296.29 L500.20,296.28 L500.45,296.21 L500.70,296.18 L500.95,296.13 L501.20,296.05 L501.45,295.98 L501.70,295.98 L501.95,296.00 L502.20,296.02 L502.45,296.07 L502.70,296.13 L502.95,296.21 L503.20,296.24 L503.45,296.24 L503.70,296.25 L503.95,296.25 L504.20,296.23 L504.45,296.16 L504.70,296.13 L504.95,296.14 L505.20,296.14 L505.45,296.09 L505.70,296.09 L505.95,296.08 L506.20,296.06 L506.45,296.01 L506.70,295.96 L506.95,295.97 L507.20,295.96 L507.45,295.99 L507.70,296.02 L507.95,296.05 L508.20,296.10 L508.45,296.16 L508.70,296.20 L508.95,296.21 L509.20,296.23 L509.45,296.24 L509.70,296.23 L509.95,296.16 L510.20,296.11 L510.45,296.06 L510.70,295.97 L510.95,295.88 L511.20,295.81 L511.45,295.75 L511.70,295.67 L511.95,295.61 L512.20,295.58 L512.45,295.53 L512.70,295.46 L512.95,295.38 L513.20,295.31 L513.45,295.18 L513.70,295.02 L513.95,294.87 L514.20,294.68 L514.45,294.44 L514.70,294.23 L514.95,294.09 L515.20,293.94 L515.45,293.83 L515.70,293.81 L515.95,293.91 L516.20,294.02 L516.45,294.17 L516.70,294.40 L516.95,294.66 L517.20,294.92 L517.45,295.18 L517.70,295.43 L517.95,295.65 L518.20,295.83 L518.45,295.96 L518.70,296.04 L518.95,296.05 L519.20,296.06 L519.45,296.06 L519.70,296.05 L519.95,296.02 L520.20,296.00" fill="none" stroke="#0e4a4a" stroke-width="1.45" stroke-linejoin="round"/>
<path d="M53.20,341.67 L53.45,341.67 L53.70,341.72 L53.95,341.79 L54.20,341.91 L54.45,342.08 L54.70,342.22 L54.95,342.34 L55.20,342.43 L55.45,342.47 L55.70,342.43 L55.95,342.37 L56.20,342.28 L56.45,342.12 L56.70,341.94 L56.95,341.84 L57.20,341.74 L57.45,341.66 L57.70,341.67 L57.95,341.76 L58.20,341.91 L58.45,342.01 L58.70,342.15 L58.95,342.30 L59.20,342.35 L59.45,342.35 L59.70,342.34 L59.95,342.29 L60.20,342.21 L60.45,342.10 L60.70,342.04 L60.95,341.99 L61.20,341.94 L61.45,341.92 L61.70,341.93 L61.95,341.98 L62.20,342.02 L62.45,342.06 L62.70,342.11 L62.95,342.14 L63.20,342.13 L63.45,342.08 L63.70,342.06 L63.95,342.05 L64.20,342.02 L64.45,342.02 L64.70,342.05 L64.95,342.09 L65.20,342.07 L65.45,342.07 L65.70,342.08 L65.95,342.07 L66.20,342.04 L66.45,342.05 L66.70,342.07 L66.95,342.08 L67.20,342.06 L67.45,342.09 L67.70,342.11 L67.95,342.11 L68.20,342.14 L68.45,342.15 L68.70,342.19 L68.95,342.16 L69.20,342.14 L69.45,342.09 L69.70,342.01 L69.95,341.91 L70.20,341.79 L70.45,341.73 L70.70,341.68 L70.95,341.68 L71.20,341.71 L71.45,341.77 L71.70,341.87 L71.95,341.97 L72.20,342.09 L72.45,342.20 L72.70,342.29 L72.95,342.37 L73.20,342.41 L73.45,342.40 L73.70,342.34 L73.95,342.24 L74.20,342.13 L74.45,342.05 L74.70,341.99 L74.95,341.97 L75.20,341.97 L75.45,342.06 L75.70,342.16 L75.95,342.26 L76.20,342.32 L76.45,342.39 L76.70,342.43 L76.95,342.38 L77.20,342.32 L77.45,342.26 L77.70,342.21 L77.95,342.16 L78.20,342.15 L78.45,342.16 L78.70,342.17 L78.95,342.18 L79.20,342.18 L79.45,342.17 L79.70,342.15 L79.95,342.16 L80.20,342.15 L80.45,342.13 L80.70,342.14 L80.95,342.14 L81.20,342.15 L81.45,342.15 L81.70,342.19 L81.95,342.23 L82.20,342.25 L82.45,342.29 L82.70,342.31 L82.95,342.31 L83.20,342.29 L83.45,342.26 L83.70,342.21 L83.95,342.11 L84.20,342.01 L84.45,341.91 L84.70,341.82 L84.95,341.74 L85.20,341.72 L85.45,341.74 L85.70,341.81 L85.95,341.90 L86.20,341.98 L86.45,342.02 L86.70,342.04 L86.95,342.04 L87.20,341.99 L87.45,341.93 L87.70,341.87 L87.95,341.83 L88.20,341.75 L88.45,341.62 L88.70,341.30 L88.95,340.38 L89.20,338.54 L89.45,336.92 L89.70,337.75 L89.95,339.77 L90.20,341.09 L90.45,341.65 L90.70,341.91 L90.95,342.03 L91.20,342.10 L91.45,342.13 L91.70,342.13 L91.95,342.08 L92.20,342.03 L92.45,341.98 L92.70,341.96 L92.95,341.94 L93.20,341.96 L93.45,342.02 L93.70,342.07 L93.95,342.11 L94.20,342.11 L94.45,342.14 L94.70,342.14 L94.95,342.10 L95.20,342.07 L95.45,342.05 L95.70,342.05 L95.95,342.04 L96.20,342.05 L96.45,342.10 L96.70,342.13 L96.95,342.17 L97.20,342.26 L97.45,342.33 L97.70,342.39 L97.95,342.42 L98.20,342.46 L98.45,342.46 L98.70,342.38 L98.95,342.34 L99.20,342.25 L99.45,342.20 L99.70,342.16 L99.95,342.15 L100.20,342.16 L100.45,342.10 L100.70,342.10 L100.95,342.03 L101.20,341.93 L101.45,341.69 L101.70,341.07 L101.95,339.87 L102.20,338.11 L102.45,336.84 L102.70,337.43 L102.95,339.14 L103.20,340.63 L103.45,341.43 L103.70,341.74 L103.95,341.83 L104.20,341.86 L104.45,341.86 L104.70,341.86 L104.95,341.87 L105.20,341.90 L105.45,341.94 L105.70,341.98 L105.95,342.04 L106.20,342.06 L106.45,342.07 L106.70,342.10 L106.95,342.15 L107.20,342.20 L107.45,342.21 L107.70,342.27 L107.95,342.32 L108.20,342.32 L108.45,342.27 L108.70,342.19 L108.95,342.08 L109.20,341.92 L109.45,341.78 L109.70,341.68 L109.95,341.61 L110.20,341.56 L110.45,341.58 L110.70,341.64 L110.95,341.74 L111.20,341.80 L111.45,341.90 L111.70,342.01 L111.95,342.09 L112.20,342.17 L112.45,342.19 L112.70,342.23 L112.95,342.25 L113.20,342.24 L113.45,342.26 L113.70,342.24 L113.95,342.24 L114.20,342.22 L114.45,342.23 L114.70,342.28 L114.95,342.30 L115.20,342.32 L115.45,342.38 L115.70,342.45 L115.95,342.47 L116.20,342.42 L116.45,342.41 L116.70,342.40 L116.95,342.33 L117.20,342.22 L117.45,342.10 L117.70,341.96 L117.95,341.65 L118.20,340.96 L118.45,339.83 L118.70,338.54 L118.95,338.11 L119.20,339.03 L119.45,340.29 L119.70,341.22 L119.95,341.66 L120.20,341.82 L120.45,341.84 L120.70,341.85 L120.95,341.85 L121.20,341.84 L121.45,341.86 L121.70,341.90 L121.95,341.93 L122.20,341.96 L122.45,341.98 L122.70,341.97 L122.95,341.95 L123.20,341.92 L123.45,341.95 L123.70,341.96 L123.95,342.01 L124.20,342.10 L124.45,342.13 L124.70,342.17 L124.95,342.16 L125.20,342.13 L125.45,342.08 L125.70,341.98 L125.95,341.96 L126.20,341.91 L126.45,341.88 L126.70,341.89 L126.95,341.91 L127.20,341.95 L127.45,341.93 L127.70,341.96 L127.95,341.96 L128.20,341.94 L128.45,341.93 L128.70,341.93 L128.95,341.96 L129.20,341.98 L129.45,342.02 L129.70,342.05 L129.95,342.07 L130.20,342.11 L130.45,342.13 L130.70,342.13 L130.95,342.14 L131.20,342.16 L131.45,342.23 L131.70,342.29 L131.95,342.36 L132.20,342.45 L132.45,342.52 L132.70,342.56 L132.95,342.54 L133.20,342.49 L133.45,342.39 L133.70,342.26 L133.95,342.13 L134.20,342.02 L134.45,341.93 L134.70,341.90 L134.95,341.90 L135.20,341.90 L135.45,341.88 L135.70,341.78 L135.95,341.49 L136.20,340.83 L136.45,339.67 L136.70,338.16 L136.95,336.84 L137.20,336.65 L137.45,337.77 L137.70,339.24 L137.95,340.46 L138.20,341.18 L138.45,341.55 L138.70,341.71 L138.95,341.81 L139.20,341.88 L139.45,341.94 L139.70,342.03 L139.95,342.11 L140.20,342.19 L140.45,342.23 L140.70,342.24 L140.95,342.23 L141.20,342.13 L141.45,342.05 L141.70,341.95 L141.95,341.88 L142.20,341.84 L142.45,341.82 L142.70,341.88 L142.95,341.91 L143.20,341.92 L143.45,341.93 L143.70,341.95 L143.95,341.92 L144.20,341.89 L144.45,341.89 L144.70,341.93 L144.95,341.99 L145.20,342.06 L145.45,342.19 L145.70,342.28 L145.95,342.36 L146.20,342.39 L146.45,342.38 L146.70,342.34 L146.95,342.26 L147.20,342.20 L147.45,342.15 L147.70,342.15 L147.95,342.17 L148.20,342.17 L148.45,342.20 L148.70,342.19 L148.95,342.19 L149.20,342.13 L149.45,342.09 L149.70,342.04 L149.95,341.98 L150.20,341.96 L150.45,341.98 L150.70,342.00 L150.95,342.01 L151.20,342.02 L151.45,342.06 L151.70,342.06 L151.95,342.02 L152.20,342.01 L152.45,342.01 L152.70,342.06 L152.95,342.11 L153.20,342.15 L153.45,342.21 L153.70,342.23 L153.95,342.24 L154.20,342.19 L154.45,342.12 L154.70,342.04 L154.95,341.94 L155.20,341.84 L155.45,341.71 L155.70,341.59 L155.95,341.43 L156.20,341.29 L156.45,341.14 L156.70,341.07 L156.95,341.09 L157.20,341.17 L157.45,341.36 L157.70,341.53 L157.95,341.71 L158.20,341.80 L158.45,341.84 L158.70,341.89 L158.95,341.92 L159.20,341.98 L159.45,342.02 L159.70,342.06 L159.95,342.12 L160.20,342.13 L160.45,342.12 L160.70,342.09 L160.95,342.08 L161.20,342.10 L161.45,342.07 L161.70,342.11 L161.95,342.13 L162.20,342.16 L162.45,342.14 L162.70,342.08 L162.95,342.05 L163.20,342.01 L163.45,341.99 L163.70,341.99 L163.95,342.03 L164.20,342.08 L164.45,342.11 L164.70,342.08 L164.95,342.03 L165.20,341.95 L165.45,341.88 L165.70,341.84 L165.95,341.84 L166.20,341.87 L166.45,341.91 L166.70,341.93 L166.95,341.92 L167.20,341.91 L167.45,341.83 L167.70,341.74 L167.95,341.66 L168.20,341.60 L168.45,341.51 L168.70,341.35 L168.95,341.15 L169.20,340.89 L169.45,340.37 L169.70,339.41 L169.95,337.71 L170.20,335.09 L170.45,331.56 L170.70,327.86 L170.95,325.59 L171.20,325.99 L171.45,328.19 L171.70,330.11 L171.95,330.66 L172.20,329.90 L172.45,328.89 L172.70,329.26 L172.95,331.48 L173.20,334.49 L173.45,337.16 L173.70,339.06 L173.95,340.22 L174.20,340.85 L174.45,341.20 L174.70,341.41 L174.95,341.56 L175.20,341.67 L175.45,341.74 L175.70,341.84 L175.95,341.88 L176.20,341.92 L176.45,341.94 L176.70,341.98 L176.95,342.03 L177.20,342.02 L177.45,342.03 L177.70,341.99 L177.95,341.95 L178.20,341.90 L178.45,341.85 L178.70,341.84 L178.95,341.83 L179.20,341.87 L179.45,341.95 L179.70,342.03 L179.95,342.08 L180.20,342.12 L180.45,342.11 L180.70,342.06 L180.95,341.94 L181.20,341.76 L181.45,341.52 L181.70,341.18 L181.95,340.76 L182.20,340.30 L182.45,339.83 L182.70,339.49 L182.95,339.44 L183.20,339.66 L183.45,340.12 L183.70,340.59 L183.95,341.03 L184.20,341.34 L184.45,341.49 L184.70,341.57 L184.95,341.51 L185.20,341.39 L185.45,341.18 L185.70,340.96 L185.95,340.73 L186.20,340.44 L186.45,340.18 L186.70,339.99 L186.95,339.90 L187.20,339.97 L187.45,340.16 L187.70,340.39 L187.95,340.57 L188.20,340.63 L188.45,340.66 L188.70,340.46 L188.95,339.85 L189.20,338.44 L189.45,335.84 L189.70,331.98 L189.95,327.76 L190.20,325.77 L190.45,327.88 L190.70,332.21 L190.95,336.21 L191.20,338.84 L191.45,340.23 L191.70,340.86 L191.95,341.09 L192.20,341.22 L192.45,341.31 L192.70,341.37 L192.95,341.41 L193.20,341.43 L193.45,341.46 L193.70,341.43 L193.95,341.34 L194.20,341.17 L194.45,340.94 L194.70,340.42 L194.95,339.25 L195.20,336.98 L195.45,333.48 L195.70,329.40 L195.95,326.82 L196.20,327.98 L196.45,331.76 L196.70,335.65 L196.95,338.39 L197.20,339.91 L197.45,340.62 L197.70,340.87 L197.95,340.95 L198.20,340.97 L198.45,340.93 L198.70,340.84 L198.95,340.71 L199.20,340.62 L199.45,340.46 L199.70,340.22 L199.95,339.87 L200.20,339.27 L200.45,338.14 L200.70,335.97 L200.95,332.21 L201.20,326.31 L201.45,318.26 L201.70,309.05 L201.95,300.98 L202.20,297.59 L202.45,300.91 L202.70,308.99 L202.95,318.24 L203.20,326.30 L203.45,332.24 L203.70,336.12 L203.95,338.42 L204.20,339.63 L204.45,340.28 L204.70,340.65 L204.95,340.92 L205.20,341.10 L205.45,341.17 L205.70,341.29 L205.95,341.40 L206.20,341.46 L206.45,341.46 L206.70,341.44 L206.95,341.47 L207.20,341.41 L207.45,341.37 L207.70,341.38 L207.95,341.43 L208.20,341.49 L208.45,341.54 L208.70,341.65 L208.95,341.69 L209.20,341.68 L209.45,341.62 L209.70,341.45 L209.95,341.20 L210.20,340.82 L210.45,340.41 L210.70,339.90 L210.95,339.33 L211.20,338.81 L211.45,338.46 L211.70,338.45 L211.95,338.63 L212.20,339.08 L212.45,339.62 L212.70,340.22 L212.95,340.76 L213.20,341.17 L213.45,341.53 L213.70,341.77 L213.95,341.93 L214.20,341.99 L214.45,342.03 L214.70,342.07 L214.95,342.10 L215.20,342.13 L215.45,342.17 L215.70,342.20 L215.95,342.22 L216.20,342.22 L216.45,342.27 L216.70,342.30 L216.95,342.35 L217.20,342.43 L217.45,342.46 L217.70,342.48 L217.95,342.45 L218.20,342.42 L218.45,342.33 L218.70,342.21 L218.95,342.13 L219.20,342.08 L219.45,342.02 L219.70,341.99 L219.95,342.00 L220.20,342.06 L220.45,342.11 L220.70,342.17 L220.95,342.23 L221.20,342.29 L221.45,342.33 L221.70,342.33 L221.95,342.34 L222.20,342.32 L222.45,342.34 L222.70,342.34 L222.95,342.34 L223.20,342.34 L223.45,342.33 L223.70,342.34 L223.95,342.29 L224.20,342.26 L224.45,342.22 L224.70,342.22 L224.95,342.18 L225.20,342.15 L225.45,342.15 L225.70,342.14 L225.95,342.13 L226.20,342.10 L226.45,342.11 L226.70,342.12 L226.95,342.17 L227.20,342.18 L227.45,342.22 L227.70,342.24 L227.95,342.24 L228.20,342.24 L228.45,342.19 L228.70,342.17 L228.95,342.15 L229.20,342.14 L229.45,342.12 L229.70,342.09 L229.95,342.11 L230.20,342.14 L230.45,342.12 L230.70,342.11 L230.95,342.14 L231.20,342.17 L231.45,342.16 L231.70,342.12 L231.95,342.10 L232.20,342.10 L232.45,342.08 L232.70,342.05 L232.95,342.06 L233.20,342.11 L233.45,342.18 L233.70,342.22 L233.95,342.25 L234.20,342.27 L234.45,342.23 L234.70,342.16 L234.95,341.97 L235.20,341.77 L235.45,341.55 L235.70,341.26 L235.95,341.03 L236.20,340.82 L236.45,340.80 L236.70,340.90 L236.95,341.08 L237.20,341.31 L237.45,341.47 L237.70,341.57 L237.95,341.56 L238.20,341.50 L238.45,341.32 L238.70,341.11 L238.95,340.86 L239.20,340.58 L239.45,340.33 L239.70,340.11 L239.95,340.06 L240.20,340.16 L240.45,340.43 L240.70,340.75 L240.95,341.03 L241.20,341.27 L241.45,341.44 L241.70,341.60 L241.95,341.68 L242.20,341.73 L242.45,341.79 L242.70,341.88 L242.95,341.96 L243.20,341.93 L243.45,341.89 L243.70,341.80 L243.95,341.61 L244.20,341.29 L244.45,340.76 L244.70,340.10 L244.95,339.21 L245.20,338.11 L245.45,336.86 L245.70,335.63 L245.95,334.71 L246.20,334.34 L246.45,334.68 L246.70,335.59 L246.95,336.78 L247.20,338.00 L247.45,339.09 L247.70,339.96 L247.95,340.62 L248.20,341.06 L248.45,341.39 L248.70,341.59 L248.95,341.70 L249.20,341.76 L249.45,341.79 L249.70,341.82 L249.95,341.83 L250.20,341.84 L250.45,341.86 L250.70,341.90 L250.95,341.91 L251.20,341.90 L251.45,341.89 L251.70,341.91 L251.95,341.91 L252.20,341.85 L252.45,341.87 L252.70,341.88 L252.95,341.88 L253.20,341.87 L253.45,341.90 L253.70,341.95 L253.95,341.94 L254.20,341.92 L254.45,341.88 L254.70,341.83 L254.95,341.70 L255.20,341.55 L255.45,341.38 L255.70,341.18 L255.95,340.93 L256.20,340.64 L256.45,340.35 L256.70,340.06 L256.95,339.80 L257.20,339.60 L257.45,339.51 L257.70,339.59 L257.95,339.80 L258.20,340.07 L258.45,340.36 L258.70,340.66 L258.95,340.96 L259.20,341.21 L259.45,341.44 L259.70,341.65 L259.95,341.81 L260.20,341.94 L260.45,342.04 L260.70,342.16 L260.95,342.22 L261.20,342.27 L261.45,342.33 L261.70,342.40 L261.95,342.41 L262.20,342.35 L262.45,342.28 L262.70,342.21 L262.95,342.13 L263.20,341.99 L263.45,341.91 L263.70,341.86 L263.95,341.84 L264.20,341.87 L264.45,341.93 L264.70,342.05 L264.95,342.19 L265.20,342.33 L265.45,342.49 L265.70,342.59 L265.95,342.63 L266.20,342.61 L266.45,342.56 L266.70,342.49 L266.95,342.42 L267.20,342.34 L267.45,342.26 L267.70,342.23 L267.95,342.21 L268.20,342.17 L268.45,342.11 L268.70,342.08 L268.95,342.05 L269.20,341.99 L269.45,341.95 L269.70,341.92 L269.95,341.95 L270.20,341.99 L270.45,342.09 L270.70,342.17 L270.95,342.24 L271.20,342.32 L271.45,342.31 L271.70,342.27 L271.95,342.16 L272.20,342.05 L272.45,341.90 L272.70,341.72 L272.95,341.54 L273.20,341.28 L273.45,340.92 L273.70,340.51 L273.95,340.06 L274.20,339.67 L274.45,339.44 L274.70,339.54 L274.95,339.92 L275.20,340.35 L275.45,340.81 L275.70,341.18 L275.95,341.47 L276.20,341.69 L276.45,341.85 L276.70,342.00 L276.95,342.07 L277.20,342.11 L277.45,342.12 L277.70,342.13 L277.95,342.09 L278.20,342.07 L278.45,342.07 L278.70,342.10 L278.95,342.17 L279.20,342.22 L279.45,342.27 L279.70,342.29 L279.95,342.33 L280.20,342.33 L280.45,342.28 L280.70,342.25 L280.95,342.23 L281.20,342.21 L281.45,342.15 L281.70,342.09 L281.95,342.03 L282.20,341.91 L282.45,341.72 L282.70,341.42 L282.95,340.94 L283.20,340.16 L283.45,339.08 L283.70,337.76 L283.95,336.38 L284.20,335.32 L284.45,335.04 L284.70,335.70 L284.95,336.95 L285.20,338.36 L285.45,339.64 L285.70,340.60 L285.95,341.22 L286.20,341.59 L286.45,341.79 L286.70,341.88 L286.95,341.89 L287.20,341.89 L287.45,341.93 L287.70,341.95 L287.95,341.97 L288.20,341.99 L288.45,342.00 L288.70,341.99 L288.95,341.97 L289.20,341.98 L289.45,341.98 L289.70,341.97 L289.95,341.96 L290.20,342.00 L290.45,342.03 L290.70,342.04 L290.95,342.06 L291.20,342.08 L291.45,342.17 L291.70,342.24 L291.95,342.29 L292.20,342.34 L292.45,342.36 L292.70,342.36 L292.95,342.30 L293.20,342.19 L293.45,342.02 L293.70,341.80 L293.95,341.59 L294.20,341.37 L294.45,341.13 L294.70,340.88 L294.95,340.67 L295.20,340.57 L295.45,340.54 L295.70,340.61 L295.95,340.79 L296.20,341.06 L296.45,341.33 L296.70,341.57 L296.95,341.79 L297.20,341.92 L297.45,342.00 L297.70,341.98 L297.95,341.92 L298.20,341.83 L298.45,341.66 L298.70,341.49 L298.95,341.27 L299.20,341.05 L299.45,340.83 L299.70,340.67 L299.95,340.62 L300.20,340.65 L300.45,340.79 L300.70,341.00 L300.95,341.22 L301.20,341.40 L301.45,341.57 L301.70,341.72 L301.95,341.80 L302.20,341.84 L302.45,341.84 L302.70,341.87 L302.95,341.82 L303.20,341.74 L303.45,341.69 L303.70,341.56 L303.95,341.39 L304.20,341.08 L304.45,340.72 L304.70,340.25 L304.95,339.72 L305.20,339.18 L305.45,338.73 L305.70,338.48 L305.95,338.43 L306.20,338.68 L306.45,339.10 L306.70,339.65 L306.95,340.18 L307.20,340.66 L307.45,341.12 L307.70,341.45 L307.95,341.67 L308.20,341.79 L308.45,341.89 L308.70,341.97 L308.95,341.98 L309.20,342.00 L309.45,341.99 L309.70,341.98 L309.95,341.98 L310.20,341.96 L310.45,341.94 L310.70,341.94 L310.95,341.98 L311.20,342.08 L311.45,342.13 L311.70,342.17 L311.95,342.22 L312.20,342.22 L312.45,342.21 L312.70,342.15 L312.95,342.12 L313.20,342.10 L313.45,342.08 L313.70,342.10 L313.95,342.12 L314.20,342.15 L314.45,342.16 L314.70,342.14 L314.95,342.15 L315.20,342.15 L315.45,342.17 L315.70,342.18 L315.95,342.21 L316.20,342.25 L316.45,342.31 L316.70,342.38 L316.95,342.39 L317.20,342.45 L317.45,342.45 L317.70,342.48 L317.95,342.46 L318.20,342.40 L318.45,342.39 L318.70,342.36 L318.95,342.37 L319.20,342.35 L319.45,342.36 L319.70,342.39 L319.95,342.41 L320.20,342.42 L320.45,342.40 L320.70,342.39 L320.95,342.32 L321.20,342.23 L321.45,342.12 L321.70,342.06 L321.95,342.01 L322.20,341.95 L322.45,341.91 L322.70,341.90 L322.95,341.87 L323.20,341.70 L323.45,341.42 L323.70,340.99 L323.95,340.36 L324.20,339.39 L324.45,338.12 L324.70,336.57 L324.95,334.80 L325.20,333.01 L325.45,331.51 L325.70,330.70 L325.95,330.78 L326.20,331.74 L326.45,333.26 L326.70,334.96 L326.95,336.55 L327.20,337.82 L327.45,338.82 L327.70,339.50 L327.95,339.88 L328.20,339.96 L328.45,339.87 L328.70,339.71 L328.95,339.45 L329.20,339.20 L329.45,339.10 L329.70,339.20 L329.95,339.47 L330.20,339.80 L330.45,340.24 L330.70,340.70 L330.95,341.11 L331.20,341.45 L331.45,341.72 L331.70,341.93 L331.95,342.02 L332.20,342.06 L332.45,342.07 L332.70,342.04 L332.95,342.04 L333.20,342.07 L333.45,342.14 L333.70,342.17 L333.95,342.20 L334.20,342.22 L334.45,342.22 L334.70,342.16 L334.95,342.08 L335.20,342.02 L335.45,342.00 L335.70,342.03 L335.95,342.01 L336.20,342.05 L336.45,342.11 L336.70,342.18 L336.95,342.24 L337.20,342.26 L337.45,342.29 L337.70,342.28 L337.95,342.23 L338.20,342.20 L338.45,342.12 L338.70,342.05 L338.95,342.02 L339.20,341.98 L339.45,341.95 L339.70,341.86 L339.95,341.81 L340.20,341.73 L340.45,341.56 L340.70,341.35 L340.95,341.12 L341.20,340.86 L341.45,340.53 L341.70,340.19 L341.95,339.94 L342.20,339.77 L342.45,339.68 L342.70,339.73 L342.95,339.92 L343.20,340.20 L343.45,340.48 L343.70,340.78 L343.95,341.07 L344.20,341.34 L344.45,341.56 L344.70,341.75 L344.95,341.90 L345.20,341.99 L345.45,342.10 L345.70,342.15 L345.95,342.20 L346.20,342.23 L346.45,342.28 L346.70,342.32 L346.95,342.31 L347.20,342.29 L347.45,342.25 L347.70,342.19 L347.95,342.13 L348.20,342.10 L348.45,342.11 L348.70,342.16 L348.95,342.25 L349.20,342.33 L349.45,342.40 L349.70,342.48 L349.95,342.50 L350.20,342.50 L350.45,342.49 L350.70,342.47 L350.95,342.47 L351.20,342.39 L351.45,342.38 L351.70,342.36 L351.95,342.30 L352.20,342.25 L352.45,342.17 L352.70,342.18 L352.95,342.13 L353.20,342.08 L353.45,342.07 L353.70,342.01 L353.95,341.97 L354.20,341.91 L354.45,341.90 L354.70,341.90 L354.95,341.88 L355.20,341.91 L355.45,341.88 L355.70,341.74 L355.95,341.44 L356.20,340.96 L356.45,340.25 L356.70,339.20 L356.95,337.82 L357.20,336.14 L357.45,334.29 L357.70,332.51 L357.95,331.18 L358.20,330.70 L358.45,331.31 L358.70,332.77 L358.95,334.62 L359.20,336.45 L359.45,338.00 L359.70,339.23 L359.95,340.09 L360.20,340.70 L360.45,341.08 L360.70,341.34 L360.95,341.55 L361.20,341.70 L361.45,341.82 L361.70,341.89 L361.95,341.99 L362.20,342.09 L362.45,342.20 L362.70,342.31 L362.95,342.37 L363.20,342.42 L363.45,342.39 L363.70,342.37 L363.95,342.32 L364.20,342.24 L364.45,342.23 L364.70,342.21 L364.95,342.22 L365.20,342.21 L365.45,342.20 L365.70,342.23 L365.95,342.20 L366.20,342.22 L366.45,342.23 L366.70,342.26 L366.95,342.29 L367.20,342.28 L367.45,342.33 L367.70,342.31 L367.95,342.29 L368.20,342.23 L368.45,342.18 L368.70,342.16 L368.95,342.14 L369.20,342.20 L369.45,342.27 L369.70,342.36 L369.95,342.43 L370.20,342.47 L370.45,342.50 L370.70,342.47 L370.95,342.42 L371.20,342.36 L371.45,342.34 L371.70,342.35 L371.95,342.33 L372.20,342.33 L372.45,342.34 L372.70,342.36 L372.95,342.34 L373.20,342.30 L373.45,342.29 L373.70,342.29 L373.95,342.26 L374.20,342.30 L374.45,342.34 L374.70,342.39 L374.95,342.41 L375.20,342.43 L375.45,342.46 L375.70,342.42 L375.95,342.39 L376.20,342.35 L376.45,342.35 L376.70,342.34 L376.95,342.35 L377.20,342.36 L377.45,342.37 L377.70,342.38 L377.95,342.36 L378.20,342.32 L378.45,342.25 L378.70,342.18 L378.95,342.12 L379.20,342.07 L379.45,342.04 L379.70,342.05 L379.95,342.03 L380.20,342.05 L380.45,342.07 L380.70,342.06 L380.95,342.06 L381.20,342.06 L381.45,342.12 L381.70,342.18 L381.95,342.24 L382.20,342.37 L382.45,342.48 L382.70,342.59 L382.95,342.64 L383.20,342.65 L383.45,342.65 L383.70,342.59 L383.95,342.50 L384.20,342.40 L384.45,342.36 L384.70,342.36 L384.95,342.38 L385.20,342.38 L385.45,342.45 L385.70,342.55 L385.95,342.56 L386.20,342.58 L386.45,342.61 L386.70,342.65 L386.95,342.63 L387.20,342.57 L387.45,342.57 L387.70,342.53 L387.95,342.44 L388.20,342.39 L388.45,342.36 L388.70,342.37 L388.95,342.32 L389.20,342.34 L389.45,342.35 L389.70,342.34 L389.95,342.36 L390.20,342.37 L390.45,342.42 L390.70,342.44 L390.95,342.47 L391.20,342.46 L391.45,342.34 L391.70,342.24 L391.95,342.09 L392.20,341.96 L392.45,341.87 L392.70,341.82 L392.95,341.89 L393.20,341.96 L393.45,342.09 L393.70,342.19 L393.95,342.26 L394.20,342.36 L394.45,342.42 L394.70,342.46 L394.95,342.49 L395.20,342.56 L395.45,342.62 L395.70,342.66 L395.95,342.68 L396.20,342.72 L396.45,342.72 L396.70,342.69 L396.95,342.63 L397.20,342.54 L397.45,342.41 L397.70,342.31 L397.95,342.24 L398.20,342.16 L398.45,342.14 L398.70,342.18 L398.95,342.26 L399.20,342.32 L399.45,342.35 L399.70,342.38 L399.95,342.34 L400.20,342.27 L400.45,342.13 L400.70,341.98 L400.95,341.83 L401.20,341.64 L401.45,341.49 L401.70,341.34 L401.95,341.22 L402.20,341.14 L402.45,341.08 L402.70,341.11 L402.95,341.16 L403.20,341.24 L403.45,341.37 L403.70,341.52 L403.95,341.68 L404.20,341.79 L404.45,341.91 L404.70,342.01 L404.95,342.06 L405.20,342.10 L405.45,342.13 L405.70,342.18 L405.95,342.23 L406.20,342.28 L406.45,342.36 L406.70,342.40 L406.95,342.46 L407.20,342.49 L407.45,342.49 L407.70,342.51 L407.95,342.51 L408.20,342.52 L408.45,342.50 L408.70,342.49 L408.95,342.49 L409.20,342.45 L409.45,342.40 L409.70,342.40 L409.95,342.42 L410.20,342.43 L410.45,342.41 L410.70,342.46 L410.95,342.52 L411.20,342.53 L411.45,342.50 L411.70,342.50 L411.95,342.56 L412.20,342.56 L412.45,342.59 L412.70,342.63 L412.95,342.68 L413.20,342.68 L413.45,342.63 L413.70,342.62 L413.95,342.56 L414.20,342.50 L414.45,342.44 L414.70,342.41 L414.95,342.43 L415.20,342.42 L415.45,342.43 L415.70,342.43 L415.95,342.45 L416.20,342.46 L416.45,342.44 L416.70,342.43 L416.95,342.42 L417.20,342.47 L417.45,342.49 L417.70,342.50 L417.95,342.51 L418.20,342.53 L418.45,342.53 L418.70,342.50 L418.95,342.50 L419.20,342.50 L419.45,342.50 L419.70,342.45 L419.95,342.44 L420.20,342.40 L420.45,342.34 L420.70,342.27 L420.95,342.19 L421.20,342.14 L421.45,342.03 L421.70,341.91 L421.95,341.74 L422.20,341.60 L422.45,341.47 L422.70,341.29 L422.95,341.15 L423.20,341.02 L423.45,340.96 L423.70,340.91 L423.95,340.88 L424.20,340.94 L424.45,341.04 L424.70,341.19 L424.95,341.34 L425.20,341.50 L425.45,341.67 L425.70,341.83 L425.95,341.97 L426.20,342.07 L426.45,342.19 L426.70,342.26 L426.95,342.33 L427.20,342.38 L427.45,342.43 L427.70,342.47 L427.95,342.43 L428.20,342.44 L428.45,342.45 L428.70,342.48 L428.95,342.50 L429.20,342.56 L429.45,342.67 L429.70,342.75 L429.95,342.83 L430.20,342.85 L430.45,342.84 L430.70,342.77 L430.95,342.65 L431.20,342.55 L431.45,342.46 L431.70,342.39 L431.95,342.36 L432.20,342.37 L432.45,342.43 L432.70,342.47 L432.95,342.48 L433.20,342.50 L433.45,342.51 L433.70,342.53 L433.95,342.53 L434.20,342.51 L434.45,342.53 L434.70,342.54 L434.95,342.56 L435.20,342.52 L435.45,342.50 L435.70,342.52 L435.95,342.54 L436.20,342.54 L436.45,342.55 L436.70,342.61 L436.95,342.66 L437.20,342.63 L437.45,342.60 L437.70,342.60 L437.95,342.54 L438.20,342.46 L438.45,342.34 L438.70,342.31 L438.95,342.30 L439.20,342.25 L439.45,342.28 L439.70,342.33 L439.95,342.46 L440.20,342.52 L440.45,342.56 L440.70,342.64 L440.95,342.70 L441.20,342.75 L441.45,342.73 L441.70,342.72 L441.95,342.74 L442.20,342.75 L442.45,342.74 L442.70,342.69 L442.95,342.63 L443.20,342.58 L443.45,342.52 L443.70,342.40 L443.95,342.31 L444.20,342.27 L444.45,342.28 L444.70,342.26 L444.95,342.27 L445.20,342.34 L445.45,342.39 L445.70,342.40 L445.95,342.42 L446.20,342.50 L446.45,342.54 L446.70,342.56 L446.95,342.56 L447.20,342.65 L447.45,342.68 L447.70,342.64 L447.95,342.64 L448.20,342.67 L448.45,342.72 L448.70,342.70 L448.95,342.72 L449.20,342.73 L449.45,342.72 L449.70,342.66 L449.95,342.54 L450.20,342.44 L450.45,342.33 L450.70,342.26 L450.95,342.17 L451.20,342.11 L451.45,342.10 L451.70,342.06 L451.95,342.00 L452.20,341.93 L452.45,341.89 L452.70,341.85 L452.95,341.85 L453.20,341.90 L453.45,341.95 L453.70,341.99 L453.95,342.03 L454.20,342.07 L454.45,342.07 L454.70,342.04 L454.95,342.06 L455.20,342.10 L455.45,342.18 L455.70,342.28 L455.95,342.40 L456.20,342.56 L456.45,342.67 L456.70,342.76 L456.95,342.80 L457.20,342.80 L457.45,342.79 L457.70,342.72 L457.95,342.65 L458.20,342.62 L458.45,342.59 L458.70,342.57 L458.95,342.53 L459.20,342.53 L459.45,342.55 L459.70,342.53 L459.95,342.52 L460.20,342.49 L460.45,342.50 L460.70,342.47 L460.95,342.46 L461.20,342.46 L461.45,342.46 L461.70,342.48 L461.95,342.44 L462.20,342.45 L462.45,342.40 L462.70,342.36 L462.95,342.32 L463.20,342.32 L463.45,342.38 L463.70,342.42 L463.95,342.53 L464.20,342.64 L464.45,342.73 L464.70,342.76 L464.95,342.78 L465.20,342.79 L465.45,342.74 L465.70,342.65 L465.95,342.58 L466.20,342.51 L466.45,342.44 L466.70,342.36 L466.95,342.33 L467.20,342.32 L467.45,342.33 L467.70,342.38 L467.95,342.44 L468.20,342.48 L468.45,342.52 L468.70,342.56 L468.95,342.58 L469.20,342.53 L469.45,342.48 L469.70,342.48 L469.95,342.47 L470.20,342.46 L470.45,342.46 L470.70,342.51 L470.95,342.55 L471.20,342.56 L471.45,342.53 L471.70,342.50 L471.95,342.49 L472.20,342.43 L472.45,342.39 L472.70,342.33 L472.95,342.31 L473.20,342.28 L473.45,342.23 L473.70,342.21 L473.95,342.21 L474.20,342.23 L474.45,342.23 L474.70,342.25 L474.95,342.26 L475.20,342.26 L475.45,342.26 L475.70,342.26 L475.95,342.30 L476.20,342.34 L476.45,342.42 L476.70,342.52 L476.95,342.59 L477.20,342.63 L477.45,342.62 L477.70,342.59 L477.95,342.56 L478.20,342.46 L478.45,342.39 L478.70,342.33 L478.95,342.31 L479.20,342.29 L479.45,342.21 L479.70,342.19 L479.95,342.19 L480.20,342.19 L480.45,342.19 L480.70,342.24 L480.95,342.36 L481.20,342.44 L481.45,342.53 L481.70,342.62 L481.95,342.70 L482.20,342.73 L482.45,342.69 L482.70,342.70 L482.95,342.68 L483.20,342.61 L483.45,342.56 L483.70,342.53 L483.95,342.53 L484.20,342.46 L484.45,342.40 L484.70,342.39 L484.95,342.41 L485.20,342.40 L485.45,342.35 L485.70,342.39 L485.95,342.43 L486.20,342.43 L486.45,342.41 L486.70,342.47 L486.95,342.52 L487.20,342.51 L487.45,342.50 L487.70,342.51 L487.95,342.50 L488.20,342.44 L488.45,342.47 L488.70,342.52 L488.95,342.55 L489.20,342.58 L489.45,342.65 L489.70,342.67 L489.95,342.63 L490.20,342.57 L490.45,342.53 L490.70,342.46 L490.95,342.39 L491.20,342.36 L491.45,342.33 L491.70,342.30 L491.95,342.29 L492.20,342.31 L492.45,342.34 L492.70,342.38 L492.95,342.43 L493.20,342.51 L493.45,342.56 L493.70,342.59 L493.95,342.59 L494.20,342.60 L494.45,342.60 L494.70,342.56 L494.95,342.51 L495.20,342.45 L495.45,342.38 L495.70,342.29 L495.95,342.22 L496.20,342.17 L496.45,342.19 L496.70,342.26 L496.95,342.37 L497.20,342.51 L497.45,342.61 L497.70,342.67 L497.95,342.68 L498.20,342.62 L498.45,342.52 L498.70,342.38 L498.95,342.32 L499.20,342.27 L499.45,342.25 L499.70,342.28 L499.95,342.33 L500.20,342.42 L500.45,342.46 L500.70,342.54 L500.95,342.60 L501.20,342.62 L501.45,342.64 L501.70,342.66 L501.95,342.67 L502.20,342.63 L502.45,342.60 L502.70,342.60 L502.95,342.60 L503.20,342.59 L503.45,342.59 L503.70,342.59 L503.95,342.57 L504.20,342.56 L504.45,342.53 L504.70,342.49 L504.95,342.44 L505.20,342.41 L505.45,342.40 L505.70,342.40 L505.95,342.40 L506.20,342.39 L506.45,342.39 L506.70,342.41 L506.95,342.47 L507.20,342.46 L507.45,342.48 L507.70,342.54 L507.95,342.61 L508.20,342.64 L508.45,342.62 L508.70,342.65 L508.95,342.68 L509.20,342.69 L509.45,342.67 L509.70,342.63 L509.95,342.62 L510.20,342.64 L510.45,342.59 L510.70,342.54 L510.95,342.53 L511.20,342.53 L511.45,342.50 L511.70,342.42 L511.95,342.37 L512.20,342.35 L512.45,342.26 L512.70,342.18 L512.95,342.07 L513.20,341.98 L513.45,341.83 L513.70,341.65 L513.95,341.52 L514.20,341.34 L514.45,341.20 L514.70,341.09 L514.95,341.07 L515.20,341.04 L515.45,341.03 L515.70,341.08 L515.95,341.12 L516.20,341.16 L516.45,341.17 L516.70,341.25 L516.95,341.34 L517.20,341.46 L517.45,341.59 L517.70,341.72 L517.95,341.85 L518.20,341.93 L518.45,341.98 L518.70,342.02 L518.95,342.05 L519.20,342.09 L519.45,342.16 L519.70,342.25 L519.95,342.34 L520.20,342.44" fill="none" stroke="#19b34a" stroke-width="1.45" stroke-linejoin="round"/>
<path d="M53.20,386.98 L53.45,386.96 L53.70,387.00 L53.95,387.04 L54.20,387.08 L54.45,387.13 L54.70,387.14 L54.95,387.12 L55.20,387.09 L55.45,387.03 L55.70,386.95 L55.95,386.87 L56.20,386.80 L56.45,386.80 L56.70,386.76 L56.95,386.72 L57.20,386.68 L57.45,386.66 L57.70,386.67 L57.95,386.66 L58.20,386.68 L58.45,386.77 L58.70,386.90 L58.95,387.00 L59.20,387.10 L59.45,387.16 L59.70,387.22 L59.95,387.22 L60.20,387.20 L60.45,387.18 L60.70,387.13 L60.95,387.14 L61.20,387.09 L61.45,387.06 L61.70,387.02 L61.95,386.98 L62.20,386.96 L62.45,386.91 L62.70,386.90 L62.95,386.90 L63.20,386.88 L63.45,386.89 L63.70,386.86 L63.95,386.84 L64.20,386.83 L64.45,386.82 L64.70,386.82 L64.95,386.85 L65.20,386.92 L65.45,386.97 L65.70,386.98 L65.95,387.00 L66.20,387.03 L66.45,387.02 L66.70,386.95 L66.95,386.92 L67.20,386.90 L67.45,386.89 L67.70,386.88 L67.95,386.87 L68.20,386.94 L68.45,386.96 L68.70,387.02 L68.95,387.05 L69.20,387.07 L69.45,387.10 L69.70,387.10 L69.95,387.13 L70.20,387.10 L70.45,387.07 L70.70,387.06 L70.95,387.06 L71.20,387.04 L71.45,387.02 L71.70,387.03 L71.95,387.06 L72.20,387.05 L72.45,387.03 L72.70,387.04 L72.95,387.07 L73.20,387.07 L73.45,387.10 L73.70,387.17 L73.95,387.21 L74.20,387.19 L74.45,387.13 L74.70,387.14 L74.95,387.10 L75.20,387.01 L75.45,386.96 L75.70,386.96 L75.95,387.03 L76.20,386.99 L76.45,387.01 L76.70,387.06 L76.95,387.09 L77.20,387.10 L77.45,387.08 L77.70,387.13 L77.95,387.16 L78.20,387.15 L78.45,387.14 L78.70,387.16 L78.95,387.17 L79.20,387.12 L79.45,387.03 L79.70,386.96 L79.95,386.89 L80.20,386.81 L80.45,386.72 L80.70,386.70 L80.95,386.73 L81.20,386.78 L81.45,386.86 L81.70,386.93 L81.95,387.07 L82.20,387.15 L82.45,387.24 L82.70,387.32 L82.95,387.38 L83.20,387.41 L83.45,387.38 L83.70,387.37 L83.95,387.31 L84.20,387.23 L84.45,387.15 L84.70,387.16 L84.95,387.15 L85.20,387.15 L85.45,387.15 L85.70,387.17 L85.95,387.11 L86.20,387.00 L86.45,386.92 L86.70,386.81 L86.95,386.78 L87.20,386.74 L87.45,386.82 L87.70,386.87 L87.95,386.91 L88.20,386.88 L88.45,386.35 L88.70,384.94 L88.95,382.94 L89.20,382.63 L89.45,384.45 L89.70,385.99 L89.95,386.66 L90.20,386.86 L90.45,386.94 L90.70,387.02 L90.95,387.07 L91.20,387.15 L91.45,387.23 L91.70,387.29 L91.95,387.35 L92.20,387.36 L92.45,387.41 L92.70,387.41 L92.95,387.39 L93.20,387.35 L93.45,387.31 L93.70,387.27 L93.95,387.16 L94.20,387.14 L94.45,387.08 L94.70,387.04 L94.95,387.02 L95.20,387.06 L95.45,387.11 L95.70,387.09 L95.95,387.14 L96.20,387.23 L96.45,387.24 L96.70,387.16 L96.95,387.11 L97.20,387.09 L97.45,387.06 L97.70,386.98 L97.95,387.00 L98.20,387.06 L98.45,387.13 L98.70,387.23 L98.95,387.21 L99.20,387.19 L99.45,387.08 L99.70,387.01 L99.95,386.86 L100.20,386.63 L100.45,386.53 L100.70,386.44 L100.95,386.34 L101.20,386.17 L101.45,385.91 L101.70,385.24 L101.95,383.71 L102.20,381.52 L102.45,380.02 L102.70,380.86 L102.95,383.06 L103.20,384.95 L103.45,386.01 L103.70,386.43 L103.95,386.51 L104.20,386.50 L104.45,386.58 L104.70,386.64 L104.95,386.70 L105.20,386.81 L105.45,386.94 L105.70,387.07 L105.95,387.11 L106.20,387.17 L106.45,387.17 L106.70,387.13 L106.95,387.10 L107.20,387.09 L107.45,387.09 L107.70,387.06 L107.95,387.04 L108.20,387.03 L108.45,386.99 L108.70,386.92 L108.95,386.86 L109.20,386.82 L109.45,386.76 L109.70,386.72 L109.95,386.74 L110.20,386.80 L110.45,386.86 L110.70,386.88 L110.95,386.95 L111.20,387.00 L111.45,386.99 L111.70,386.95 L111.95,386.87 L112.20,386.87 L112.45,386.79 L112.70,386.73 L112.95,386.72 L113.20,386.74 L113.45,386.79 L113.70,386.82 L113.95,386.90 L114.20,386.98 L114.45,387.01 L114.70,387.01 L114.95,386.98 L115.20,386.91 L115.45,386.87 L115.70,386.82 L115.95,386.79 L116.20,386.83 L116.45,386.89 L116.70,386.96 L116.95,386.97 L117.20,386.98 L117.45,386.94 L117.70,386.79 L117.95,386.50 L118.20,385.97 L118.45,385.01 L118.70,383.91 L118.95,383.54 L119.20,384.41 L119.45,385.57 L119.70,386.38 L119.95,386.79 L120.20,386.96 L120.45,387.05 L120.70,387.10 L120.95,387.18 L121.20,387.24 L121.45,387.29 L121.70,387.35 L121.95,387.39 L122.20,387.42 L122.45,387.41 L122.70,387.34 L122.95,387.32 L123.20,387.28 L123.45,387.24 L123.70,387.21 L123.95,387.20 L124.20,387.19 L124.45,387.19 L124.70,387.20 L124.95,387.20 L125.20,387.21 L125.45,387.20 L125.70,387.24 L125.95,387.21 L126.20,387.16 L126.45,387.15 L126.70,387.11 L126.95,387.12 L127.20,387.09 L127.45,387.12 L127.70,387.16 L127.95,387.19 L128.20,387.23 L128.45,387.27 L128.70,387.32 L128.95,387.31 L129.20,387.34 L129.45,387.35 L129.70,387.34 L129.95,387.28 L130.20,387.15 L130.45,386.96 L130.70,386.58 L130.95,386.14 L131.20,385.61 L131.45,385.21 L131.70,385.16 L131.95,385.51 L132.20,386.05 L132.45,386.46 L132.70,386.77 L132.95,386.96 L133.20,387.04 L133.45,387.04 L133.70,386.99 L133.95,386.99 L134.20,386.97 L134.45,386.95 L134.70,386.88 L134.95,386.76 L135.20,386.51 L135.45,385.99 L135.70,385.10 L135.95,383.86 L136.20,382.68 L136.45,382.29 L136.70,383.06 L136.95,384.29 L137.20,385.37 L137.45,386.10 L137.70,386.49 L137.95,386.72 L138.20,386.88 L138.45,386.98 L138.70,387.04 L138.95,387.06 L139.20,387.05 L139.45,386.99 L139.70,386.90 L139.95,386.83 L140.20,386.75 L140.45,386.72 L140.70,386.72 L140.95,386.77 L141.20,386.84 L141.45,386.95 L141.70,387.08 L141.95,387.19 L142.20,387.26 L142.45,387.34 L142.70,387.39 L142.95,387.40 L143.20,387.37 L143.45,387.31 L143.70,387.28 L143.95,387.21 L144.20,387.10 L144.45,387.02 L144.70,386.96 L144.95,386.97 L145.20,386.94 L145.45,386.93 L145.70,386.98 L145.95,387.01 L146.20,387.04 L146.45,387.03 L146.70,387.04 L146.95,387.10 L147.20,387.15 L147.45,387.19 L147.70,387.26 L147.95,387.29 L148.20,387.36 L148.45,387.32 L148.70,387.23 L148.95,387.14 L149.20,387.02 L149.45,386.98 L149.70,386.93 L149.95,386.97 L150.20,387.02 L150.45,387.09 L150.70,387.16 L150.95,387.18 L151.20,387.17 L151.45,387.14 L151.70,387.14 L151.95,387.15 L152.20,387.16 L152.45,387.16 L152.70,387.11 L152.95,387.06 L153.20,387.01 L153.45,386.94 L153.70,386.89 L153.95,386.83 L154.20,386.89 L154.45,386.93 L154.70,386.93 L154.95,386.94 L155.20,386.88 L155.45,386.89 L155.70,386.85 L155.95,386.85 L156.20,386.90 L156.45,386.93 L156.70,387.05 L156.95,387.10 L157.20,387.11 L157.45,387.07 L157.70,387.01 L157.95,386.95 L158.20,386.82 L158.45,386.74 L158.70,386.72 L158.95,386.71 L159.20,386.71 L159.45,386.76 L159.70,386.86 L159.95,386.94 L160.20,386.96 L160.45,387.01 L160.70,387.06 L160.95,387.03 L161.20,386.98 L161.45,386.92 L161.70,386.89 L161.95,386.85 L162.20,386.81 L162.45,386.82 L162.70,386.86 L162.95,386.90 L163.20,386.97 L163.45,387.00 L163.70,387.05 L163.95,387.10 L164.20,387.09 L164.45,387.11 L164.70,387.07 L164.95,387.05 L165.20,386.96 L165.45,386.81 L165.70,386.68 L165.95,386.53 L166.20,386.38 L166.45,386.28 L166.70,386.23 L166.95,386.25 L167.20,386.27 L167.45,386.28 L167.70,386.29 L167.95,386.22 L168.20,386.13 L168.45,385.98 L168.70,385.80 L168.95,385.54 L169.20,385.09 L169.45,384.38 L169.70,383.15 L169.95,381.24 L170.20,378.56 L170.45,375.18 L170.70,371.50 L170.95,368.14 L171.20,366.20 L171.45,366.48 L171.70,368.84 L171.95,372.35 L172.20,376.03 L172.45,379.27 L172.70,381.69 L172.95,383.36 L173.20,384.44 L173.45,385.10 L173.70,385.49 L173.95,385.74 L174.20,386.04 L174.45,386.28 L174.70,386.41 L174.95,386.46 L175.20,386.46 L175.45,386.50 L175.70,386.43 L175.95,386.37 L176.20,386.33 L176.45,386.38 L176.70,386.43 L176.95,386.36 L177.20,386.23 L177.45,385.96 L177.70,385.55 L177.95,384.80 L178.20,383.84 L178.45,382.84 L178.70,382.06 L178.95,381.89 L179.20,382.40 L179.45,383.39 L179.70,384.40 L179.95,385.21 L180.20,385.77 L180.45,386.11 L180.70,386.27 L180.95,386.34 L181.20,386.39 L181.45,386.42 L181.70,386.40 L181.95,386.37 L182.20,386.26 L182.45,386.05 L182.70,385.66 L182.95,385.15 L183.20,384.62 L183.45,384.18 L183.70,384.10 L183.95,384.39 L184.20,384.89 L184.45,385.41 L184.70,385.81 L184.95,386.10 L185.20,386.25 L185.45,386.15 L185.70,385.84 L185.95,385.25 L186.20,384.37 L186.45,383.21 L186.70,382.17 L186.95,381.91 L187.20,382.54 L187.45,383.62 L187.70,384.58 L187.95,385.29 L188.20,385.68 L188.45,385.72 L188.70,385.52 L188.95,384.86 L189.20,383.18 L189.45,379.54 L189.70,373.38 L189.95,366.22 L190.20,362.58 L190.45,366.13 L190.70,373.23 L190.95,379.30 L191.20,382.99 L191.45,384.77 L191.70,385.56 L191.95,385.94 L192.20,386.20 L192.45,386.37 L192.70,386.47 L192.95,386.41 L193.20,386.21 L193.45,385.80 L193.70,385.00 L193.95,383.65 L194.20,381.73 L194.45,379.68 L194.70,378.27 L194.95,378.46 L195.20,380.02 L195.45,382.01 L195.70,383.70 L195.95,384.83 L196.20,385.46 L196.45,385.70 L196.70,385.84 L196.95,385.95 L197.20,386.05 L197.45,386.09 L197.70,386.12 L197.95,386.14 L198.20,386.14 L198.45,386.11 L198.70,386.04 L198.95,385.98 L199.20,385.85 L199.45,385.67 L199.70,385.41 L199.95,384.93 L200.20,384.21 L200.45,382.94 L200.70,380.67 L200.95,376.84 L201.20,370.88 L201.45,362.87 L201.70,353.70 L201.95,345.71 L202.20,342.41 L202.45,345.78 L202.70,353.84 L202.95,363.07 L203.20,371.08 L203.45,376.97 L203.70,380.71 L203.95,382.82 L204.20,383.95 L204.45,384.48 L204.70,384.72 L204.95,384.70 L205.20,384.47 L205.45,383.93 L205.70,383.08 L205.95,382.01 L206.20,380.96 L206.45,380.45 L206.70,380.78 L206.95,381.82 L207.20,383.04 L207.45,384.17 L207.70,385.04 L207.95,385.58 L208.20,385.88 L208.45,386.04 L208.70,386.11 L208.95,386.06 L209.20,385.91 L209.45,385.69 L209.70,385.36 L209.95,384.84 L210.20,384.20 L210.45,383.60 L210.70,383.19 L210.95,383.09 L211.20,383.40 L211.45,384.02 L211.70,384.71 L211.95,385.28 L212.20,385.65 L212.45,385.88 L212.70,385.94 L212.95,385.85 L213.20,385.68 L213.45,385.47 L213.70,385.28 L213.95,385.22 L214.20,385.33 L214.45,385.59 L214.70,385.89 L214.95,386.19 L215.20,386.48 L215.45,386.66 L215.70,386.82 L215.95,386.95 L216.20,386.99 L216.45,386.99 L216.70,386.97 L216.95,386.94 L217.20,386.85 L217.45,386.76 L217.70,386.73 L217.95,386.75 L218.20,386.77 L218.45,386.84 L218.70,386.96 L218.95,387.12 L219.20,387.25 L219.45,387.37 L219.70,387.46 L219.95,387.50 L220.20,387.50 L220.45,387.41 L220.70,387.32 L220.95,387.21 L221.20,387.14 L221.45,387.05 L221.70,386.98 L221.95,386.99 L222.20,387.01 L222.45,386.99 L222.70,386.98 L222.95,386.99 L223.20,386.96 L223.45,386.85 L223.70,386.69 L223.95,386.48 L224.20,386.20 L224.45,385.87 L224.70,385.64 L224.95,385.51 L225.20,385.52 L225.45,385.71 L225.70,385.99 L225.95,386.32 L226.20,386.56 L226.45,386.79 L226.70,386.98 L226.95,387.11 L227.20,387.20 L227.45,387.21 L227.70,387.27 L227.95,387.32 L228.20,387.37 L228.45,387.40 L228.70,387.40 L228.95,387.41 L229.20,387.39 L229.45,387.32 L229.70,387.21 L229.95,387.12 L230.20,387.08 L230.45,387.06 L230.70,387.04 L230.95,387.00 L231.20,386.96 L231.45,386.91 L231.70,386.85 L231.95,386.79 L232.20,386.73 L232.45,386.77 L232.70,386.84 L232.95,386.96 L233.20,387.10 L233.45,387.25 L233.70,387.39 L233.95,387.47 L234.20,387.52 L234.45,387.53 L234.70,387.49 L234.95,387.40 L235.20,387.32 L235.45,387.21 L235.70,387.10 L235.95,387.01 L236.20,386.94 L236.45,386.92 L236.70,386.90 L236.95,386.90 L237.20,386.92 L237.45,386.90 L237.70,386.74 L237.95,386.43 L238.20,385.91 L238.45,385.09 L238.70,384.09 L238.95,383.06 L239.20,382.42 L239.45,382.47 L239.70,383.14 L239.95,384.17 L240.20,385.10 L240.45,385.82 L240.70,386.30 L240.95,386.55 L241.20,386.71 L241.45,386.74 L241.70,386.74 L241.95,386.72 L242.20,386.66 L242.45,386.65 L242.70,386.61 L242.95,386.53 L243.20,386.44 L243.45,386.33 L243.70,386.20 L243.95,385.92 L244.20,385.56 L244.45,385.07 L244.70,384.42 L244.95,383.56 L245.20,382.51 L245.45,381.39 L245.70,380.27 L245.95,379.43 L246.20,379.16 L246.45,379.56 L246.70,380.54 L246.95,381.76 L247.20,383.02 L247.45,384.18 L247.70,385.10 L247.95,385.87 L248.20,386.44 L248.45,386.84 L248.70,387.13 L248.95,387.28 L249.20,387.36 L249.45,387.38 L249.70,387.38 L249.95,387.37 L250.20,387.32 L250.45,387.24 L250.70,387.19 L250.95,387.12 L251.20,387.00 L251.45,386.85 L251.70,386.73 L251.95,386.70 L252.20,386.69 L252.45,386.71 L252.70,386.77 L252.95,386.90 L253.20,387.01 L253.45,387.10 L253.70,387.13 L253.95,387.13 L254.20,387.11 L254.45,387.03 L254.70,386.95 L254.95,386.78 L255.20,386.54 L255.45,386.17 L255.70,385.63 L255.95,384.87 L256.20,383.91 L256.45,382.87 L256.70,381.86 L256.95,381.18 L257.20,381.13 L257.45,381.76 L257.70,382.72 L257.95,383.72 L258.20,384.64 L258.45,385.38 L258.70,385.91 L258.95,386.23 L259.20,386.51 L259.45,386.71 L259.70,386.84 L259.95,386.93 L260.20,387.02 L260.45,387.12 L260.70,387.14 L260.95,387.18 L261.20,387.19 L261.45,387.19 L261.70,387.15 L261.95,387.09 L262.20,387.02 L262.45,386.96 L262.70,386.91 L262.95,386.88 L263.20,386.90 L263.45,386.92 L263.70,387.00 L263.95,387.02 L264.20,387.08 L264.45,387.11 L264.70,387.10 L264.95,387.09 L265.20,387.05 L265.45,387.11 L265.70,387.09 L265.95,387.10 L266.20,387.17 L266.45,387.23 L266.70,387.29 L266.95,387.29 L267.20,387.34 L267.45,387.37 L267.70,387.34 L267.95,387.29 L268.20,387.21 L268.45,387.14 L268.70,387.06 L268.95,386.99 L269.20,386.95 L269.45,386.92 L269.70,386.90 L269.95,386.85 L270.20,386.82 L270.45,386.77 L270.70,386.72 L270.95,386.69 L271.20,386.65 L271.45,386.67 L271.70,386.69 L271.95,386.69 L272.20,386.63 L272.45,386.45 L272.70,386.05 L272.95,385.29 L273.20,384.06 L273.45,382.37 L273.70,380.47 L273.95,378.76 L274.20,378.05 L274.45,378.67 L274.70,380.26 L274.95,382.16 L275.20,383.82 L275.45,385.14 L275.70,386.03 L275.95,386.60 L276.20,386.95 L276.45,387.11 L276.70,387.23 L276.95,387.23 L277.20,387.16 L277.45,387.06 L277.70,386.98 L277.95,386.96 L278.20,386.91 L278.45,386.90 L278.70,386.98 L278.95,387.09 L279.20,387.15 L279.45,387.17 L279.70,387.26 L279.95,387.30 L280.20,387.28 L280.45,387.25 L280.70,387.23 L280.95,387.19 L281.20,387.10 L281.45,387.01 L281.70,386.84 L281.95,386.52 L282.20,386.09 L282.45,385.56 L282.70,384.83 L282.95,384.05 L283.20,383.36 L283.45,382.93 L283.70,382.86 L283.95,383.16 L284.20,383.72 L284.45,384.36 L284.70,384.97 L284.95,385.49 L285.20,385.95 L285.45,386.28 L285.70,386.63 L285.95,386.88 L286.20,387.09 L286.45,387.23 L286.70,387.26 L286.95,387.30 L287.20,387.25 L287.45,387.26 L287.70,387.23 L287.95,387.24 L288.20,387.30 L288.45,387.30 L288.70,387.32 L288.95,387.28 L289.20,387.24 L289.45,387.17 L289.70,387.12 L289.95,387.09 L290.20,387.07 L290.45,387.08 L290.70,387.08 L290.95,387.10 L291.20,387.08 L291.45,387.09 L291.70,387.07 L291.95,387.07 L292.20,387.02 L292.45,386.99 L292.70,386.97 L292.95,386.85 L293.20,386.74 L293.45,386.55 L293.70,386.38 L293.95,386.10 L294.20,385.78 L294.45,385.50 L294.70,385.24 L294.95,385.06 L295.20,384.97 L295.45,385.06 L295.70,385.25 L295.95,385.49 L296.20,385.73 L296.45,385.93 L296.70,386.11 L296.95,386.26 L297.20,386.37 L297.45,386.38 L297.70,386.42 L297.95,386.38 L298.20,386.27 L298.45,386.12 L298.70,385.94 L298.95,385.80 L299.20,385.58 L299.45,385.40 L299.70,385.32 L299.95,385.30 L300.20,385.45 L300.45,385.67 L300.70,385.92 L300.95,386.18 L301.20,386.39 L301.45,386.54 L301.70,386.59 L301.95,386.58 L302.20,386.63 L302.45,386.67 L302.70,386.64 L302.95,386.65 L303.20,386.66 L303.45,386.67 L303.70,386.60 L303.95,386.40 L304.20,386.23 L304.45,385.91 L304.70,385.52 L304.95,385.07 L305.20,384.56 L305.45,384.11 L305.70,383.64 L305.95,383.35 L306.20,383.21 L306.45,383.25 L306.70,383.41 L306.95,383.72 L307.20,384.11 L307.45,384.54 L307.70,384.99 L307.95,385.40 L308.20,385.85 L308.45,386.19 L308.70,386.49 L308.95,386.69 L309.20,386.84 L309.45,386.95 L309.70,387.03 L309.95,387.13 L310.20,387.21 L310.45,387.25 L310.70,387.25 L310.95,387.28 L311.20,387.25 L311.45,387.19 L311.70,387.12 L311.95,387.09 L312.20,387.09 L312.45,387.08 L312.70,387.08 L312.95,387.06 L313.20,387.05 L313.45,387.02 L313.70,386.95 L313.95,386.90 L314.20,386.83 L314.45,386.81 L314.70,386.79 L314.95,386.81 L315.20,386.86 L315.45,386.91 L315.70,387.02 L315.95,387.14 L316.20,387.26 L316.45,387.36 L316.70,387.45 L316.95,387.51 L317.20,387.52 L317.45,387.50 L317.70,387.48 L317.95,387.46 L318.20,387.40 L318.45,387.36 L318.70,387.31 L318.95,387.24 L319.20,387.20 L319.45,387.16 L319.70,387.18 L319.95,387.17 L320.20,387.23 L320.45,387.31 L320.70,387.39 L320.95,387.43 L321.20,387.47 L321.45,387.54 L321.70,387.53 L321.95,387.46 L322.20,387.36 L322.45,387.24 L322.70,387.06 L322.95,386.82 L323.20,386.56 L323.45,386.25 L323.70,385.87 L323.95,385.35 L324.20,384.74 L324.45,383.90 L324.70,382.83 L324.95,381.56 L325.20,380.17 L325.45,378.75 L325.70,377.40 L325.95,376.45 L326.20,376.14 L326.45,376.53 L326.70,377.47 L326.95,378.75 L327.20,380.21 L327.45,381.61 L327.70,382.83 L327.95,383.77 L328.20,384.47 L328.45,384.90 L328.70,385.10 L328.95,385.06 L329.20,384.86 L329.45,384.67 L329.70,384.49 L329.95,384.42 L330.20,384.48 L330.45,384.72 L330.70,385.07 L330.95,385.41 L331.20,385.75 L331.45,386.05 L331.70,386.31 L331.95,386.52 L332.20,386.67 L332.45,386.77 L332.70,386.85 L332.95,386.87 L333.20,386.87 L333.45,386.87 L333.70,386.88 L333.95,386.89 L334.20,386.90 L334.45,386.97 L334.70,387.02 L334.95,387.02 L335.20,387.04 L335.45,387.05 L335.70,387.03 L335.95,386.99 L336.20,386.95 L336.45,386.97 L336.70,386.95 L336.95,386.98 L337.20,387.01 L337.45,387.06 L337.70,387.14 L337.95,387.16 L338.20,387.17 L338.45,387.10 L338.70,387.06 L338.95,386.97 L339.20,386.85 L339.45,386.76 L339.70,386.66 L339.95,386.59 L340.20,386.49 L340.45,386.36 L340.70,386.16 L340.95,385.86 L341.20,385.54 L341.45,385.13 L341.70,384.71 L341.95,384.31 L342.20,384.06 L342.45,383.96 L342.70,384.02 L342.95,384.25 L343.20,384.53 L343.45,384.88 L343.70,385.19 L343.95,385.49 L344.20,385.74 L344.45,385.96 L344.70,386.13 L344.95,386.18 L345.20,386.22 L345.45,386.15 L345.70,385.97 L345.95,385.72 L346.20,385.48 L346.45,385.23 L346.70,384.90 L346.95,384.66 L347.20,384.56 L347.45,384.62 L347.70,384.72 L347.95,384.97 L348.20,385.35 L348.45,385.75 L348.70,386.12 L348.95,386.39 L349.20,386.67 L349.45,386.87 L349.70,386.94 L349.95,386.93 L350.20,386.89 L350.45,386.86 L350.70,386.85 L350.95,386.81 L351.20,386.83 L351.45,386.80 L351.70,386.81 L351.95,386.82 L352.20,386.77 L352.45,386.76 L352.70,386.73 L352.95,386.81 L353.20,386.84 L353.45,386.88 L353.70,386.91 L353.95,386.92 L354.20,386.91 L354.45,386.81 L354.70,386.70 L354.95,386.56 L355.20,386.48 L355.45,386.38 L355.70,386.23 L355.95,386.04 L356.20,385.79 L356.45,385.36 L356.70,384.68 L356.95,383.75 L357.20,382.65 L357.45,381.40 L357.70,380.04 L357.95,378.82 L358.20,377.94 L358.45,377.60 L358.70,377.90 L358.95,378.74 L359.20,379.95 L359.45,381.32 L359.70,382.63 L359.95,383.81 L360.20,384.77 L360.45,385.49 L360.70,386.03 L360.95,386.37 L361.20,386.60 L361.45,386.79 L361.70,386.87 L361.95,386.95 L362.20,387.01 L362.45,387.04 L362.70,387.06 L362.95,387.01 L363.20,387.02 L363.45,387.02 L363.70,387.02 L363.95,387.06 L364.20,387.11 L364.45,387.19 L364.70,387.22 L364.95,387.25 L365.20,387.29 L365.45,387.35 L365.70,387.38 L365.95,387.39 L366.20,387.41 L366.45,387.44 L366.70,387.48 L366.95,387.48 L367.20,387.48 L367.45,387.43 L367.70,387.42 L367.95,387.39 L368.20,387.31 L368.45,387.24 L368.70,387.19 L368.95,387.20 L369.20,387.18 L369.45,387.17 L369.70,387.15 L369.95,387.18 L370.20,387.16 L370.45,387.19 L370.70,387.21 L370.95,387.28 L371.20,387.37 L371.45,387.40 L371.70,387.47 L371.95,387.45 L372.20,387.45 L372.45,387.39 L372.70,387.31 L372.95,387.30 L373.20,387.27 L373.45,387.28 L373.70,387.28 L373.95,387.29 L374.20,387.32 L374.45,387.32 L374.70,387.32 L374.95,387.30 L375.20,387.30 L375.45,387.27 L375.70,387.23 L375.95,387.17 L376.20,387.14 L376.45,387.17 L376.70,387.18 L376.95,387.21 L377.20,387.29 L377.45,387.32 L377.70,387.32 L377.95,387.28 L378.20,387.26 L378.45,387.26 L378.70,387.25 L378.95,387.28 L379.20,387.32 L379.45,387.37 L379.70,387.38 L379.95,387.37 L380.20,387.33 L380.45,387.32 L380.70,387.29 L380.95,387.25 L381.20,387.23 L381.45,387.23 L381.70,387.28 L381.95,387.34 L382.20,387.40 L382.45,387.48 L382.70,387.51 L382.95,387.53 L383.20,387.46 L383.45,387.34 L383.70,387.24 L383.95,387.16 L384.20,387.13 L384.45,387.10 L384.70,387.16 L384.95,387.29 L385.20,387.41 L385.45,387.53 L385.70,387.61 L385.95,387.67 L386.20,387.65 L386.45,387.57 L386.70,387.48 L386.95,387.38 L387.20,387.27 L387.45,387.17 L387.70,387.10 L387.95,387.03 L388.20,387.02 L388.45,387.03 L388.70,387.08 L388.95,387.18 L389.20,387.26 L389.45,387.33 L389.70,387.33 L389.95,387.30 L390.20,387.24 L390.45,387.13 L390.70,387.06 L390.95,387.03 L391.20,387.08 L391.45,387.11 L391.70,387.14 L391.95,387.23 L392.20,387.32 L392.45,387.37 L392.70,387.35 L392.95,387.40 L393.20,387.46 L393.45,387.52 L393.70,387.54 L393.95,387.59 L394.20,387.70 L394.45,387.75 L394.70,387.79 L394.95,387.77 L395.20,387.76 L395.45,387.70 L395.70,387.60 L395.95,387.46 L396.20,387.33 L396.45,387.27 L396.70,387.23 L396.95,387.18 L397.20,387.15 L397.45,387.18 L397.70,387.22 L397.95,387.18 L398.20,387.11 L398.45,387.09 L398.70,387.14 L398.95,387.17 L399.20,387.19 L399.45,387.28 L399.70,387.39 L399.95,387.44 L400.20,387.38 L400.45,387.28 L400.70,387.14 L400.95,386.97 L401.20,386.76 L401.45,386.54 L401.70,386.36 L401.95,386.16 L402.20,386.01 L402.45,385.85 L402.70,385.77 L402.95,385.78 L403.20,385.89 L403.45,386.09 L403.70,386.30 L403.95,386.55 L404.20,386.72 L404.45,386.84 L404.70,386.91 L404.95,386.94 L405.20,386.94 L405.45,386.94 L405.70,387.01 L405.95,387.12 L406.20,387.18 L406.45,387.26 L406.70,387.33 L406.95,387.37 L407.20,387.36 L407.45,387.36 L407.70,387.42 L407.95,387.47 L408.20,387.56 L408.45,387.63 L408.70,387.69 L408.95,387.69 L409.20,387.67 L409.45,387.61 L409.70,387.48 L409.95,387.37 L410.20,387.31 L410.45,387.31 L410.70,387.30 L410.95,387.30 L411.20,387.39 L411.45,387.47 L411.70,387.50 L411.95,387.51 L412.20,387.53 L412.45,387.60 L412.70,387.60 L412.95,387.61 L413.20,387.62 L413.45,387.63 L413.70,387.59 L413.95,387.53 L414.20,387.47 L414.45,387.45 L414.70,387.46 L414.95,387.50 L415.20,387.58 L415.45,387.62 L415.70,387.67 L415.95,387.70 L416.20,387.62 L416.45,387.52 L416.70,387.41 L416.95,387.34 L417.20,387.32 L417.45,387.28 L417.70,387.30 L417.95,387.31 L418.20,387.30 L418.45,387.26 L418.70,387.16 L418.95,387.08 L419.20,387.03 L419.45,387.02 L419.70,387.00 L419.95,387.01 L420.20,387.02 L420.45,387.06 L420.70,387.04 L420.95,387.03 L421.20,387.05 L421.45,387.07 L421.70,387.10 L421.95,387.08 L422.20,387.05 L422.45,386.96 L422.70,386.78 L422.95,386.49 L423.20,386.19 L423.45,385.84 L423.70,385.46 L423.95,385.09 L424.20,384.85 L424.45,384.72 L424.70,384.67 L424.95,384.77 L425.20,384.99 L425.45,385.31 L425.70,385.61 L425.95,385.99 L426.20,386.37 L426.45,386.68 L426.70,386.91 L426.95,387.08 L427.20,387.16 L427.45,387.14 L427.70,387.10 L427.95,387.11 L428.20,387.14 L428.45,387.17 L428.70,387.24 L428.95,387.30 L429.20,387.34 L429.45,387.37 L429.70,387.33 L429.95,387.31 L430.20,387.28 L430.45,387.27 L430.70,387.29 L430.95,387.23 L431.20,387.22 L431.45,387.21 L431.70,387.22 L431.95,387.24 L432.20,387.24 L432.45,387.32 L432.70,387.40 L432.95,387.45 L433.20,387.47 L433.45,387.44 L433.70,387.43 L433.95,387.35 L434.20,387.24 L434.45,387.17 L434.70,387.15 L434.95,387.19 L435.20,387.21 L435.45,387.32 L435.70,387.44 L435.95,387.55 L436.20,387.57 L436.45,387.56 L436.70,387.60 L436.95,387.55 L437.20,387.49 L437.45,387.40 L437.70,387.38 L437.95,387.38 L438.20,387.34 L438.45,387.33 L438.70,387.36 L438.95,387.43 L439.20,387.50 L439.45,387.56 L439.70,387.59 L439.95,387.64 L440.20,387.68 L440.45,387.66 L440.70,387.66 L440.95,387.65 L441.20,387.66 L441.45,387.62 L441.70,387.59 L441.95,387.59 L442.20,387.58 L442.45,387.53 L442.70,387.51 L442.95,387.55 L443.20,387.61 L443.45,387.66 L443.70,387.69 L443.95,387.75 L444.20,387.82 L444.45,387.87 L444.70,387.89 L444.95,387.90 L445.20,387.92 L445.45,387.96 L445.70,387.96 L445.95,387.85 L446.20,387.75 L446.45,387.65 L446.70,387.51 L446.95,387.36 L447.20,387.26 L447.45,387.28 L447.70,387.31 L447.95,387.36 L448.20,387.44 L448.45,387.54 L448.70,387.62 L448.95,387.63 L449.20,387.66 L449.45,387.68 L449.70,387.67 L449.95,387.64 L450.20,387.59 L450.45,387.54 L450.70,387.49 L450.95,387.45 L451.20,387.43 L451.45,387.32 L451.70,387.24 L451.95,387.19 L452.20,387.08 L452.45,386.94 L452.70,386.81 L452.95,386.78 L453.20,386.76 L453.45,386.74 L453.70,386.78 L453.95,386.87 L454.20,387.01 L454.45,387.10 L454.70,387.21 L454.95,387.32 L455.20,387.43 L455.45,387.50 L455.70,387.55 L455.95,387.60 L456.20,387.59 L456.45,387.56 L456.70,387.54 L456.95,387.50 L457.20,387.43 L457.45,387.38 L457.70,387.41 L457.95,387.48 L458.20,387.50 L458.45,387.53 L458.70,387.63 L458.95,387.68 L459.20,387.70 L459.45,387.69 L459.70,387.69 L459.95,387.71 L460.20,387.64 L460.45,387.62 L460.70,387.55 L460.95,387.48 L461.20,387.43 L461.45,387.37 L461.70,387.38 L461.95,387.38 L462.20,387.43 L462.45,387.51 L462.70,387.59 L462.95,387.62 L463.20,387.62 L463.45,387.61 L463.70,387.64 L463.95,387.63 L464.20,387.54 L464.45,387.55 L464.70,387.52 L464.95,387.53 L465.20,387.45 L465.45,387.43 L465.70,387.48 L465.95,387.48 L466.20,387.54 L466.45,387.58 L466.70,387.64 L466.95,387.67 L467.20,387.70 L467.45,387.73 L467.70,387.74 L467.95,387.73 L468.20,387.74 L468.45,387.74 L468.70,387.69 L468.95,387.68 L469.20,387.63 L469.45,387.61 L469.70,387.55 L469.95,387.46 L470.20,387.41 L470.45,387.34 L470.70,387.32 L470.95,387.26 L471.20,387.26 L471.45,387.33 L471.70,387.43 L471.95,387.55 L472.20,387.67 L472.45,387.83 L472.70,387.90 L472.95,387.93 L473.20,387.90 L473.45,387.83 L473.70,387.72 L473.95,387.62 L474.20,387.61 L474.45,387.58 L474.70,387.57 L474.95,387.57 L475.20,387.54 L475.45,387.49 L475.70,387.39 L475.95,387.36 L476.20,387.30 L476.45,387.29 L476.70,387.34 L476.95,387.39 L477.20,387.46 L477.45,387.49 L477.70,387.55 L477.95,387.54 L478.20,387.55 L478.45,387.55 L478.70,387.51 L478.95,387.51 L479.20,387.49 L479.45,387.55 L479.70,387.57 L479.95,387.62 L480.20,387.68 L480.45,387.72 L480.70,387.76 L480.95,387.76 L481.20,387.81 L481.45,387.83 L481.70,387.86 L481.95,387.86 L482.20,387.86 L482.45,387.87 L482.70,387.85 L482.95,387.83 L483.20,387.79 L483.45,387.79 L483.70,387.76 L483.95,387.71 L484.20,387.65 L484.45,387.61 L484.70,387.63 L484.95,387.64 L485.20,387.66 L485.45,387.67 L485.70,387.70 L485.95,387.70 L486.20,387.63 L486.45,387.59 L486.70,387.57 L486.95,387.52 L487.20,387.50 L487.45,387.48 L487.70,387.50 L487.95,387.47 L488.20,387.47 L488.45,387.53 L488.70,387.56 L488.95,387.64 L489.20,387.71 L489.45,387.79 L489.70,387.83 L489.95,387.87 L490.20,387.92 L490.45,387.94 L490.70,387.94 L490.95,387.96 L491.20,387.93 L491.45,387.89 L491.70,387.84 L491.95,387.83 L492.20,387.82 L492.45,387.78 L492.70,387.77 L492.95,387.72 L493.20,387.64 L493.45,387.50 L493.70,387.35 L493.95,387.25 L494.20,387.19 L494.45,387.17 L494.70,387.20 L494.95,387.32 L495.20,387.48 L495.45,387.60 L495.70,387.71 L495.95,387.83 L496.20,387.87 L496.45,387.82 L496.70,387.74 L496.95,387.66 L497.20,387.56 L497.45,387.43 L497.70,387.36 L497.95,387.34 L498.20,387.32 L498.45,387.34 L498.70,387.36 L498.95,387.38 L499.20,387.42 L499.45,387.46 L499.70,387.45 L499.95,387.42 L500.20,387.42 L500.45,387.40 L500.70,387.36 L500.95,387.32 L501.20,387.36 L501.45,387.40 L501.70,387.43 L501.95,387.46 L502.20,387.51 L502.45,387.56 L502.70,387.59 L502.95,387.63 L503.20,387.67 L503.45,387.74 L503.70,387.79 L503.95,387.84 L504.20,387.82 L504.45,387.78 L504.70,387.75 L504.95,387.67 L505.20,387.59 L505.45,387.50 L505.70,387.48 L505.95,387.42 L506.20,387.36 L506.45,387.30 L506.70,387.27 L506.95,387.21 L507.20,387.11 L507.45,387.08 L507.70,387.06 L507.95,387.11 L508.20,387.14 L508.45,387.22 L508.70,387.32 L508.95,387.36 L509.20,387.43 L509.45,387.41 L509.70,387.39 L509.95,387.39 L510.20,387.40 L510.45,387.43 L510.70,387.41 L510.95,387.43 L511.20,387.45 L511.45,387.43 L511.70,387.40 L511.95,387.35 L512.20,387.35 L512.45,387.28 L512.70,387.16 L512.95,387.01 L513.20,386.79 L513.45,386.56 L513.70,386.24 L513.95,385.94 L514.20,385.64 L514.45,385.38 L514.70,385.16 L514.95,384.94 L515.20,384.84 L515.45,384.79 L515.70,384.87 L515.95,384.98 L516.20,385.12 L516.45,385.32 L516.70,385.56 L516.95,385.80 L517.20,385.99 L517.45,386.21 L517.70,386.44 L517.95,386.66 L518.20,386.79 L518.45,386.92 L518.70,387.03 L518.95,387.12 L519.20,387.20 L519.45,387.29 L519.70,387.38 L519.95,387.46 L520.20,387.53" fill="none" stroke="#1414ff" stroke-width="1.45" stroke-linejoin="round"/>
<g font-family="'Liberation Serif',serif" font-size="15.5" text-anchor="middle" fill="#000">
<text transform="translate(53.2,417.9) scale(1,1.13)">10</text>
<text transform="translate(111.6,417.9) scale(1,1.13)">20</text>
<text transform="translate(169.9,417.9) scale(1,1.13)">30</text>
<text transform="translate(228.3,417.9) scale(1,1.13)">40</text>
<text transform="translate(286.6,417.9) scale(1,1.13)">50</text>
<text transform="translate(345.0,417.9) scale(1,1.13)">60</text>
<text transform="translate(403.4,417.9) scale(1,1.13)">70</text>
<text transform="translate(461.7,417.9) scale(1,1.13)">80</text>
<text transform="translate(520.1,417.9) scale(1,1.13)">90</text>
</g>
<text transform="translate(0,442) scale(1,1.1)" font-family="'Liberation Serif',serif" font-size="16.5"><tspan x="259.8">2</tspan><tspan font-style="italic" dx="0.6">θ</tspan><tspan x="283.5">/(</tspan><tspan x="294.8">°</tspan><tspan x="302.2">)</tspan></text>
<text transform="translate(22,267.6) rotate(-90) scale(1.1,1)" font-family="'Liberation Serif',serif" font-size="17.5" style="stroke-width:.08px"><tspan x="0">Intensity</tspan><tspan x="60.6">(a.</tspan><tspan x="82">u.</tspan><tspan x="97.6">)</tspan></text>
<g font-family="'Liberation Serif',serif" font-size="14.8" font-weight="bold" fill="#000">
<text transform="translate(464.6,103.4) scale(1,1.06)">Raw slag</text>
<text transform="translate(463.3,146.6) scale(1,1.06)">Ca/V=0.25</text>
<text transform="translate(463.3,193.9) scale(1,1.06)">Ca/V=0.5</text>
<text transform="translate(463.3,238.2) scale(1,1.06)">Ca/V=0.75</text>
<text transform="translate(463.3,280.3) scale(1,1.06)">Ca/V=1.0</text>
<text transform="translate(462.7,327.1) scale(1,1.06)">Ca/V=1.25</text>
<text transform="translate(464.3,371.2) scale(1,1.06)">Ca/V=1.5</text>
</g>
<path d="M101.8,93.2 L105.89999999999999,97.3 L101.8,101.39999999999999 L97.7,97.3 Z M169.8,83.2 L173.9,87.3 L169.8,91.39999999999999 L165.70000000000002,87.3 Z M201,51.199999999999996 L205.1,55.3 L201,59.4 L196.9,55.3 Z M244.4,88.80000000000001 L248.5,92.9 L244.4,97.0 L240.3,92.9 Z M304.4,83.7 L308.5,87.8 L304.4,91.89999999999999 L300.29999999999995,87.8 Z M324,91.7 L328.1,95.8 L324,99.89999999999999 L319.9,95.8 Z M356,89.9 L360.1,94 L356,98.1 L351.9,94 Z" fill="#000"/>
<path d="M120.64999999999999,98.95 L129.54999999999998,98.95 L125.1,106.64999999999999 Z M136.15,97.15 L145.04999999999998,97.15 L140.6,104.85 Z M176.15,96.15 L185.04999999999998,96.15 L180.6,103.85 Z M201.55,96.15 L210.45,96.15 L206,103.85 Z M290.05,99.85000000000001 L298.95,99.85000000000001 L294.5,107.55 Z M299.95,97.95 L308.84999999999997,97.95 L304.4,105.64999999999999 Z" fill="#000"/>
<g font-family="'Liberation Serif',serif" font-size="13.1" text-anchor="middle" fill="#000" style="stroke-width:.05px">
<text transform="translate(90.1,235.0) scale(.92,1.06)">3</text>
<text transform="translate(90.1,245.5) scale(.92,1.06)">2</text>
<text transform="translate(119.6,246.6) scale(.92,1.06)">2</text>
<text transform="translate(137.4,243.3) scale(.92,1.06)">2</text>
<text transform="translate(171.2,220.2) scale(.92,1.06)">3</text>
<text transform="translate(171.2,233.2) scale(.92,1.06)">2</text>
<text transform="translate(184.3,245.5) scale(.92,1.06)">2</text>
<text transform="translate(190.5,232.1) scale(.92,1.06)">1</text>
<text transform="translate(191.2,243.0) scale(.92,1.06)">2</text>
<text transform="translate(196.7,236.8) scale(.92,1.06)">2</text>
<text transform="translate(206.9,220.1) scale(.92,1.06)">1</text>
<text transform="translate(207.2,230.6) scale(.92,1.06)">3</text>
<text transform="translate(213.8,245.9) scale(.92,1.06)">2</text>
<text transform="translate(232.5,250.3) scale(.92,1.06)">1</text>
<text transform="translate(245.4,237.7) scale(.92,1.06)">3</text>
<text transform="translate(286.1,233.0) scale(.92,1.06)">1</text>
<text transform="translate(286.1,245.0) scale(.92,1.06)">2</text>
<text transform="translate(326.1,238.4) scale(.92,1.06)">2</text>
<text transform="translate(357.8,237.0) scale(.92,1.06)">3</text>
<text transform="translate(430.3,250.0) scale(.92,1.06)">1</text>
<text transform="translate(157.4,336.9) scale(.92,1.06)">4</text>
<text transform="translate(190.8,319.1) scale(.92,1.06)">4</text>
<text transform="translate(212.3,331.8) scale(.92,1.06)">4</text>
<text transform="translate(240.3,336.3) scale(.92,1.06)">4</text>
<text transform="translate(132.3,383.3) scale(.92,1.06)">5</text>
<text transform="translate(138.5,379.3) scale(.92,1.06)">6</text>
<text transform="translate(191.2,358.2) scale(.92,1.06)">5</text>
<text transform="translate(185.8,378.6) scale(.92,1.06)">6</text>
<text transform="translate(207.2,379.3) scale(.92,1.06)">6</text>
<text transform="translate(274.8,376.0) scale(.92,1.06)">5</text>
<text transform="translate(284.7,380.0) scale(.92,1.06)">6</text>
<text transform="translate(343.2,377.8) scale(.92,1.06)">5</text>
<text transform="translate(403.8,382.5) scale(.92,1.06)">5</text>
</g>
<rect x="236" y="12.8" width="251.2" height="68.5" fill="#000"/>
<rect x="231.9" y="8.9" width="251.4" height="68.1" fill="#fff" stroke="#8c8c8c" stroke-width="1"/>
<g font-family="'Liberation Serif',serif" font-size="14.5" fill="#000">
<text transform="translate(249.4,27) scale(1,1.05)">- (Mn,Fe)(V,Cr,Ti)<tspan font-size="10.5" dy="4.6">2</tspan><tspan dy="-4.6">O</tspan><tspan font-size="10.5" dy="4.6">4</tspan><tspan dy="-4.6"></tspan></text>
<text transform="translate(0,27) scale(1,1.05)"><tspan x="402">-</tspan><tspan x="413.4">Fe</tspan><tspan font-size="10.5" dy="4.6">2</tspan><tspan dy="-4.6">SiO</tspan><tspan font-size="10.5" dy="4.6">4</tspan><tspan dy="-4.6"></tspan></text>
<text transform="translate(234.6,47.6) scale(1,1.05)">1 - CaV<tspan font-size="10.5" dy="4.6">2</tspan><tspan dy="-4.6">O</tspan><tspan font-size="10.5" dy="4.6">4</tspan><tspan dy="-4.6"> 2 - CaFeSiO</tspan><tspan font-size="10.5" dy="4.6">4</tspan><tspan dy="-4.6"> 3 - MgV</tspan><tspan font-size="10.5" dy="4.6">2</tspan><tspan dy="-4.6">O</tspan><tspan font-size="10.5" dy="4.6">4</tspan><tspan dy="-4.6"></tspan></text>
<text transform="translate(234.3,69.4) scale(1,1.05)">4 - V<tspan font-size="10.5" dy="4.6">2</tspan><tspan dy="-4.6">O</tspan><tspan font-size="10.5" dy="4.6">4</tspan><tspan dy="-4.6">&#160; 5 - CaTiO</tspan><tspan font-size="10.5" dy="4.6">3</tspan><tspan dy="-4.6"> 6 - (Ti.45V.955)</tspan><tspan font-size="10.5" dy="4.6">2</tspan><tspan dy="-4.6">O</tspan><tspan font-size="10.5" dy="4.6">3</tspan><tspan dy="-4.6"></tspan></text>
</g>
<path d="M239.5,17.5 L243.8,21.8 L239.5,26.1 L235.2,21.8 Z" fill="#000"/>
<path d="M385.6,17.200000000000003 L397.0,17.200000000000003 L391.3,26.4 Z" fill="#000"/>
</svg>
</body></html>
